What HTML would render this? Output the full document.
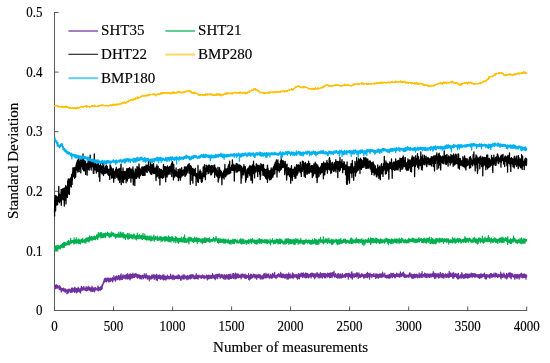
<!DOCTYPE html>
<html><head><meta charset="utf-8"><style>
html,body{margin:0;padding:0;background:#fff;}
body{width:550px;height:363px;overflow:hidden;}
svg{display:block;}
text{font-family:"Liberation Serif","Times New Roman",serif;fill:#000;stroke:#000;stroke-width:0.15px;}
</style></head><body>
<svg width="550" height="363" viewBox="0 0 550 363">
<g stroke="#595959" stroke-width="1" fill="none">
<line x1="54.5" y1="12" x2="54.5" y2="311"/>
<line x1="54" y1="310.5" x2="527.2" y2="310.5"/>
<line x1="54.5" y1="310.5" x2="58.5" y2="310.5"/><line x1="54.5" y1="250.9" x2="58.5" y2="250.9"/><line x1="54.5" y1="191.3" x2="58.5" y2="191.3"/><line x1="54.5" y1="131.7" x2="58.5" y2="131.7"/><line x1="54.5" y1="72.1" x2="58.5" y2="72.1"/><line x1="54.5" y1="12.5" x2="58.5" y2="12.5"/><line x1="54.5" y1="310.5" x2="54.5" y2="306.5"/><line x1="113.5" y1="310.5" x2="113.5" y2="306.5"/><line x1="172.6" y1="310.5" x2="172.6" y2="306.5"/><line x1="231.6" y1="310.5" x2="231.6" y2="306.5"/><line x1="290.6" y1="310.5" x2="290.6" y2="306.5"/><line x1="349.6" y1="310.5" x2="349.6" y2="306.5"/><line x1="408.7" y1="310.5" x2="408.7" y2="306.5"/><line x1="467.7" y1="310.5" x2="467.7" y2="306.5"/><line x1="526.7" y1="310.5" x2="526.7" y2="306.5"/>
</g>
<g font-size="13"><text transform="translate(42.4,315.1) scale(1,1.16)" text-anchor="end">0</text><text transform="translate(42.4,255.5) scale(1,1.16)" text-anchor="end">0.1</text><text transform="translate(42.4,195.9) scale(1,1.16)" text-anchor="end">0.2</text><text transform="translate(42.4,136.3) scale(1,1.16)" text-anchor="end">0.3</text><text transform="translate(42.4,76.7) scale(1,1.16)" text-anchor="end">0.4</text><text transform="translate(42.4,17.1) scale(1,1.16)" text-anchor="end">0.5</text><text transform="translate(54.5,331.2) scale(1,1.16)" text-anchor="middle">0</text><text transform="translate(113.5,331.2) scale(1,1.16)" text-anchor="middle">500</text><text transform="translate(172.6,331.2) scale(1,1.16)" text-anchor="middle">1000</text><text transform="translate(231.6,331.2) scale(1,1.16)" text-anchor="middle">1500</text><text transform="translate(290.6,331.2) scale(1,1.16)" text-anchor="middle">2000</text><text transform="translate(349.6,331.2) scale(1,1.16)" text-anchor="middle">2500</text><text transform="translate(408.7,331.2) scale(1,1.16)" text-anchor="middle">3000</text><text transform="translate(467.7,331.2) scale(1,1.16)" text-anchor="middle">3500</text><text transform="translate(526.7,331.2) scale(1,1.16)" text-anchor="middle">4000</text></g>
<polyline fill="none" stroke="#7030A0" stroke-width="1.2" stroke-linejoin="round" points="54.5,285.6 54.6,285.0 54.7,286.3 54.9,287.1 55.0,288.0 55.1,286.7 55.2,285.9 55.3,285.6 55.4,287.5 55.6,288.6 55.7,286.9 55.8,285.1 55.9,285.5 56.0,288.6 56.2,286.9 56.3,284.6 56.4,286.6 56.5,285.4 56.6,286.1 56.7,286.3 56.9,286.1 57.0,287.6 57.1,286.9 57.2,286.4 57.3,287.6 57.5,288.2 57.6,285.3 57.7,287.0 57.8,286.2 57.9,287.2 58.0,285.9 58.2,287.6 58.3,287.6 58.4,287.3 58.5,286.5 58.6,287.4 58.8,286.6 58.9,286.3 59.0,288.3 59.1,286.8 59.2,289.6 59.3,289.1 59.5,285.9 59.6,288.6 59.7,287.1 59.8,288.5 59.9,288.5 60.0,286.1 60.2,288.3 60.3,288.3 60.4,289.8 60.5,287.3 60.6,289.6 60.8,287.5 60.9,288.4 61.0,287.9 61.1,290.6 61.2,289.6 61.3,291.9 61.5,289.7 61.6,290.0 61.7,290.0 61.8,288.3 61.9,289.0 62.1,290.8 62.2,288.7 62.3,289.5 62.4,289.3 62.5,290.1 62.6,288.9 62.8,289.2 62.9,289.8 63.0,289.7 63.1,288.5 63.2,290.7 63.4,288.1 63.5,288.3 63.6,288.3 63.7,291.1 63.8,289.6 63.9,288.9 64.1,288.8 64.2,290.7 64.3,289.0 64.4,288.9 64.5,291.2 64.7,289.1 64.8,290.2 64.9,290.7 65.0,290.2 65.1,290.8 65.2,292.5 65.4,290.3 65.5,289.5 65.6,288.9 65.7,290.9 65.8,290.7 66.0,291.5 66.1,290.7 66.2,290.7 66.3,290.4 66.4,290.7 66.5,291.5 66.7,290.9 66.8,291.5 66.9,293.6 67.0,291.9 67.1,289.5 67.3,293.4 67.4,291.7 67.5,290.2 67.6,292.4 67.7,291.2 67.8,290.4 68.0,290.3 68.1,289.8 68.2,291.0 68.3,292.2 68.4,290.4 68.6,291.3 68.7,292.9 68.8,289.2 68.9,290.9 69.0,290.2 69.1,289.2 69.3,289.2 69.4,290.4 69.5,290.9 69.6,289.7 69.7,290.3 69.9,291.1 70.0,290.6 70.1,291.2 70.2,290.7 70.3,290.7 70.4,292.3 70.6,290.9 70.7,290.3 70.8,290.9 70.9,289.0 71.0,289.6 71.1,291.0 71.3,290.8 71.4,291.9 71.5,290.0 71.6,288.2 71.7,292.3 71.9,291.3 72.0,288.7 72.1,291.6 72.2,290.0 72.3,287.8 72.4,289.5 72.6,289.3 72.7,291.9 72.8,289.0 72.9,289.6 73.0,289.6 73.2,289.5 73.3,288.9 73.4,290.2 73.5,291.2 73.6,290.7 73.7,288.8 73.9,288.6 74.0,290.1 74.1,289.1 74.2,289.2 74.3,287.9 74.5,292.3 74.6,291.0 74.7,288.7 74.8,291.0 74.9,291.5 75.0,287.0 75.2,289.2 75.3,289.4 75.4,290.6 75.5,289.7 75.6,289.5 75.8,289.7 75.9,292.0 76.0,292.3 76.1,289.1 76.2,288.6 76.3,292.9 76.5,288.5 76.6,289.0 76.7,289.7 76.8,290.2 76.9,290.9 77.1,290.1 77.2,288.6 77.3,290.2 77.4,289.9 77.5,291.9 77.6,289.6 77.8,288.0 77.9,288.4 78.0,291.4 78.1,289.0 78.2,287.1 78.4,289.0 78.5,289.7 78.6,291.2 78.7,288.5 78.8,290.6 78.9,290.7 79.1,288.9 79.2,289.6 79.3,291.9 79.4,291.9 79.5,290.8 79.7,290.2 79.8,291.2 79.9,289.6 80.0,289.7 80.1,288.7 80.2,289.8 80.4,289.6 80.5,293.0 80.6,289.4 80.7,291.1 80.8,291.2 80.9,289.3 81.1,290.9 81.2,286.8 81.3,289.5 81.4,290.3 81.5,286.4 81.7,287.8 81.8,290.4 81.9,288.8 82.0,287.7 82.1,288.5 82.2,288.2 82.4,289.7 82.5,289.3 82.6,288.4 82.7,287.9 82.8,288.6 83.0,290.2 83.1,289.0 83.2,289.3 83.3,288.4 83.4,287.0 83.5,287.7 83.7,289.4 83.8,288.7 83.9,287.5 84.0,286.7 84.1,288.8 84.3,288.3 84.4,288.3 84.5,288.3 84.6,289.1 84.7,289.1 84.8,289.9 85.0,289.9 85.1,290.4 85.2,289.8 85.3,288.4 85.4,288.8 85.6,289.4 85.7,288.5 85.8,289.5 85.9,290.3 86.0,287.9 86.1,286.7 86.3,290.3 86.4,288.9 86.5,289.7 86.6,287.3 86.7,290.9 86.9,289.7 87.0,288.7 87.1,288.4 87.2,289.0 87.3,288.6 87.4,288.5 87.6,287.5 87.7,290.3 87.8,288.8 87.9,288.9 88.0,288.9 88.2,286.0 88.3,289.5 88.4,288.4 88.5,288.5 88.6,288.9 88.7,287.7 88.9,289.9 89.0,288.1 89.1,287.8 89.2,287.9 89.3,289.1 89.5,289.8 89.6,288.2 89.7,287.2 89.8,290.3 89.9,287.7 90.0,290.5 90.2,289.0 90.3,288.2 90.4,288.3 90.5,289.6 90.6,290.1 90.8,288.8 90.9,290.2 91.0,291.6 91.1,288.8 91.2,287.7 91.3,287.8 91.5,287.4 91.6,288.3 91.7,288.3 91.8,287.5 91.9,289.8 92.0,286.0 92.2,287.6 92.3,291.6 92.4,290.4 92.5,289.8 92.6,289.8 92.8,291.4 92.9,289.9 93.0,289.4 93.1,287.9 93.2,289.3 93.3,288.5 93.5,288.6 93.6,288.6 93.7,289.4 93.8,289.1 93.9,290.5 94.1,287.9 94.2,289.3 94.3,291.8 94.4,289.6 94.5,291.0 94.6,290.9 94.8,291.1 94.9,290.5 95.0,287.9 95.1,289.3 95.2,289.1 95.4,287.7 95.5,289.0 95.6,288.1 95.7,287.6 95.8,289.8 95.9,289.5 96.1,288.7 96.2,288.4 96.3,288.9 96.4,289.0 96.5,289.0 96.7,289.4 96.8,289.0 96.9,289.9 97.0,290.1 97.1,289.9 97.2,288.6 97.4,288.7 97.5,289.9 97.6,289.2 97.7,289.3 97.8,286.4 98.0,286.1 98.1,289.8 98.2,289.8 98.3,291.0 98.4,290.2 98.5,289.6 98.7,289.3 98.8,287.5 98.9,290.2 99.0,288.3 99.1,289.5 99.3,289.1 99.4,289.1 99.5,289.8 99.6,288.1 99.7,288.1 99.8,287.5 100.0,288.0 100.1,290.3 100.2,287.8 100.3,289.6 100.4,289.1 100.6,288.9 100.7,288.9 100.8,286.7 100.9,288.2 101.0,289.6 101.1,286.8 101.3,287.5 101.4,286.7 101.5,287.8 101.6,286.1 101.7,289.3 101.8,286.7 102.0,284.9 102.1,288.6 102.2,287.2 102.3,286.3 102.4,286.0 102.6,284.6 102.7,284.4 102.8,285.2 102.9,285.1 103.0,284.7 103.1,283.5 103.3,282.4 103.4,282.3 103.5,283.6 103.6,283.6 103.7,281.1 103.9,280.6 104.0,282.3 104.1,281.5 104.2,281.5 104.3,279.0 104.4,280.1 104.6,279.9 104.7,280.7 104.8,278.3 104.9,281.8 105.0,280.6 105.2,280.7 105.3,278.7 105.4,280.1 105.5,281.6 105.6,278.1 105.7,280.3 105.9,280.7 106.0,279.0 106.1,280.8 106.2,279.3 106.3,281.2 106.5,280.3 106.6,279.9 106.7,282.0 106.8,280.5 106.9,281.0 107.0,278.0 107.2,278.7 107.3,280.5 107.4,280.5 107.5,279.4 107.6,280.4 107.8,278.2 107.9,279.8 108.0,278.1 108.1,279.9 108.2,279.0 108.3,278.8 108.5,279.6 108.6,281.8 108.7,278.4 108.8,278.9 108.9,280.9 109.1,279.1 109.2,281.8 109.3,279.9 109.4,279.8 109.5,280.1 109.6,281.7 109.8,280.4 109.9,280.3 110.0,279.9 110.1,277.8 110.2,278.6 110.4,281.4 110.5,280.6 110.6,280.2 110.7,280.4 110.8,278.9 110.9,280.0 111.1,278.5 111.2,280.0 111.3,278.7 111.4,279.3 111.5,280.1 111.7,279.1 111.8,280.3 111.9,280.1 112.0,280.0 112.1,281.1 112.2,277.7 112.4,277.6 112.5,280.2 112.6,280.6 112.7,281.9 112.8,280.4 112.9,280.4 113.1,278.4 113.2,280.3 113.3,280.2 113.4,278.1 113.5,278.3 113.7,279.2 113.8,279.6 113.9,275.7 114.0,279.3 114.1,279.5 114.2,279.0 114.4,279.5 114.5,279.7 114.6,277.9 114.7,279.6 114.8,278.7 115.0,277.9 115.1,279.2 115.2,280.7 115.3,277.1 115.4,276.9 115.5,276.8 115.7,281.1 115.8,278.4 115.9,278.6 116.0,277.7 116.1,277.4 116.3,276.1 116.4,278.7 116.5,278.7 116.6,276.0 116.7,277.0 116.8,277.3 117.0,278.1 117.1,278.4 117.2,279.4 117.3,279.7 117.4,279.3 117.6,279.6 117.7,276.5 117.8,277.2 117.9,279.2 118.0,278.2 118.1,277.8 118.3,275.4 118.4,275.6 118.5,278.7 118.6,278.2 118.7,277.4 118.9,277.3 119.0,275.7 119.1,278.2 119.2,279.0 119.3,279.8 119.4,277.9 119.6,277.6 119.7,276.5 119.8,279.3 119.9,279.9 120.0,277.1 120.2,278.2 120.3,278.0 120.4,277.2 120.5,274.9 120.6,277.4 120.7,278.6 120.9,276.1 121.0,276.9 121.1,273.9 121.2,279.4 121.3,278.4 121.5,277.9 121.6,277.5 121.7,277.0 121.8,277.6 121.9,277.3 122.0,277.4 122.2,277.6 122.3,277.7 122.4,279.4 122.5,275.8 122.6,277.8 122.7,276.7 122.9,276.0 123.0,274.5 123.1,278.0 123.2,276.1 123.3,276.3 123.5,277.7 123.6,275.8 123.7,277.1 123.8,276.9 123.9,277.9 124.0,278.2 124.2,275.9 124.3,278.0 124.4,276.7 124.5,276.9 124.6,276.5 124.8,277.7 124.9,275.2 125.0,277.0 125.1,278.0 125.2,276.3 125.3,279.0 125.5,275.7 125.6,276.8 125.7,275.9 125.8,275.7 125.9,275.1 126.1,275.8 126.2,276.4 126.3,275.4 126.4,277.4 126.5,278.2 126.6,274.5 126.8,277.3 126.9,276.5 127.0,276.6 127.1,279.2 127.2,277.7 127.4,276.6 127.5,276.4 127.6,273.6 127.7,277.1 127.8,275.3 127.9,276.4 128.1,276.3 128.2,277.3 128.3,278.6 128.4,277.3 128.5,277.7 128.7,275.9 128.8,276.7 128.9,277.1 129.0,274.4 129.1,278.6 129.2,275.3 129.4,274.7 129.5,278.2 129.6,278.8 129.7,275.4 129.8,275.5 130.0,280.0 130.1,276.4 130.2,273.9 130.3,275.6 130.4,278.7 130.5,277.1 130.7,277.2 130.8,277.7 130.9,277.1 131.0,275.8 131.1,274.3 131.3,276.7 131.4,274.8 131.5,276.1 131.6,278.2 131.7,276.7 131.8,276.1 132.0,276.1 132.1,276.9 132.2,277.1 132.3,274.3 132.4,276.1 132.6,277.9 132.7,276.7 132.8,274.8 132.9,274.9 133.0,273.2 133.1,274.7 133.3,277.5 133.4,275.5 133.5,274.5 133.6,274.8 133.7,275.4 133.8,275.4 134.0,275.1 134.1,274.6 134.2,276.3 134.3,277.4 134.4,274.9 134.6,274.9 134.7,277.0 134.8,273.8 134.9,274.9 135.0,275.2 135.1,275.9 135.3,275.4 135.4,274.7 135.5,276.2 135.6,274.4 135.7,273.8 135.9,273.4 136.0,276.8 136.1,273.8 136.2,276.5 136.3,276.8 136.4,276.9 136.6,275.8 136.7,275.3 136.8,276.1 136.9,275.3 137.0,274.5 137.2,277.5 137.3,274.9 137.4,278.2 137.5,276.6 137.6,275.5 137.7,276.5 137.9,277.5 138.0,274.4 138.1,274.9 138.2,274.8 138.3,276.3 138.5,276.6 138.6,276.2 138.7,275.3 138.8,275.6 138.9,277.7 139.0,277.7 139.2,276.5 139.3,274.8 139.4,277.2 139.5,276.8 139.6,276.8 139.8,278.6 139.9,277.6 140.0,275.5 140.1,275.5 140.2,278.3 140.3,277.0 140.5,277.8 140.6,276.6 140.7,275.6 140.8,277.1 140.9,278.7 141.1,277.2 141.2,275.5 141.3,276.4 141.4,276.2 141.5,277.0 141.6,278.0 141.8,279.1 141.9,277.0 142.0,276.2 142.1,276.8 142.2,276.7 142.4,276.2 142.5,276.7 142.6,276.6 142.7,275.2 142.8,277.2 142.9,276.1 143.1,275.4 143.2,277.1 143.3,275.9 143.4,278.6 143.5,277.0 143.7,276.5 143.8,275.5 143.9,275.9 144.0,277.5 144.1,275.6 144.2,277.4 144.4,273.9 144.5,276.7 144.6,277.5 144.7,276.9 144.8,276.5 144.9,277.7 145.1,275.5 145.2,275.4 145.3,276.7 145.4,278.1 145.5,277.2 145.7,276.5 145.8,277.1 145.9,277.3 146.0,275.3 146.1,273.5 146.2,275.7 146.4,275.1 146.5,276.3 146.6,275.6 146.7,276.0 146.8,277.6 147.0,277.3 147.1,277.1 147.2,279.2 147.3,276.7 147.4,276.8 147.5,278.8 147.7,276.0 147.8,275.4 147.9,279.0 148.0,277.8 148.1,278.1 148.3,278.2 148.4,278.5 148.5,276.9 148.6,277.3 148.7,276.1 148.8,277.6 149.0,277.6 149.1,276.8 149.2,278.1 149.3,280.8 149.4,275.8 149.6,278.2 149.7,278.3 149.8,278.4 149.9,276.1 150.0,278.4 150.1,277.7 150.3,276.8 150.4,276.5 150.5,277.1 150.6,277.9 150.7,277.8 150.9,279.5 151.0,276.3 151.1,277.5 151.2,276.2 151.3,277.6 151.4,276.9 151.6,276.0 151.7,275.1 151.8,275.8 151.9,277.0 152.0,278.5 152.2,277.7 152.3,275.3 152.4,276.2 152.5,276.9 152.6,276.7 152.7,276.9 152.9,277.8 153.0,277.2 153.1,276.1 153.2,274.7 153.3,276.6 153.5,275.0 153.6,276.9 153.7,277.5 153.8,275.5 153.9,277.0 154.0,276.7 154.2,279.4 154.3,277.7 154.4,274.9 154.5,277.7 154.6,277.7 154.7,277.0 154.9,276.8 155.0,277.9 155.1,278.0 155.2,277.7 155.3,276.0 155.5,276.9 155.6,275.3 155.7,275.3 155.8,276.4 155.9,275.8 156.0,276.6 156.2,280.0 156.3,277.6 156.4,275.9 156.5,274.4 156.6,275.9 156.8,275.2 156.9,274.3 157.0,277.8 157.1,276.3 157.2,277.4 157.3,280.6 157.5,277.2 157.6,277.0 157.7,277.3 157.8,276.6 157.9,275.9 158.1,276.7 158.2,278.3 158.3,276.6 158.4,275.3 158.5,275.5 158.6,275.8 158.8,277.0 158.9,277.6 159.0,277.6 159.1,278.5 159.2,276.9 159.4,278.1 159.5,277.5 159.6,278.0 159.7,274.9 159.8,278.7 159.9,275.3 160.1,275.8 160.2,278.1 160.3,276.7 160.4,279.3 160.5,277.4 160.7,275.9 160.8,277.3 160.9,276.7 161.0,279.0 161.1,279.1 161.2,278.0 161.4,276.7 161.5,277.3 161.6,278.4 161.7,276.2 161.8,276.3 162.0,278.3 162.1,278.2 162.2,277.0 162.3,277.0 162.4,275.0 162.5,278.8 162.7,277.3 162.8,275.8 162.9,276.2 163.0,276.5 163.1,279.6 163.3,278.4 163.4,276.0 163.5,279.9 163.6,279.3 163.7,276.5 163.8,274.6 164.0,278.9 164.1,277.1 164.2,277.7 164.3,277.2 164.4,279.3 164.6,279.6 164.7,278.8 164.8,277.6 164.9,278.1 165.0,278.5 165.1,275.8 165.3,279.2 165.4,277.3 165.5,277.9 165.6,277.8 165.7,278.6 165.8,278.8 166.0,280.1 166.1,277.0 166.2,276.3 166.3,277.5 166.4,276.5 166.6,278.3 166.7,276.3 166.8,277.4 166.9,278.3 167.0,278.4 167.1,277.4 167.3,278.8 167.4,278.7 167.5,275.1 167.6,277.5 167.7,277.3 167.9,276.7 168.0,276.3 168.1,277.2 168.2,277.6 168.3,277.5 168.4,278.8 168.6,278.3 168.7,276.5 168.8,276.3 168.9,278.2 169.0,276.4 169.2,277.4 169.3,277.8 169.4,278.5 169.5,277.9 169.6,279.0 169.7,276.8 169.9,278.1 170.0,276.5 170.1,277.6 170.2,277.5 170.3,276.2 170.5,274.2 170.6,278.5 170.7,277.8 170.8,277.5 170.9,276.5 171.0,277.0 171.2,277.9 171.3,277.4 171.4,278.8 171.5,277.5 171.6,276.4 171.8,278.1 171.9,276.6 172.0,277.7 172.1,275.2 172.2,277.0 172.3,278.1 172.5,276.6 172.6,277.4 172.7,278.1 172.8,277.5 172.9,279.6 173.1,277.1 173.2,277.2 173.3,277.2 173.4,275.0 173.5,275.5 173.6,278.0 173.8,277.0 173.9,279.0 174.0,277.2 174.1,277.1 174.2,278.5 174.4,277.6 174.5,279.2 174.6,276.0 174.7,277.7 174.8,278.0 174.9,277.8 175.1,278.5 175.2,278.4 175.3,277.1 175.4,276.4 175.5,278.2 175.6,277.1 175.8,278.2 175.9,278.6 176.0,277.2 176.1,275.9 176.2,276.7 176.4,277.9 176.5,276.7 176.6,278.4 176.7,277.1 176.8,277.2 176.9,276.3 177.1,276.9 177.2,278.4 177.3,276.7 177.4,276.7 177.5,276.2 177.7,278.1 177.8,275.3 177.9,276.4 178.0,278.3 178.1,278.9 178.2,277.0 178.4,278.4 178.5,274.9 178.6,278.2 178.7,277.7 178.8,275.9 179.0,275.2 179.1,276.8 179.2,277.7 179.3,277.8 179.4,277.5 179.5,278.3 179.7,278.3 179.8,275.8 179.9,277.0 180.0,276.8 180.1,278.6 180.3,276.8 180.4,278.6 180.5,277.5 180.6,280.2 180.7,277.3 180.8,277.3 181.0,277.2 181.1,277.5 181.2,280.2 181.3,276.7 181.4,276.2 181.6,277.0 181.7,278.0 181.8,276.0 181.9,278.1 182.0,278.1 182.1,277.0 182.3,276.8 182.4,276.2 182.5,276.8 182.6,276.2 182.7,278.6 182.9,279.1 183.0,276.8 183.1,277.1 183.2,274.9 183.3,276.5 183.4,277.5 183.6,277.5 183.7,277.3 183.8,278.2 183.9,277.3 184.0,276.7 184.2,279.1 184.3,274.9 184.4,275.8 184.5,276.3 184.6,276.3 184.7,276.3 184.9,277.0 185.0,276.4 185.1,277.2 185.2,278.0 185.3,277.3 185.5,277.4 185.6,276.2 185.7,275.9 185.8,277.0 185.9,278.4 186.0,277.8 186.2,278.6 186.3,278.5 186.4,278.6 186.5,276.3 186.6,278.8 186.7,278.2 186.9,279.8 187.0,278.0 187.1,277.7 187.2,277.1 187.3,277.4 187.5,275.3 187.6,276.9 187.7,277.2 187.8,278.4 187.9,276.4 188.0,277.3 188.2,279.3 188.3,276.5 188.4,278.1 188.5,276.4 188.6,276.9 188.8,277.6 188.9,278.0 189.0,276.4 189.1,275.7 189.2,278.7 189.3,277.1 189.5,277.8 189.6,278.0 189.7,277.7 189.8,276.5 189.9,276.7 190.1,274.9 190.2,277.0 190.3,276.2 190.4,276.7 190.5,279.0 190.6,277.5 190.8,276.8 190.9,275.1 191.0,277.5 191.1,278.5 191.2,275.7 191.4,277.1 191.5,276.0 191.6,276.4 191.7,276.1 191.8,274.6 191.9,275.9 192.1,274.6 192.2,278.1 192.3,277.7 192.4,276.5 192.5,276.8 192.7,276.5 192.8,276.7 192.9,276.7 193.0,276.2 193.1,276.3 193.2,274.9 193.4,275.3 193.5,275.7 193.6,276.7 193.7,276.0 193.8,278.7 194.0,276.3 194.1,276.1 194.2,277.1 194.3,277.8 194.4,278.8 194.5,277.7 194.7,275.9 194.8,276.4 194.9,277.9 195.0,277.0 195.1,277.6 195.3,276.6 195.4,278.6 195.5,278.5 195.6,278.1 195.7,277.0 195.8,275.0 196.0,275.3 196.1,277.3 196.2,277.7 196.3,273.5 196.4,276.4 196.5,278.3 196.7,278.1 196.8,276.4 196.9,277.7 197.0,277.0 197.1,276.7 197.3,278.2 197.4,278.3 197.5,276.3 197.6,275.8 197.7,275.4 197.8,275.2 198.0,278.5 198.1,279.1 198.2,277.1 198.3,278.1 198.4,276.1 198.6,276.8 198.7,278.0 198.8,277.3 198.9,276.9 199.0,275.0 199.1,275.2 199.3,276.4 199.4,276.3 199.5,276.8 199.6,276.1 199.7,276.6 199.9,277.0 200.0,277.5 200.1,276.9 200.2,276.2 200.3,276.5 200.4,277.9 200.6,276.6 200.7,275.7 200.8,275.6 200.9,277.1 201.0,277.4 201.2,278.2 201.3,276.3 201.4,278.3 201.5,276.3 201.6,276.4 201.7,276.0 201.9,277.3 202.0,277.9 202.1,276.6 202.2,276.1 202.3,274.9 202.5,276.8 202.6,276.3 202.7,276.4 202.8,275.9 202.9,275.7 203.0,276.2 203.2,277.2 203.3,277.9 203.4,276.7 203.5,277.2 203.6,276.6 203.8,276.7 203.9,275.3 204.0,278.0 204.1,277.7 204.2,278.7 204.3,276.3 204.5,277.2 204.6,276.0 204.7,277.4 204.8,277.0 204.9,278.0 205.1,277.1 205.2,278.0 205.3,276.7 205.4,278.0 205.5,277.0 205.6,276.9 205.8,277.5 205.9,277.8 206.0,275.8 206.1,275.6 206.2,277.6 206.4,277.3 206.5,275.0 206.6,275.4 206.7,276.5 206.8,277.7 206.9,277.6 207.1,278.5 207.2,278.7 207.3,280.0 207.4,275.6 207.5,277.2 207.6,278.5 207.8,275.7 207.9,275.5 208.0,277.4 208.1,278.4 208.2,278.5 208.4,275.0 208.5,275.6 208.6,276.9 208.7,276.3 208.8,277.3 208.9,277.0 209.1,278.9 209.2,276.7 209.3,277.0 209.4,276.9 209.5,278.0 209.7,275.4 209.8,277.1 209.9,275.8 210.0,275.0 210.1,278.0 210.2,277.2 210.4,278.2 210.5,276.9 210.6,277.3 210.7,276.7 210.8,277.2 211.0,276.0 211.1,278.5 211.2,275.5 211.3,278.5 211.4,276.3 211.5,277.5 211.7,276.6 211.8,277.0 211.9,278.2 212.0,276.6 212.1,275.4 212.3,276.7 212.4,277.2 212.5,273.6 212.6,277.6 212.7,277.8 212.8,274.4 213.0,276.3 213.1,277.5 213.2,275.2 213.3,276.0 213.4,276.2 213.6,277.2 213.7,277.9 213.8,276.6 213.9,276.7 214.0,277.7 214.1,277.3 214.3,276.6 214.4,278.3 214.5,275.1 214.6,276.9 214.7,276.3 214.9,276.2 215.0,277.0 215.1,276.9 215.2,279.7 215.3,277.6 215.4,277.2 215.6,278.8 215.7,278.0 215.8,274.6 215.9,276.9 216.0,277.7 216.2,276.1 216.3,277.1 216.4,276.2 216.5,277.2 216.6,274.8 216.7,274.4 216.9,276.0 217.0,276.9 217.1,278.2 217.2,276.2 217.3,275.6 217.4,277.6 217.6,276.5 217.7,278.6 217.8,276.3 217.9,274.0 218.0,275.4 218.2,275.2 218.3,274.6 218.4,275.3 218.5,275.4 218.6,275.8 218.7,275.5 218.9,276.6 219.0,276.6 219.1,276.3 219.2,276.3 219.3,273.8 219.5,274.1 219.6,275.0 219.7,276.3 219.8,274.3 219.9,275.5 220.0,276.3 220.2,278.4 220.3,276.4 220.4,275.4 220.5,277.4 220.6,276.3 220.8,275.8 220.9,277.4 221.0,275.0 221.1,276.4 221.2,276.2 221.3,277.2 221.5,274.8 221.6,274.6 221.7,275.7 221.8,275.9 221.9,276.3 222.1,275.8 222.2,276.8 222.3,277.1 222.4,276.6 222.5,275.1 222.6,277.7 222.8,274.6 222.9,276.2 223.0,277.5 223.1,275.8 223.2,278.1 223.4,278.9 223.5,278.5 223.6,277.2 223.7,277.9 223.8,276.1 223.9,277.2 224.1,277.3 224.2,276.9 224.3,277.0 224.4,276.6 224.5,274.5 224.7,277.4 224.8,277.3 224.9,279.4 225.0,277.8 225.1,277.1 225.2,278.0 225.4,277.8 225.5,277.0 225.6,276.6 225.7,275.3 225.8,277.2 226.0,279.0 226.1,274.9 226.2,276.0 226.3,278.0 226.4,277.3 226.5,277.6 226.7,274.9 226.8,276.4 226.9,277.7 227.0,277.8 227.1,277.5 227.3,276.1 227.4,277.8 227.5,275.7 227.6,276.0 227.7,275.8 227.8,278.9 228.0,276.7 228.1,277.3 228.2,274.6 228.3,278.5 228.4,277.8 228.5,275.3 228.7,275.3 228.8,279.3 228.9,276.1 229.0,279.5 229.1,276.7 229.3,274.3 229.4,278.6 229.5,277.8 229.6,278.0 229.7,276.6 229.8,276.9 230.0,278.3 230.1,276.2 230.2,274.8 230.3,278.2 230.4,276.3 230.6,278.5 230.7,276.4 230.8,276.4 230.9,276.6 231.0,274.0 231.1,278.2 231.3,276.0 231.4,276.5 231.5,278.5 231.6,276.8 231.7,277.7 231.9,277.0 232.0,277.5 232.1,276.8 232.2,277.8 232.3,276.1 232.4,276.9 232.6,275.5 232.7,277.7 232.8,273.6 232.9,276.4 233.0,276.6 233.2,276.5 233.3,276.1 233.4,277.6 233.5,278.5 233.6,275.3 233.7,273.6 233.9,274.6 234.0,274.9 234.1,275.7 234.2,275.8 234.3,277.1 234.5,275.3 234.6,275.7 234.7,275.9 234.8,274.7 234.9,275.3 235.0,279.0 235.2,275.6 235.3,274.6 235.4,273.1 235.5,277.0 235.6,275.4 235.8,275.0 235.9,278.7 236.0,277.5 236.1,273.8 236.2,275.4 236.3,277.1 236.5,276.9 236.6,274.6 236.7,278.1 236.8,278.2 236.9,274.7 237.1,273.9 237.2,274.4 237.3,276.9 237.4,277.4 237.5,276.4 237.6,275.5 237.8,276.1 237.9,276.9 238.0,274.8 238.1,274.2 238.2,276.2 238.3,277.8 238.5,276.6 238.6,276.6 238.7,275.5 238.8,277.5 238.9,274.3 239.1,276.3 239.2,275.7 239.3,276.2 239.4,275.3 239.5,277.3 239.6,276.3 239.8,275.7 239.9,277.0 240.0,276.3 240.1,275.8 240.2,275.7 240.4,277.3 240.5,275.2 240.6,276.1 240.7,276.0 240.8,276.7 240.9,276.1 241.1,278.9 241.2,274.2 241.3,277.0 241.4,276.2 241.5,277.5 241.7,274.3 241.8,277.6 241.9,274.5 242.0,277.0 242.1,276.8 242.2,276.2 242.4,275.3 242.5,275.2 242.6,276.2 242.7,275.2 242.8,273.8 243.0,274.0 243.1,277.1 243.2,277.1 243.3,276.8 243.4,276.2 243.5,276.6 243.7,276.8 243.8,276.5 243.9,275.2 244.0,275.3 244.1,274.8 244.3,276.4 244.4,275.1 244.5,276.1 244.6,277.9 244.7,275.8 244.8,277.5 245.0,278.2 245.1,274.1 245.2,274.6 245.3,276.9 245.4,275.5 245.6,277.0 245.7,277.2 245.8,275.7 245.9,277.3 246.0,278.4 246.1,277.4 246.3,275.2 246.4,276.1 246.5,275.6 246.6,278.2 246.7,276.0 246.9,275.4 247.0,276.3 247.1,276.9 247.2,275.8 247.3,276.4 247.4,276.3 247.6,277.2 247.7,277.5 247.8,276.7 247.9,275.8 248.0,276.9 248.2,275.4 248.3,277.7 248.4,276.9 248.5,276.8 248.6,273.6 248.7,279.4 248.9,278.3 249.0,278.1 249.1,276.8 249.2,277.5 249.3,280.1 249.4,275.9 249.6,277.6 249.7,277.5 249.8,276.9 249.9,277.2 250.0,275.6 250.2,277.5 250.3,275.2 250.4,278.9 250.5,277.7 250.6,275.7 250.7,274.1 250.9,276.7 251.0,277.2 251.1,275.4 251.2,278.5 251.3,276.8 251.5,275.9 251.6,274.7 251.7,276.2 251.8,276.1 251.9,277.0 252.0,277.5 252.2,276.2 252.3,276.7 252.4,277.8 252.5,276.8 252.6,275.7 252.8,276.7 252.9,275.3 253.0,276.4 253.1,275.9 253.2,274.5 253.3,276.5 253.5,275.9 253.6,276.7 253.7,274.2 253.8,277.1 253.9,277.2 254.1,275.4 254.2,275.7 254.3,275.9 254.4,275.8 254.5,276.8 254.6,275.0 254.8,274.5 254.9,275.6 255.0,278.2 255.1,275.5 255.2,274.8 255.4,274.9 255.5,276.3 255.6,277.5 255.7,275.2 255.8,276.4 255.9,276.4 256.1,276.8 256.2,276.4 256.3,277.5 256.4,277.1 256.5,275.6 256.7,279.3 256.8,274.7 256.9,274.8 257.0,277.6 257.1,276.6 257.2,276.1 257.4,276.7 257.5,277.2 257.6,275.9 257.7,275.6 257.8,275.1 258.0,275.3 258.1,275.4 258.2,277.7 258.3,276.7 258.4,277.0 258.5,275.6 258.7,277.5 258.8,274.4 258.9,276.8 259.0,277.1 259.1,275.5 259.2,275.0 259.4,276.9 259.5,275.4 259.6,275.2 259.7,276.2 259.8,274.9 260.0,276.1 260.1,278.7 260.2,275.8 260.3,277.5 260.4,275.1 260.5,276.5 260.7,276.1 260.8,276.3 260.9,277.4 261.0,279.2 261.1,276.5 261.3,278.2 261.4,277.1 261.5,277.6 261.6,276.1 261.7,275.9 261.8,276.5 262.0,275.8 262.1,276.7 262.2,275.5 262.3,276.7 262.4,276.9 262.6,278.9 262.7,278.7 262.8,277.2 262.9,276.0 263.0,277.3 263.1,277.5 263.3,276.2 263.4,275.4 263.5,274.2 263.6,276.3 263.7,278.6 263.9,276.0 264.0,276.6 264.1,276.5 264.2,276.6 264.3,276.9 264.4,273.6 264.6,275.7 264.7,276.3 264.8,275.8 264.9,277.3 265.0,275.4 265.2,276.9 265.3,277.9 265.4,275.5 265.5,275.8 265.6,275.4 265.7,276.7 265.9,273.2 266.0,274.0 266.1,275.5 266.2,276.9 266.3,276.6 266.5,274.9 266.6,277.8 266.7,276.0 266.8,275.2 266.9,276.6 267.0,277.5 267.2,275.9 267.3,274.2 267.4,275.4 267.5,276.2 267.6,277.2 267.8,274.9 267.9,276.4 268.0,274.7 268.1,276.3 268.2,274.6 268.3,275.6 268.5,274.4 268.6,275.0 268.7,274.3 268.8,273.9 268.9,277.7 269.1,277.7 269.2,276.8 269.3,275.9 269.4,278.1 269.5,276.0 269.6,276.8 269.8,277.7 269.9,276.6 270.0,278.1 270.1,276.1 270.2,276.1 270.3,276.4 270.5,274.9 270.6,274.9 270.7,277.1 270.8,274.1 270.9,277.5 271.1,276.5 271.2,277.5 271.3,277.0 271.4,276.8 271.5,278.1 271.6,275.9 271.8,275.8 271.9,277.3 272.0,275.1 272.1,277.2 272.2,276.7 272.4,275.2 272.5,274.3 272.6,273.3 272.7,278.0 272.8,273.9 272.9,274.3 273.1,276.7 273.2,276.2 273.3,275.9 273.4,275.7 273.5,275.1 273.7,274.5 273.8,274.7 273.9,276.3 274.0,276.9 274.1,277.0 274.2,275.5 274.4,272.9 274.5,276.2 274.6,275.4 274.7,272.4 274.8,277.3 275.0,275.9 275.1,275.6 275.2,275.9 275.3,275.8 275.4,276.0 275.5,275.9 275.7,275.8 275.8,276.5 275.9,276.2 276.0,278.7 276.1,276.0 276.3,275.2 276.4,275.2 276.5,276.4 276.6,276.1 276.7,276.2 276.8,275.7 277.0,275.7 277.1,276.9 277.2,277.6 277.3,276.4 277.4,275.8 277.6,274.6 277.7,274.6 277.8,276.0 277.9,275.6 278.0,275.8 278.1,274.6 278.3,275.7 278.4,273.5 278.5,274.4 278.6,274.9 278.7,276.5 278.9,275.1 279.0,274.6 279.1,276.1 279.2,275.6 279.3,276.9 279.4,276.1 279.6,276.0 279.7,275.5 279.8,276.5 279.9,274.9 280.0,273.9 280.1,276.8 280.3,275.2 280.4,275.8 280.5,276.5 280.6,277.0 280.7,272.3 280.9,274.6 281.0,277.3 281.1,273.8 281.2,276.5 281.3,275.5 281.4,274.9 281.6,275.8 281.7,273.9 281.8,276.5 281.9,277.4 282.0,274.3 282.2,275.2 282.3,277.5 282.4,276.5 282.5,275.6 282.6,277.7 282.7,274.0 282.9,275.7 283.0,276.1 283.1,275.6 283.2,277.0 283.3,274.0 283.5,276.1 283.6,275.1 283.7,277.4 283.8,277.2 283.9,275.1 284.0,274.6 284.2,275.9 284.3,274.9 284.4,275.3 284.5,276.5 284.6,275.4 284.8,278.2 284.9,276.1 285.0,275.3 285.1,274.6 285.2,275.4 285.3,277.3 285.5,276.7 285.6,277.8 285.7,277.6 285.8,276.7 285.9,275.2 286.1,275.9 286.2,276.2 286.3,274.1 286.4,276.5 286.5,274.9 286.6,276.0 286.8,275.5 286.9,276.8 287.0,279.3 287.1,274.7 287.2,276.1 287.4,278.5 287.5,275.0 287.6,275.8 287.7,275.9 287.8,276.4 287.9,274.1 288.1,276.4 288.2,276.7 288.3,279.1 288.4,275.9 288.5,275.3 288.7,276.2 288.8,272.8 288.9,276.4 289.0,277.9 289.1,275.9 289.2,275.9 289.4,275.7 289.5,276.1 289.6,274.5 289.7,277.8 289.8,275.4 290.0,275.4 290.1,278.0 290.2,276.0 290.3,275.5 290.4,278.0 290.5,276.3 290.7,277.2 290.8,275.4 290.9,273.9 291.0,276.3 291.1,277.8 291.2,275.5 291.4,276.5 291.5,277.0 291.6,276.4 291.7,276.2 291.8,277.0 292.0,276.4 292.1,275.5 292.2,277.4 292.3,277.1 292.4,276.6 292.5,277.0 292.7,272.9 292.8,276.4 292.9,276.2 293.0,273.7 293.1,278.6 293.3,276.5 293.4,275.6 293.5,275.6 293.6,276.4 293.7,276.1 293.8,274.2 294.0,275.6 294.1,276.7 294.2,276.9 294.3,277.2 294.4,274.8 294.6,275.4 294.7,276.6 294.8,275.4 294.9,276.4 295.0,275.2 295.1,276.9 295.3,276.3 295.4,276.9 295.5,276.2 295.6,275.3 295.7,274.7 295.9,276.3 296.0,275.5 296.1,274.4 296.2,275.5 296.3,277.1 296.4,277.7 296.6,277.1 296.7,277.8 296.8,275.7 296.9,275.9 297.0,274.9 297.2,275.1 297.3,278.0 297.4,276.5 297.5,276.8 297.6,279.1 297.7,278.2 297.9,274.8 298.0,277.0 298.1,274.9 298.2,277.0 298.3,273.5 298.5,274.6 298.6,274.6 298.7,278.1 298.8,273.6 298.9,277.0 299.0,277.0 299.2,275.8 299.3,276.7 299.4,278.8 299.5,276.0 299.6,275.3 299.8,277.3 299.9,276.6 300.0,274.3 300.1,275.9 300.2,276.0 300.3,274.3 300.5,274.5 300.6,274.9 300.7,274.3 300.8,276.4 300.9,276.1 301.1,273.1 301.2,275.3 301.3,276.0 301.4,274.2 301.5,275.5 301.6,276.3 301.8,273.9 301.9,275.6 302.0,273.1 302.1,276.9 302.2,275.1 302.3,274.2 302.5,273.8 302.6,274.0 302.7,277.6 302.8,275.0 302.9,275.3 303.1,275.5 303.2,274.2 303.3,276.9 303.4,272.9 303.5,277.0 303.6,275.0 303.8,276.0 303.9,276.3 304.0,276.9 304.1,274.4 304.2,276.6 304.4,275.8 304.5,275.6 304.6,275.5 304.7,277.2 304.8,276.3 304.9,277.3 305.1,276.9 305.2,273.3 305.3,275.6 305.4,276.9 305.5,274.6 305.7,273.6 305.8,272.8 305.9,278.1 306.0,274.5 306.1,275.8 306.2,274.3 306.4,276.1 306.5,277.6 306.6,273.9 306.7,275.6 306.8,274.7 307.0,273.3 307.1,274.6 307.2,275.7 307.3,277.2 307.4,277.2 307.5,275.6 307.7,273.6 307.8,276.5 307.9,275.6 308.0,275.6 308.1,274.2 308.3,275.4 308.4,278.0 308.5,277.4 308.6,277.2 308.7,276.4 308.8,275.1 309.0,275.6 309.1,275.7 309.2,276.0 309.3,275.1 309.4,274.4 309.6,276.8 309.7,274.9 309.8,276.4 309.9,275.1 310.0,276.2 310.1,275.9 310.3,276.2 310.4,276.1 310.5,274.1 310.6,273.5 310.7,275.1 310.9,277.2 311.0,274.1 311.1,274.0 311.2,277.9 311.3,273.2 311.4,274.4 311.6,274.6 311.7,274.2 311.8,274.3 311.9,276.4 312.0,275.3 312.1,275.3 312.3,273.0 312.4,276.1 312.5,275.3 312.6,275.3 312.7,276.1 312.9,275.5 313.0,275.1 313.1,275.7 313.2,274.3 313.3,274.1 313.4,273.6 313.6,276.4 313.7,274.5 313.8,275.5 313.9,276.7 314.0,277.5 314.2,274.9 314.3,275.6 314.4,275.5 314.5,273.8 314.6,274.8 314.7,278.8 314.9,275.3 315.0,277.6 315.1,276.3 315.2,277.6 315.3,277.0 315.5,275.7 315.6,273.9 315.7,277.2 315.8,276.3 315.9,276.0 316.0,276.5 316.2,274.5 316.3,275.6 316.4,275.4 316.5,273.6 316.6,274.0 316.8,275.3 316.9,272.7 317.0,276.3 317.1,276.4 317.2,275.3 317.3,275.8 317.5,273.2 317.6,275.7 317.7,276.4 317.8,276.1 317.9,276.6 318.1,275.4 318.2,277.9 318.3,276.0 318.4,276.5 318.5,276.9 318.6,274.6 318.8,274.2 318.9,276.5 319.0,274.0 319.1,274.9 319.2,276.8 319.4,274.3 319.5,274.4 319.6,274.1 319.7,274.4 319.8,277.9 319.9,276.3 320.1,276.8 320.2,273.3 320.3,272.7 320.4,274.3 320.5,277.0 320.7,277.2 320.8,273.3 320.9,273.6 321.0,276.6 321.1,276.1 321.2,276.3 321.4,276.6 321.5,274.6 321.6,276.0 321.7,275.5 321.8,277.3 322.0,275.5 322.1,273.5 322.2,277.4 322.3,278.1 322.4,277.0 322.5,275.5 322.7,274.7 322.8,277.1 322.9,275.2 323.0,276.5 323.1,276.8 323.2,275.7 323.4,273.4 323.5,276.4 323.6,274.6 323.7,273.9 323.8,275.7 324.0,275.9 324.1,275.6 324.2,276.5 324.3,273.4 324.4,276.4 324.5,277.6 324.7,275.5 324.8,275.0 324.9,275.4 325.0,277.1 325.1,275.3 325.3,274.6 325.4,273.5 325.5,277.3 325.6,277.3 325.7,275.5 325.8,278.0 326.0,275.0 326.1,276.4 326.2,273.9 326.3,274.3 326.4,275.5 326.6,276.1 326.7,276.3 326.8,274.4 326.9,274.9 327.0,275.4 327.1,275.1 327.3,275.2 327.4,276.5 327.5,276.9 327.6,273.2 327.7,277.1 327.9,275.7 328.0,275.8 328.1,275.8 328.2,276.5 328.3,276.2 328.4,273.5 328.6,276.4 328.7,274.0 328.8,275.8 328.9,275.6 329.0,273.4 329.2,275.3 329.3,275.0 329.4,274.4 329.5,277.7 329.6,275.4 329.7,274.8 329.9,277.4 330.0,275.2 330.1,275.1 330.2,272.8 330.3,275.9 330.5,276.4 330.6,277.5 330.7,274.0 330.8,276.5 330.9,276.9 331.0,276.1 331.2,275.2 331.3,273.2 331.4,275.5 331.5,274.6 331.6,273.1 331.8,276.0 331.9,275.1 332.0,275.0 332.1,277.7 332.2,274.6 332.3,272.8 332.5,272.6 332.6,275.9 332.7,275.0 332.8,274.4 332.9,272.7 333.0,274.3 333.2,273.9 333.3,275.1 333.4,274.2 333.5,274.2 333.6,275.2 333.8,274.3 333.9,275.7 334.0,271.2 334.1,273.8 334.2,276.8 334.3,275.6 334.5,274.0 334.6,275.2 334.7,274.7 334.8,275.0 334.9,277.2 335.1,275.0 335.2,275.8 335.3,274.5 335.4,274.6 335.5,273.7 335.6,274.8 335.8,275.1 335.9,275.3 336.0,275.7 336.1,275.8 336.2,276.5 336.4,275.5 336.5,277.3 336.6,276.5 336.7,277.5 336.8,275.7 336.9,277.3 337.1,275.9 337.2,273.8 337.3,275.7 337.4,275.5 337.5,274.0 337.7,274.5 337.8,274.9 337.9,278.4 338.0,276.0 338.1,277.8 338.2,276.7 338.4,276.8 338.5,276.5 338.6,273.6 338.7,276.9 338.8,274.2 339.0,275.9 339.1,275.2 339.2,277.3 339.3,276.8 339.4,277.5 339.5,275.9 339.7,275.3 339.8,276.2 339.9,278.2 340.0,276.0 340.1,275.4 340.3,273.9 340.4,274.5 340.5,275.3 340.6,276.2 340.7,276.2 340.8,275.3 341.0,275.7 341.1,277.4 341.2,277.8 341.3,277.0 341.4,277.5 341.6,277.2 341.7,277.9 341.8,274.2 341.9,275.2 342.0,276.1 342.1,276.3 342.3,277.5 342.4,273.7 342.5,276.1 342.6,276.3 342.7,275.1 342.9,275.8 343.0,277.2 343.1,276.5 343.2,275.8 343.3,276.2 343.4,275.8 343.6,277.1 343.7,275.8 343.8,277.1 343.9,275.2 344.0,275.8 344.1,274.5 344.3,275.6 344.4,276.8 344.5,274.5 344.6,275.3 344.7,275.8 344.9,275.2 345.0,276.6 345.1,274.1 345.2,276.6 345.3,277.1 345.4,277.5 345.6,275.4 345.7,274.5 345.8,273.5 345.9,276.3 346.0,276.4 346.2,275.7 346.3,275.8 346.4,276.2 346.5,274.9 346.6,273.6 346.7,273.6 346.9,274.4 347.0,274.3 347.1,273.5 347.2,274.9 347.3,274.1 347.5,276.2 347.6,275.3 347.7,276.4 347.8,273.8 347.9,274.1 348.0,273.5 348.2,275.8 348.3,279.2 348.4,275.7 348.5,274.9 348.6,275.7 348.8,275.4 348.9,276.6 349.0,275.4 349.1,274.3 349.2,273.1 349.3,275.8 349.5,276.6 349.6,275.5 349.7,274.3 349.8,274.8 349.9,274.9 350.1,276.0 350.2,275.2 350.3,276.7 350.4,275.0 350.5,274.5 350.6,277.5 350.8,274.0 350.9,274.3 351.0,277.8 351.1,275.6 351.2,277.4 351.4,272.2 351.5,276.8 351.6,275.2 351.7,275.4 351.8,275.9 351.9,271.9 352.1,274.2 352.2,275.8 352.3,279.2 352.4,274.4 352.5,278.2 352.7,276.1 352.8,276.6 352.9,274.2 353.0,276.1 353.1,274.4 353.2,273.9 353.4,277.0 353.5,274.6 353.6,274.8 353.7,276.3 353.8,274.5 353.9,273.9 354.1,275.7 354.2,275.8 354.3,277.3 354.4,274.1 354.5,276.3 354.7,276.3 354.8,274.9 354.9,275.3 355.0,275.5 355.1,274.2 355.2,273.9 355.4,276.3 355.5,274.2 355.6,274.3 355.7,276.4 355.8,274.8 356.0,274.9 356.1,273.7 356.2,273.9 356.3,273.7 356.4,273.7 356.5,276.9 356.7,274.2 356.8,272.6 356.9,274.0 357.0,276.2 357.1,274.0 357.3,275.3 357.4,274.2 357.5,273.2 357.6,274.7 357.7,274.1 357.8,275.6 358.0,276.3 358.1,275.3 358.2,278.6 358.3,274.2 358.4,277.1 358.6,276.0 358.7,277.2 358.8,276.2 358.9,272.9 359.0,275.2 359.1,276.9 359.3,275.7 359.4,274.1 359.5,275.1 359.6,276.2 359.7,277.3 359.9,275.1 360.0,276.0 360.1,274.7 360.2,274.4 360.3,275.3 360.4,277.5 360.6,276.8 360.7,275.6 360.8,275.9 360.9,276.6 361.0,275.7 361.2,275.3 361.3,275.5 361.4,276.6 361.5,275.3 361.6,276.7 361.7,273.5 361.9,274.8 362.0,275.1 362.1,276.3 362.2,274.5 362.3,274.9 362.5,275.9 362.6,275.3 362.7,274.6 362.8,275.0 362.9,274.2 363.0,276.3 363.2,275.8 363.3,276.3 363.4,278.0 363.5,276.7 363.6,275.8 363.8,275.1 363.9,277.9 364.0,275.5 364.1,274.9 364.2,276.8 364.3,275.7 364.5,274.9 364.6,275.8 364.7,277.6 364.8,275.5 364.9,275.8 365.0,274.3 365.2,274.8 365.3,276.4 365.4,275.3 365.5,275.5 365.6,276.7 365.8,275.0 365.9,277.3 366.0,274.6 366.1,274.5 366.2,274.5 366.3,273.6 366.5,276.1 366.6,275.5 366.7,277.1 366.8,274.6 366.9,276.3 367.1,277.0 367.2,275.1 367.3,275.2 367.4,272.4 367.5,277.7 367.6,275.2 367.8,276.2 367.9,274.8 368.0,275.8 368.1,274.0 368.2,276.3 368.4,275.5 368.5,275.0 368.6,276.0 368.7,273.3 368.8,275.7 368.9,274.9 369.1,277.2 369.2,276.4 369.3,275.3 369.4,275.1 369.5,279.1 369.7,274.3 369.8,277.8 369.9,276.6 370.0,276.4 370.1,273.2 370.2,276.5 370.4,274.9 370.5,274.4 370.6,276.2 370.7,274.6 370.8,276.2 371.0,274.3 371.1,276.2 371.2,276.0 371.3,274.5 371.4,274.3 371.5,274.7 371.7,274.8 371.8,274.7 371.9,277.7 372.0,276.0 372.1,275.1 372.3,275.1 372.4,274.5 372.5,275.9 372.6,275.5 372.7,274.7 372.8,274.7 373.0,275.1 373.1,274.3 373.2,275.7 373.3,274.5 373.4,276.3 373.6,275.2 373.7,276.3 373.8,275.0 373.9,273.4 374.0,274.1 374.1,275.3 374.3,276.1 374.4,276.2 374.5,276.3 374.6,276.5 374.7,276.1 374.8,276.2 375.0,275.4 375.1,276.4 375.2,275.6 375.3,275.6 375.4,275.9 375.6,278.4 375.7,273.9 375.8,275.1 375.9,275.3 376.0,276.2 376.1,275.7 376.3,277.6 376.4,273.8 376.5,277.8 376.6,274.2 376.7,274.8 376.9,276.3 377.0,275.8 377.1,275.6 377.2,275.8 377.3,276.2 377.4,276.8 377.6,276.2 377.7,274.2 377.8,274.8 377.9,277.3 378.0,278.0 378.2,276.8 378.3,277.0 378.4,276.0 378.5,278.2 378.6,275.0 378.7,275.3 378.9,274.7 379.0,277.5 379.1,275.0 379.2,276.3 379.3,274.0 379.5,273.9 379.6,276.8 379.7,276.5 379.8,276.6 379.9,275.8 380.0,275.2 380.2,275.1 380.3,274.2 380.4,275.1 380.5,277.2 380.6,275.3 380.8,274.0 380.9,275.2 381.0,274.3 381.1,274.1 381.2,275.3 381.3,274.5 381.5,273.9 381.6,277.3 381.7,277.5 381.8,275.6 381.9,277.2 382.1,274.9 382.2,275.4 382.3,277.0 382.4,275.7 382.5,276.4 382.6,272.1 382.8,275.7 382.9,274.9 383.0,275.3 383.1,273.6 383.2,274.5 383.4,276.2 383.5,276.2 383.6,276.4 383.7,276.5 383.8,276.9 383.9,276.0 384.1,275.3 384.2,275.0 384.3,275.2 384.4,274.6 384.5,274.6 384.7,275.7 384.8,273.1 384.9,274.4 385.0,274.9 385.1,276.6 385.2,277.3 385.4,276.4 385.5,276.0 385.6,275.5 385.7,277.4 385.8,277.0 385.9,275.3 386.1,276.1 386.2,276.6 386.3,277.2 386.4,275.8 386.5,277.9 386.7,277.5 386.8,275.6 386.9,275.9 387.0,275.0 387.1,275.0 387.2,276.4 387.4,277.8 387.5,277.7 387.6,276.2 387.7,275.5 387.8,275.2 388.0,276.4 388.1,275.3 388.2,276.7 388.3,275.7 388.4,276.2 388.5,275.2 388.7,278.2 388.8,277.1 388.9,275.8 389.0,274.6 389.1,276.4 389.3,276.6 389.4,274.3 389.5,275.7 389.6,278.1 389.7,275.9 389.8,275.2 390.0,276.3 390.1,277.8 390.2,275.1 390.3,275.1 390.4,275.4 390.6,275.7 390.7,277.1 390.8,276.1 390.9,273.0 391.0,276.2 391.1,276.2 391.3,276.5 391.4,276.0 391.5,275.6 391.6,276.3 391.7,274.9 391.9,273.7 392.0,275.3 392.1,274.4 392.2,277.7 392.3,275.6 392.4,277.6 392.6,274.1 392.7,274.2 392.8,276.2 392.9,273.6 393.0,274.9 393.2,273.3 393.3,276.1 393.4,273.5 393.5,275.4 393.6,273.4 393.7,276.1 393.9,276.7 394.0,275.6 394.1,274.2 394.2,275.9 394.3,276.6 394.5,276.3 394.6,276.9 394.7,277.6 394.8,275.6 394.9,275.0 395.0,274.5 395.2,275.3 395.3,275.0 395.4,274.6 395.5,275.7 395.6,277.6 395.7,274.3 395.9,274.6 396.0,274.8 396.1,274.0 396.2,276.5 396.3,275.0 396.5,275.9 396.6,273.2 396.7,275.8 396.8,275.0 396.9,273.4 397.0,276.2 397.2,276.3 397.3,275.4 397.4,275.7 397.5,274.0 397.6,276.3 397.8,274.8 397.9,275.7 398.0,275.8 398.1,275.7 398.2,274.2 398.3,275.4 398.5,275.3 398.6,276.5 398.7,274.2 398.8,276.2 398.9,275.6 399.1,275.1 399.2,277.3 399.3,276.0 399.4,274.4 399.5,275.4 399.6,274.1 399.8,273.6 399.9,274.3 400.0,274.3 400.1,276.9 400.2,275.8 400.4,271.9 400.5,274.6 400.6,274.0 400.7,274.6 400.8,275.0 400.9,274.8 401.1,275.2 401.2,273.8 401.3,276.4 401.4,274.5 401.5,276.2 401.7,274.6 401.8,275.3 401.9,273.5 402.0,276.0 402.1,275.0 402.2,274.2 402.4,275.1 402.5,275.3 402.6,272.9 402.7,273.8 402.8,273.6 403.0,275.8 403.1,275.0 403.2,274.0 403.3,274.0 403.4,274.9 403.5,272.2 403.7,274.8 403.8,276.9 403.9,273.4 404.0,273.7 404.1,273.8 404.3,275.7 404.4,274.3 404.5,277.5 404.6,275.1 404.7,274.7 404.8,274.0 405.0,276.2 405.1,276.7 405.2,275.7 405.3,277.1 405.4,277.0 405.6,276.0 405.7,275.6 405.8,274.9 405.9,275.8 406.0,275.2 406.1,277.4 406.3,276.5 406.4,275.4 406.5,275.2 406.6,276.1 406.7,276.9 406.8,276.0 407.0,276.9 407.1,275.1 407.2,275.9 407.3,276.4 407.4,275.9 407.6,276.1 407.7,276.9 407.8,275.7 407.9,276.9 408.0,275.0 408.1,276.2 408.3,275.1 408.4,275.2 408.5,276.4 408.6,277.2 408.7,275.5 408.9,275.8 409.0,277.2 409.1,274.7 409.2,276.7 409.3,274.2 409.4,273.4 409.6,276.0 409.7,275.3 409.8,275.0 409.9,272.7 410.0,276.0 410.2,275.0 410.3,274.2 410.4,275.4 410.5,274.1 410.6,274.7 410.7,274.6 410.9,276.8 411.0,275.5 411.1,277.2 411.2,274.7 411.3,274.2 411.5,277.8 411.6,274.0 411.7,277.2 411.8,274.4 411.9,276.6 412.0,274.9 412.2,277.6 412.3,278.2 412.4,277.1 412.5,276.3 412.6,275.5 412.8,276.9 412.9,278.5 413.0,275.4 413.1,274.6 413.2,278.2 413.3,275.8 413.5,276.9 413.6,276.3 413.7,276.4 413.8,275.8 413.9,275.9 414.1,274.1 414.2,275.4 414.3,275.1 414.4,277.5 414.5,275.7 414.6,276.2 414.8,274.1 414.9,276.2 415.0,277.9 415.1,276.2 415.2,277.1 415.4,275.6 415.5,275.3 415.6,277.1 415.7,275.4 415.8,274.7 415.9,275.8 416.1,275.5 416.2,277.2 416.3,276.8 416.4,274.2 416.5,276.5 416.6,274.3 416.8,276.1 416.9,276.6 417.0,275.3 417.1,275.2 417.2,276.8 417.4,275.5 417.5,274.5 417.6,277.8 417.7,276.9 417.8,276.5 417.9,276.3 418.1,277.1 418.2,276.0 418.3,276.8 418.4,276.2 418.5,275.0 418.7,277.1 418.8,276.0 418.9,274.8 419.0,275.3 419.1,272.9 419.2,273.8 419.4,274.0 419.5,276.6 419.6,276.5 419.7,277.1 419.8,276.2 420.0,277.7 420.1,275.1 420.2,274.7 420.3,274.5 420.4,275.8 420.5,274.8 420.7,274.4 420.8,274.9 420.9,275.7 421.0,273.9 421.1,275.4 421.3,275.4 421.4,277.4 421.5,275.5 421.6,273.8 421.7,275.6 421.8,275.5 422.0,273.8 422.1,271.6 422.2,276.1 422.3,275.0 422.4,274.4 422.6,275.0 422.7,276.7 422.8,277.3 422.9,274.6 423.0,277.0 423.1,275.1 423.3,275.2 423.4,275.1 423.5,275.1 423.6,275.0 423.7,274.4 423.9,275.2 424.0,274.0 424.1,275.9 424.2,274.4 424.3,275.8 424.4,275.1 424.6,273.1 424.7,276.7 424.8,275.6 424.9,275.2 425.0,274.9 425.2,277.5 425.3,275.0 425.4,276.5 425.5,275.6 425.6,273.8 425.7,276.2 425.9,273.6 426.0,275.9 426.1,275.9 426.2,275.7 426.3,274.5 426.5,277.1 426.6,277.6 426.7,274.4 426.8,275.0 426.9,277.4 427.0,275.0 427.2,276.7 427.3,274.4 427.4,274.8 427.5,275.9 427.6,276.1 427.7,273.8 427.9,274.3 428.0,276.2 428.1,277.1 428.2,276.2 428.3,276.1 428.5,276.2 428.6,274.2 428.7,276.1 428.8,276.7 428.9,276.4 429.0,274.3 429.2,274.5 429.3,277.0 429.4,274.0 429.5,274.4 429.6,277.5 429.8,274.6 429.9,274.8 430.0,276.4 430.1,276.6 430.2,275.4 430.3,273.9 430.5,275.0 430.6,275.8 430.7,274.4 430.8,274.4 430.9,277.0 431.1,276.2 431.2,276.4 431.3,276.5 431.4,274.3 431.5,276.0 431.6,276.9 431.8,276.2 431.9,274.0 432.0,273.5 432.1,274.4 432.2,276.0 432.4,275.1 432.5,275.7 432.6,273.8 432.7,276.3 432.8,274.4 432.9,276.6 433.1,275.2 433.2,271.7 433.3,275.0 433.4,274.2 433.5,274.2 433.7,275.0 433.8,276.5 433.9,276.2 434.0,276.9 434.1,275.2 434.2,273.0 434.4,274.5 434.5,274.1 434.6,274.4 434.7,278.4 434.8,276.2 435.0,274.1 435.1,276.7 435.2,274.9 435.3,273.7 435.4,276.7 435.5,274.8 435.7,275.5 435.8,278.1 435.9,274.2 436.0,276.7 436.1,275.1 436.3,274.2 436.4,275.3 436.5,275.8 436.6,275.9 436.7,273.8 436.8,276.7 437.0,274.7 437.1,276.1 437.2,276.0 437.3,275.2 437.4,276.6 437.5,275.0 437.7,274.8 437.8,274.2 437.9,273.7 438.0,275.1 438.1,273.3 438.3,275.5 438.4,275.3 438.5,277.9 438.6,274.5 438.7,277.3 438.8,276.3 439.0,276.2 439.1,275.1 439.2,274.8 439.3,275.4 439.4,275.7 439.6,276.5 439.7,275.1 439.8,277.6 439.9,277.8 440.0,272.8 440.1,275.9 440.3,275.6 440.4,274.5 440.5,272.5 440.6,273.6 440.7,275.5 440.9,276.5 441.0,276.2 441.1,276.3 441.2,275.5 441.3,277.0 441.4,276.3 441.6,277.1 441.7,275.6 441.8,275.0 441.9,274.0 442.0,277.7 442.2,275.1 442.3,274.6 442.4,273.3 442.5,276.6 442.6,274.2 442.7,276.0 442.9,276.3 443.0,277.6 443.1,275.1 443.2,273.6 443.3,276.9 443.5,276.2 443.6,275.1 443.7,275.8 443.8,278.1 443.9,275.9 444.0,275.1 444.2,275.7 444.3,276.5 444.4,276.3 444.5,276.2 444.6,276.2 444.8,274.4 444.9,276.5 445.0,277.0 445.1,276.5 445.2,275.7 445.3,275.6 445.5,275.9 445.6,275.8 445.7,273.7 445.8,275.5 445.9,277.1 446.1,275.2 446.2,275.0 446.3,276.3 446.4,275.7 446.5,274.7 446.6,275.8 446.8,277.6 446.9,277.7 447.0,275.7 447.1,275.3 447.2,276.9 447.4,276.0 447.5,276.1 447.6,275.4 447.7,273.9 447.8,273.7 447.9,275.3 448.1,274.1 448.2,276.3 448.3,276.4 448.4,277.1 448.5,275.4 448.6,277.6 448.8,276.8 448.9,275.7 449.0,276.1 449.1,274.5 449.2,271.4 449.4,276.4 449.5,275.7 449.6,277.2 449.7,275.7 449.8,275.0 449.9,274.6 450.1,274.5 450.2,275.4 450.3,273.1 450.4,273.9 450.5,276.3 450.7,272.9 450.8,273.5 450.9,274.7 451.0,274.9 451.1,275.5 451.2,276.5 451.4,275.8 451.5,276.2 451.6,274.8 451.7,275.6 451.8,274.7 452.0,275.5 452.1,276.3 452.2,276.2 452.3,273.4 452.4,274.3 452.5,278.1 452.7,273.2 452.8,275.7 452.9,274.2 453.0,275.4 453.1,274.9 453.3,275.7 453.4,274.3 453.5,276.8 453.6,278.2 453.7,272.6 453.8,274.5 454.0,273.6 454.1,275.6 454.2,277.1 454.3,277.0 454.4,276.9 454.6,275.6 454.7,274.6 454.8,276.6 454.9,274.5 455.0,274.3 455.1,275.3 455.3,273.7 455.4,275.0 455.5,274.1 455.6,275.4 455.7,276.4 455.9,274.6 456.0,275.8 456.1,276.5 456.2,274.4 456.3,275.2 456.4,274.9 456.6,277.6 456.7,274.8 456.8,275.6 456.9,273.8 457.0,274.4 457.2,276.2 457.3,275.2 457.4,276.5 457.5,275.7 457.6,278.8 457.7,275.4 457.9,276.8 458.0,274.9 458.1,275.2 458.2,273.9 458.3,279.0 458.5,273.3 458.6,276.0 458.7,275.3 458.8,276.8 458.9,275.2 459.0,278.2 459.2,277.3 459.3,276.6 459.4,276.5 459.5,277.2 459.6,276.5 459.7,277.9 459.9,277.1 460.0,276.0 460.1,276.6 460.2,276.4 460.3,277.6 460.5,275.8 460.6,276.3 460.7,274.7 460.8,277.0 460.9,276.5 461.0,275.4 461.2,278.3 461.3,276.3 461.4,274.9 461.5,277.6 461.6,276.0 461.8,272.5 461.9,276.7 462.0,276.2 462.1,276.3 462.2,276.0 462.3,275.2 462.5,276.4 462.6,274.2 462.7,276.0 462.8,277.2 462.9,277.4 463.1,275.5 463.2,278.4 463.3,276.5 463.4,275.5 463.5,276.2 463.6,275.2 463.8,277.0 463.9,274.8 464.0,275.1 464.1,274.5 464.2,274.9 464.4,275.5 464.5,278.1 464.6,276.1 464.7,277.2 464.8,275.8 464.9,276.9 465.1,274.5 465.2,274.4 465.3,277.9 465.4,276.1 465.5,273.8 465.7,276.4 465.8,275.4 465.9,275.3 466.0,276.6 466.1,274.1 466.2,277.1 466.4,275.9 466.5,275.0 466.6,274.0 466.7,277.7 466.8,275.2 467.0,273.9 467.1,275.4 467.2,276.2 467.3,276.3 467.4,277.4 467.5,276.3 467.7,275.5 467.8,278.3 467.9,278.0 468.0,274.2 468.1,276.8 468.3,274.9 468.4,277.4 468.5,274.4 468.6,275.9 468.7,277.5 468.8,276.0 469.0,276.9 469.1,274.7 469.2,274.1 469.3,274.1 469.4,276.3 469.5,274.8 469.7,277.3 469.8,275.1 469.9,277.2 470.0,275.9 470.1,274.2 470.3,275.6 470.4,276.1 470.5,276.1 470.6,275.4 470.7,276.9 470.8,276.7 471.0,276.7 471.1,274.6 471.2,273.0 471.3,276.2 471.4,274.5 471.6,274.9 471.7,275.2 471.8,275.9 471.9,273.4 472.0,275.3 472.1,277.1 472.3,273.7 472.4,275.1 472.5,277.2 472.6,276.4 472.7,276.1 472.9,275.6 473.0,273.6 473.1,275.5 473.2,274.2 473.3,275.5 473.4,274.4 473.6,273.9 473.7,275.3 473.8,276.6 473.9,274.7 474.0,275.5 474.2,276.1 474.3,275.9 474.4,273.7 474.5,274.6 474.6,275.7 474.7,275.3 474.9,277.4 475.0,276.0 475.1,274.3 475.2,276.2 475.3,276.8 475.5,276.2 475.6,276.1 475.7,273.8 475.8,275.5 475.9,276.3 476.0,275.2 476.2,275.3 476.3,276.3 476.4,275.0 476.5,274.8 476.6,275.7 476.8,275.8 476.9,277.0 477.0,275.8 477.1,274.7 477.2,276.7 477.3,275.2 477.5,277.0 477.6,275.5 477.7,276.9 477.8,276.5 477.9,275.9 478.1,274.6 478.2,275.7 478.3,277.8 478.4,276.3 478.5,277.5 478.6,276.1 478.8,276.0 478.9,274.8 479.0,276.4 479.1,274.9 479.2,274.9 479.4,277.1 479.5,274.6 479.6,278.5 479.7,275.7 479.8,275.0 479.9,277.2 480.1,274.4 480.2,275.7 480.3,275.6 480.4,276.7 480.5,277.6 480.6,275.9 480.8,273.9 480.9,273.9 481.0,274.9 481.1,276.4 481.2,275.6 481.4,275.8 481.5,275.1 481.6,277.1 481.7,274.1 481.8,277.8 481.9,277.0 482.1,276.4 482.2,275.5 482.3,275.2 482.4,275.6 482.5,275.0 482.7,275.1 482.8,274.7 482.9,276.6 483.0,275.8 483.1,276.2 483.2,274.8 483.4,274.2 483.5,274.6 483.6,276.0 483.7,274.3 483.8,276.4 484.0,274.5 484.1,275.1 484.2,276.0 484.3,274.2 484.4,273.2 484.5,277.1 484.7,275.5 484.8,274.9 484.9,277.6 485.0,278.3 485.1,275.7 485.3,276.0 485.4,278.8 485.5,274.9 485.6,277.1 485.7,276.8 485.8,275.0 486.0,274.5 486.1,274.8 486.2,275.9 486.3,276.2 486.4,278.9 486.6,274.6 486.7,276.0 486.8,274.9 486.9,276.9 487.0,276.4 487.1,274.3 487.3,275.4 487.4,276.0 487.5,276.9 487.6,276.6 487.7,276.8 487.9,276.1 488.0,276.8 488.1,276.1 488.2,277.2 488.3,276.7 488.4,275.0 488.6,276.0 488.7,275.1 488.8,275.8 488.9,276.6 489.0,276.1 489.2,275.8 489.3,275.2 489.4,277.6 489.5,275.8 489.6,274.6 489.7,275.2 489.9,276.9 490.0,278.1 490.1,277.2 490.2,275.2 490.3,276.6 490.4,273.6 490.6,276.6 490.7,275.3 490.8,275.8 490.9,274.0 491.0,275.9 491.2,273.9 491.3,273.5 491.4,277.2 491.5,273.9 491.6,276.5 491.7,274.7 491.9,275.3 492.0,275.4 492.1,276.7 492.2,275.9 492.3,274.4 492.5,274.8 492.6,277.0 492.7,277.1 492.8,274.9 492.9,276.6 493.0,275.5 493.2,276.8 493.3,274.4 493.4,276.6 493.5,275.0 493.6,274.1 493.8,276.4 493.9,276.4 494.0,273.9 494.1,273.0 494.2,275.6 494.3,276.3 494.5,275.1 494.6,275.9 494.7,275.3 494.8,275.1 494.9,276.3 495.1,277.3 495.2,276.4 495.3,275.4 495.4,275.0 495.5,276.0 495.6,273.1 495.8,275.9 495.9,275.6 496.0,275.7 496.1,275.3 496.2,275.4 496.4,273.9 496.5,276.4 496.6,275.2 496.7,275.5 496.8,274.9 496.9,273.7 497.1,276.2 497.2,275.2 497.3,275.1 497.4,275.9 497.5,277.4 497.7,275.3 497.8,276.0 497.9,277.5 498.0,275.0 498.1,276.8 498.2,275.4 498.4,276.5 498.5,275.4 498.6,276.4 498.7,274.4 498.8,274.7 499.0,274.6 499.1,275.0 499.2,276.7 499.3,275.9 499.4,276.2 499.5,275.1 499.7,275.5 499.8,276.0 499.9,275.9 500.0,274.8 500.1,275.1 500.3,274.3 500.4,276.5 500.5,276.9 500.6,277.9 500.7,272.0 500.8,276.7 501.0,276.4 501.1,278.9 501.2,275.2 501.3,274.8 501.4,276.0 501.5,274.0 501.7,274.1 501.8,276.5 501.9,273.8 502.0,274.4 502.1,277.2 502.3,276.5 502.4,274.2 502.5,277.4 502.6,275.8 502.7,275.3 502.8,275.9 503.0,275.6 503.1,277.1 503.2,276.4 503.3,274.7 503.4,275.1 503.6,276.7 503.7,275.0 503.8,274.6 503.9,272.9 504.0,276.8 504.1,275.8 504.3,275.5 504.4,274.7 504.5,275.1 504.6,275.8 504.7,274.5 504.9,276.0 505.0,277.9 505.1,275.2 505.2,275.9 505.3,277.8 505.4,276.0 505.6,277.8 505.7,277.2 505.8,277.1 505.9,275.8 506.0,275.4 506.2,277.5 506.3,276.1 506.4,275.8 506.5,273.3 506.6,275.7 506.7,278.9 506.9,276.7 507.0,278.0 507.1,276.1 507.2,274.2 507.3,276.0 507.5,277.9 507.6,276.0 507.7,275.4 507.8,275.5 507.9,274.3 508.0,275.2 508.2,275.8 508.3,276.7 508.4,276.5 508.5,274.2 508.6,273.2 508.8,275.0 508.9,274.5 509.0,276.4 509.1,274.2 509.2,276.1 509.3,274.9 509.5,276.8 509.6,275.5 509.7,273.0 509.8,272.6 509.9,275.8 510.1,274.2 510.2,276.6 510.3,275.4 510.4,277.6 510.5,275.4 510.6,274.5 510.8,273.0 510.9,276.1 511.0,275.2 511.1,275.1 511.2,278.8 511.3,276.5 511.5,274.4 511.6,276.4 511.7,273.7 511.8,274.8 511.9,276.6 512.1,274.0 512.2,275.6 512.3,275.7 512.4,275.8 512.5,274.5 512.6,273.9 512.8,275.6 512.9,276.4 513.0,274.5 513.1,276.7 513.2,277.0 513.4,276.1 513.5,277.0 513.6,276.9 513.7,277.2 513.8,276.1 513.9,276.2 514.1,276.3 514.2,277.3 514.3,275.3 514.4,277.7 514.5,274.8 514.7,278.4 514.8,276.8 514.9,279.3 515.0,276.4 515.1,276.9 515.2,274.3 515.4,275.9 515.5,276.5 515.6,276.7 515.7,277.1 515.8,276.5 516.0,276.3 516.1,277.5 516.2,274.5 516.3,275.8 516.4,277.2 516.5,276.3 516.7,277.9 516.8,275.6 516.9,276.0 517.0,277.2 517.1,278.6 517.3,274.9 517.4,274.3 517.5,274.9 517.6,274.9 517.7,276.7 517.8,277.4 518.0,276.2 518.1,276.5 518.2,277.0 518.3,276.6 518.4,276.5 518.6,276.4 518.7,277.4 518.8,274.6 518.9,275.4 519.0,276.2 519.1,279.1 519.3,274.8 519.4,276.8 519.5,274.9 519.6,275.6 519.7,274.8 519.9,278.0 520.0,276.2 520.1,275.1 520.2,276.9 520.3,274.9 520.4,276.1 520.6,274.1 520.7,275.4 520.8,276.2 520.9,276.2 521.0,274.7 521.2,274.8 521.3,273.7 521.4,273.2 521.5,275.5 521.6,277.2 521.7,276.4 521.9,276.5 522.0,275.9 522.1,275.8 522.2,275.8 522.3,277.9 522.4,275.5 522.6,277.3 522.7,274.2 522.8,274.6 522.9,275.8 523.0,274.1 523.2,277.7 523.3,276.1 523.4,276.3 523.5,275.2 523.6,276.3 523.7,275.0 523.9,277.3 524.0,277.3 524.1,274.9 524.2,274.6 524.3,273.9 524.5,273.9 524.6,277.1 524.7,276.6 524.8,277.5 524.9,276.3 525.0,276.7 525.2,276.4 525.3,275.1 525.4,275.9 525.5,276.8 525.6,275.8 525.8,274.5 525.9,274.5 526.0,279.3 526.1,274.7 526.2,275.0 526.3,275.9 526.5,275.7 526.6,277.0 526.7,275.3"/>
<polyline fill="none" stroke="#00B050" stroke-width="1.2" stroke-linejoin="round" points="54.5,247.5 54.6,248.1 54.7,250.4 54.9,249.1 55.0,246.2 55.1,248.3 55.2,247.5 55.3,248.4 55.4,246.2 55.6,248.5 55.7,248.5 55.8,250.2 55.9,248.6 56.0,248.8 56.2,246.3 56.3,251.0 56.4,245.8 56.5,249.5 56.6,247.7 56.7,247.0 56.9,247.2 57.0,247.2 57.1,248.5 57.2,247.8 57.3,249.8 57.5,245.6 57.6,247.9 57.7,246.7 57.8,248.8 57.9,245.1 58.0,247.3 58.2,247.9 58.3,245.7 58.4,248.8 58.5,247.7 58.6,248.7 58.8,248.6 58.9,246.1 59.0,246.2 59.1,246.9 59.2,248.1 59.3,248.1 59.5,246.1 59.6,246.2 59.7,245.9 59.8,246.1 59.9,246.5 60.0,246.5 60.2,249.2 60.3,245.9 60.4,246.1 60.5,247.0 60.6,245.2 60.8,245.8 60.9,246.3 61.0,247.1 61.1,244.5 61.2,247.7 61.3,245.5 61.5,246.1 61.6,246.9 61.7,246.6 61.8,247.0 61.9,245.8 62.1,245.5 62.2,245.9 62.3,244.2 62.4,246.9 62.5,244.4 62.6,243.7 62.8,247.8 62.9,245.0 63.0,243.6 63.1,247.4 63.2,244.6 63.4,246.3 63.5,243.9 63.6,244.5 63.7,242.7 63.8,242.3 63.9,243.4 64.1,244.5 64.2,245.6 64.3,247.5 64.4,243.2 64.5,245.6 64.7,243.6 64.8,244.1 64.9,242.4 65.0,242.3 65.1,243.1 65.2,242.6 65.4,244.0 65.5,243.1 65.6,245.5 65.7,244.0 65.8,244.0 66.0,245.1 66.1,244.3 66.2,243.6 66.3,243.4 66.4,243.3 66.5,244.8 66.7,244.3 66.8,243.8 66.9,244.2 67.0,242.5 67.1,243.8 67.3,241.3 67.4,244.7 67.5,243.1 67.6,243.1 67.7,243.6 67.8,242.8 68.0,242.4 68.1,244.1 68.2,242.7 68.3,241.4 68.4,243.0 68.6,240.3 68.7,244.5 68.8,242.1 68.9,242.3 69.0,245.1 69.1,244.9 69.3,242.3 69.4,242.9 69.5,243.4 69.6,244.1 69.7,241.8 69.9,242.0 70.0,243.4 70.1,242.2 70.2,242.8 70.3,242.6 70.4,240.4 70.6,240.7 70.7,238.4 70.8,241.4 70.9,243.4 71.0,240.3 71.1,243.2 71.3,242.9 71.4,241.6 71.5,241.6 71.6,241.7 71.7,240.5 71.9,241.2 72.0,241.5 72.1,242.3 72.2,242.5 72.3,240.6 72.4,242.5 72.6,240.5 72.7,241.3 72.8,242.0 72.9,241.5 73.0,241.3 73.2,241.8 73.3,240.8 73.4,240.7 73.5,241.2 73.6,242.7 73.7,241.4 73.9,243.9 74.0,241.8 74.1,237.8 74.2,241.0 74.3,243.6 74.5,241.5 74.6,241.0 74.7,240.4 74.8,243.2 74.9,242.7 75.0,242.3 75.2,242.0 75.3,243.2 75.4,242.5 75.5,239.9 75.6,242.4 75.8,241.6 75.9,241.2 76.0,242.3 76.1,241.4 76.2,237.7 76.3,243.3 76.5,242.6 76.6,241.2 76.7,240.8 76.8,241.6 76.9,239.7 77.1,241.7 77.2,241.0 77.3,240.9 77.4,240.2 77.5,240.5 77.6,242.7 77.8,243.0 77.9,242.0 78.0,241.3 78.1,240.3 78.2,242.3 78.4,243.4 78.5,239.4 78.6,242.9 78.7,238.8 78.8,241.1 78.9,242.0 79.1,239.8 79.2,239.6 79.3,241.7 79.4,242.6 79.5,240.9 79.7,243.1 79.8,240.5 79.9,243.6 80.0,241.6 80.1,241.7 80.2,242.1 80.4,241.7 80.5,243.6 80.6,244.0 80.7,241.9 80.8,241.0 80.9,239.7 81.1,240.2 81.2,241.1 81.3,241.0 81.4,241.0 81.5,241.0 81.7,241.6 81.8,239.2 81.9,239.6 82.0,242.3 82.1,241.9 82.2,240.1 82.4,242.4 82.5,239.9 82.6,240.4 82.7,238.4 82.8,241.7 83.0,240.6 83.1,241.9 83.2,241.5 83.3,240.7 83.4,240.7 83.5,242.0 83.7,240.2 83.8,240.2 83.9,240.4 84.0,241.3 84.1,241.4 84.3,242.7 84.4,240.1 84.5,241.8 84.6,239.4 84.7,240.9 84.8,240.3 85.0,242.2 85.1,240.8 85.2,239.4 85.3,240.7 85.4,240.4 85.6,239.5 85.7,239.5 85.8,238.6 85.9,243.2 86.0,239.9 86.1,240.9 86.3,238.2 86.4,238.2 86.5,239.3 86.6,239.3 86.7,240.4 86.9,238.1 87.0,240.0 87.1,241.2 87.2,238.1 87.3,240.3 87.4,237.9 87.6,239.5 87.7,239.5 87.8,241.2 87.9,238.1 88.0,239.1 88.2,240.2 88.3,237.4 88.4,238.8 88.5,237.7 88.6,237.9 88.7,239.6 88.9,239.6 89.0,241.9 89.1,240.4 89.2,240.3 89.3,238.5 89.5,238.3 89.6,238.8 89.7,235.8 89.8,240.7 89.9,237.8 90.0,237.3 90.2,238.1 90.3,239.7 90.4,240.2 90.5,238.2 90.6,239.2 90.8,238.5 90.9,237.3 91.0,238.8 91.1,238.6 91.2,236.6 91.3,239.9 91.5,236.5 91.6,238.8 91.7,237.2 91.8,237.4 91.9,237.5 92.0,239.3 92.2,236.8 92.3,238.1 92.4,240.2 92.5,237.4 92.6,238.2 92.8,239.0 92.9,237.4 93.0,238.7 93.1,237.3 93.2,238.9 93.3,238.1 93.5,236.8 93.6,239.7 93.7,237.8 93.8,237.5 93.9,236.7 94.1,237.3 94.2,237.7 94.3,238.0 94.4,239.1 94.5,236.1 94.6,237.2 94.8,239.1 94.9,237.8 95.0,238.1 95.1,239.5 95.2,237.9 95.4,238.1 95.5,237.4 95.6,239.6 95.7,238.7 95.8,236.4 95.9,238.0 96.1,235.8 96.2,238.6 96.3,238.0 96.4,236.9 96.5,236.6 96.7,234.8 96.8,238.0 96.9,236.8 97.0,236.5 97.1,237.8 97.2,236.0 97.4,236.1 97.5,235.9 97.6,235.0 97.7,239.7 97.8,236.4 98.0,236.1 98.1,237.6 98.2,232.5 98.3,236.4 98.4,236.4 98.5,235.1 98.7,236.8 98.8,233.7 98.9,236.2 99.0,237.2 99.1,233.3 99.3,234.2 99.4,235.7 99.5,235.8 99.6,235.0 99.7,236.2 99.8,236.0 100.0,234.0 100.1,235.5 100.2,234.0 100.3,232.9 100.4,232.5 100.6,236.8 100.7,235.3 100.8,237.9 100.9,233.6 101.0,235.0 101.1,235.8 101.3,235.2 101.4,236.0 101.5,235.6 101.6,234.7 101.7,232.5 101.8,234.3 102.0,237.6 102.1,236.4 102.2,237.2 102.3,234.7 102.4,235.2 102.6,234.4 102.7,235.9 102.8,235.5 102.9,236.0 103.0,237.6 103.1,234.4 103.3,236.3 103.4,233.6 103.5,236.7 103.6,234.8 103.7,235.2 103.9,235.5 104.0,237.3 104.1,235.2 104.2,234.6 104.3,233.7 104.4,235.5 104.6,234.1 104.7,234.5 104.8,235.1 104.9,236.0 105.0,234.2 105.2,235.9 105.3,237.3 105.4,233.2 105.5,236.7 105.6,237.7 105.7,234.3 105.9,235.8 106.0,233.3 106.1,235.4 106.2,234.6 106.3,235.3 106.5,233.8 106.6,233.9 106.7,234.4 106.8,234.0 106.9,234.1 107.0,234.6 107.2,233.5 107.3,234.7 107.4,235.5 107.5,232.0 107.6,235.1 107.8,233.9 107.9,233.5 108.0,233.2 108.1,233.8 108.2,233.9 108.3,235.3 108.5,233.3 108.6,236.2 108.7,233.8 108.8,235.7 108.9,236.2 109.1,233.3 109.2,236.2 109.3,237.6 109.4,234.3 109.5,235.6 109.6,234.7 109.8,235.0 109.9,234.6 110.0,234.2 110.1,235.7 110.2,235.9 110.4,234.8 110.5,236.7 110.6,236.1 110.7,235.6 110.8,233.8 110.9,237.0 111.1,236.3 111.2,231.9 111.3,233.2 111.4,233.9 111.5,235.7 111.7,236.0 111.8,234.1 111.9,234.7 112.0,235.2 112.1,232.8 112.2,235.1 112.4,234.0 112.5,234.6 112.6,234.3 112.7,232.9 112.8,233.2 112.9,234.5 113.1,234.7 113.2,234.2 113.3,235.9 113.4,234.1 113.5,233.1 113.7,234.2 113.8,234.5 113.9,234.6 114.0,236.2 114.1,235.5 114.2,236.2 114.4,235.7 114.5,234.8 114.6,236.3 114.7,234.7 114.8,235.4 115.0,233.9 115.1,235.3 115.2,234.8 115.3,235.7 115.4,237.6 115.5,238.3 115.7,236.6 115.8,235.3 115.9,236.4 116.0,235.7 116.1,234.7 116.3,235.4 116.4,235.2 116.5,234.7 116.6,237.2 116.7,234.9 116.8,234.9 117.0,236.5 117.1,234.7 117.2,234.2 117.3,234.6 117.4,236.3 117.6,236.1 117.7,236.1 117.8,235.1 117.9,234.6 118.0,236.9 118.1,233.9 118.3,235.5 118.4,234.1 118.5,235.2 118.6,235.5 118.7,237.2 118.9,232.1 119.0,237.4 119.1,234.5 119.2,236.0 119.3,236.6 119.4,234.6 119.6,235.4 119.7,236.1 119.8,235.3 119.9,234.5 120.0,235.6 120.2,235.5 120.3,233.5 120.4,237.0 120.5,235.6 120.6,232.2 120.7,234.2 120.9,237.3 121.0,237.1 121.1,235.5 121.2,233.0 121.3,234.8 121.5,236.4 121.6,235.5 121.7,234.6 121.8,234.1 121.9,236.1 122.0,234.8 122.2,235.4 122.3,235.7 122.4,237.1 122.5,235.3 122.6,235.4 122.7,232.9 122.9,236.6 123.0,236.3 123.1,235.2 123.2,232.5 123.3,234.6 123.5,235.5 123.6,238.1 123.7,236.3 123.8,236.6 123.9,236.7 124.0,237.4 124.2,234.3 124.3,234.7 124.4,234.4 124.5,235.6 124.6,235.5 124.8,236.2 124.9,234.8 125.0,236.2 125.1,235.1 125.2,238.9 125.3,235.6 125.5,239.5 125.6,238.4 125.7,234.9 125.8,237.6 125.9,237.2 126.1,234.5 126.2,237.2 126.3,236.4 126.4,236.9 126.5,235.4 126.6,236.4 126.8,237.0 126.9,236.3 127.0,235.8 127.1,236.3 127.2,235.3 127.4,236.9 127.5,233.3 127.6,238.4 127.7,236.6 127.8,237.1 127.9,237.5 128.1,234.9 128.2,239.3 128.3,235.0 128.4,237.0 128.5,236.9 128.7,238.1 128.8,236.4 128.9,234.7 129.0,236.9 129.1,233.4 129.2,236.2 129.4,235.9 129.5,238.5 129.6,236.2 129.7,236.0 129.8,235.6 130.0,235.5 130.1,235.9 130.2,237.4 130.3,235.0 130.4,236.4 130.5,234.8 130.7,236.5 130.8,236.9 130.9,235.2 131.0,236.0 131.1,236.8 131.3,237.7 131.4,237.9 131.5,236.5 131.6,235.4 131.7,234.6 131.8,237.6 132.0,238.4 132.1,237.1 132.2,238.6 132.3,236.1 132.4,236.1 132.6,238.6 132.7,235.3 132.8,237.4 132.9,237.1 133.0,236.8 133.1,238.8 133.3,235.5 133.4,236.1 133.5,234.0 133.6,235.3 133.7,236.0 133.8,236.2 134.0,236.4 134.1,237.1 134.2,235.9 134.3,234.3 134.4,237.0 134.6,237.3 134.7,235.4 134.8,235.8 134.9,239.1 135.0,238.2 135.1,238.3 135.3,237.7 135.4,237.1 135.5,236.3 135.6,237.7 135.7,236.7 135.9,236.4 136.0,236.9 136.1,236.8 136.2,238.1 136.3,235.7 136.4,240.0 136.6,235.6 136.7,236.3 136.8,238.1 136.9,235.8 137.0,236.2 137.2,236.8 137.3,233.1 137.4,236.1 137.5,235.5 137.6,236.4 137.7,237.4 137.9,237.5 138.0,238.6 138.1,238.5 138.2,238.0 138.3,236.7 138.5,238.0 138.6,235.5 138.7,236.6 138.8,238.6 138.9,237.8 139.0,235.1 139.2,236.1 139.3,238.0 139.4,237.7 139.5,238.3 139.6,234.7 139.8,235.4 139.9,236.7 140.0,235.8 140.1,237.1 140.2,237.2 140.3,237.6 140.5,237.1 140.6,238.0 140.7,238.3 140.8,237.5 140.9,235.8 141.1,239.0 141.2,237.6 141.3,237.9 141.4,237.6 141.5,235.4 141.6,238.1 141.8,236.6 141.9,235.9 142.0,239.0 142.1,237.0 142.2,237.8 142.4,238.5 142.5,239.5 142.6,235.1 142.7,236.5 142.8,238.3 142.9,236.6 143.1,233.3 143.2,237.6 143.3,237.7 143.4,238.5 143.5,237.8 143.7,236.9 143.8,237.8 143.9,237.5 144.0,236.9 144.1,237.9 144.2,238.0 144.4,236.3 144.5,238.9 144.6,238.7 144.7,238.6 144.8,234.2 144.9,237.8 145.1,237.5 145.2,236.5 145.3,238.5 145.4,235.9 145.5,239.4 145.7,238.3 145.8,237.2 145.9,239.7 146.0,238.5 146.1,238.3 146.2,236.3 146.4,238.6 146.5,239.7 146.6,239.4 146.7,236.4 146.8,239.8 147.0,240.1 147.1,239.1 147.2,237.6 147.3,236.2 147.4,237.0 147.5,237.4 147.7,238.5 147.8,238.9 147.9,237.3 148.0,236.2 148.1,237.7 148.3,236.6 148.4,240.0 148.5,236.8 148.6,238.9 148.7,239.4 148.8,237.1 149.0,239.6 149.1,238.2 149.2,237.4 149.3,237.2 149.4,238.6 149.6,239.8 149.7,236.0 149.8,239.2 149.9,238.2 150.0,237.5 150.1,238.3 150.3,238.4 150.4,238.4 150.5,239.4 150.6,237.3 150.7,240.9 150.9,239.5 151.0,237.6 151.1,235.9 151.2,238.3 151.3,237.8 151.4,239.2 151.6,239.2 151.7,240.7 151.8,238.1 151.9,239.2 152.0,237.7 152.2,237.7 152.3,240.1 152.4,238.0 152.5,238.0 152.6,237.7 152.7,238.5 152.9,238.8 153.0,237.9 153.1,236.6 153.2,238.5 153.3,237.0 153.5,237.6 153.6,238.3 153.7,238.3 153.8,235.1 153.9,240.2 154.0,239.0 154.2,240.5 154.3,241.2 154.4,236.9 154.5,237.3 154.6,238.4 154.7,239.2 154.9,237.4 155.0,237.7 155.1,239.5 155.2,237.0 155.3,238.4 155.5,239.5 155.6,237.9 155.7,239.2 155.8,238.1 155.9,236.3 156.0,237.6 156.2,238.1 156.3,238.0 156.4,238.4 156.5,238.9 156.6,238.8 156.8,238.7 156.9,238.0 157.0,238.3 157.1,238.1 157.2,237.8 157.3,240.3 157.5,236.2 157.6,238.9 157.7,236.6 157.8,237.9 157.9,239.7 158.1,238.3 158.2,240.5 158.3,237.5 158.4,238.4 158.5,238.0 158.6,238.8 158.8,238.4 158.9,238.3 159.0,238.9 159.1,240.2 159.2,239.0 159.4,238.9 159.5,238.4 159.6,237.9 159.7,236.9 159.8,237.4 159.9,238.8 160.1,236.3 160.2,239.5 160.3,238.2 160.4,237.5 160.5,238.0 160.7,239.5 160.8,239.1 160.9,239.0 161.0,240.9 161.1,241.6 161.2,237.0 161.4,239.8 161.5,237.7 161.6,236.9 161.7,238.0 161.8,240.0 162.0,238.3 162.1,238.1 162.2,240.5 162.3,239.4 162.4,238.6 162.5,241.0 162.7,239.3 162.8,237.8 162.9,237.4 163.0,238.2 163.1,239.0 163.3,239.9 163.4,239.8 163.5,238.9 163.6,237.3 163.7,239.9 163.8,238.9 164.0,237.4 164.1,237.2 164.2,239.1 164.3,239.2 164.4,239.8 164.6,237.3 164.7,241.2 164.8,236.5 164.9,238.7 165.0,240.5 165.1,240.1 165.3,237.6 165.4,239.6 165.5,240.3 165.6,239.7 165.7,237.5 165.8,240.9 166.0,236.7 166.1,238.8 166.2,237.4 166.3,238.2 166.4,238.4 166.6,239.4 166.7,237.2 166.8,239.0 166.9,240.4 167.0,238.9 167.1,239.5 167.3,239.3 167.4,237.8 167.5,238.3 167.6,238.8 167.7,239.4 167.9,241.3 168.0,240.8 168.1,238.2 168.2,238.2 168.3,237.5 168.4,235.9 168.6,240.4 168.7,239.5 168.8,236.3 168.9,238.8 169.0,241.8 169.2,239.4 169.3,239.5 169.4,239.1 169.5,237.9 169.6,237.4 169.7,237.9 169.9,239.1 170.0,238.7 170.1,239.9 170.2,241.2 170.3,239.8 170.5,240.1 170.6,238.6 170.7,237.5 170.8,241.9 170.9,240.1 171.0,240.7 171.2,238.7 171.3,237.1 171.4,240.9 171.5,236.6 171.6,239.1 171.8,238.7 171.9,239.6 172.0,240.4 172.1,240.4 172.2,236.7 172.3,240.7 172.5,237.0 172.6,240.3 172.7,238.9 172.8,238.0 172.9,238.8 173.1,237.8 173.2,239.4 173.3,240.7 173.4,240.5 173.5,239.5 173.6,240.9 173.8,240.1 173.9,242.2 174.0,240.1 174.1,238.7 174.2,239.1 174.4,238.5 174.5,239.1 174.6,239.3 174.7,240.4 174.8,240.5 174.9,239.6 175.1,240.1 175.2,238.6 175.3,238.9 175.4,236.5 175.5,238.6 175.6,239.0 175.8,243.0 175.9,238.0 176.0,239.8 176.1,239.4 176.2,237.8 176.4,240.2 176.5,239.9 176.6,238.0 176.7,237.0 176.8,239.9 176.9,238.2 177.1,240.9 177.2,239.7 177.3,240.7 177.4,239.7 177.5,242.1 177.7,241.0 177.8,242.1 177.9,240.3 178.0,238.9 178.1,238.4 178.2,239.5 178.4,240.6 178.5,239.4 178.6,243.3 178.7,240.1 178.8,240.8 179.0,240.3 179.1,238.6 179.2,241.5 179.3,241.0 179.4,241.3 179.5,238.9 179.7,240.1 179.8,240.1 179.9,241.6 180.0,238.3 180.1,240.9 180.3,241.6 180.4,239.5 180.5,239.0 180.6,241.7 180.7,240.3 180.8,241.4 181.0,240.9 181.1,241.3 181.2,239.7 181.3,237.2 181.4,240.6 181.6,239.0 181.7,240.7 181.8,239.2 181.9,242.0 182.0,239.6 182.1,240.9 182.3,241.3 182.4,239.8 182.5,240.3 182.6,239.9 182.7,238.7 182.9,241.8 183.0,238.7 183.1,237.9 183.2,239.3 183.3,240.1 183.4,240.0 183.6,239.5 183.7,239.4 183.8,237.2 183.9,240.7 184.0,242.2 184.2,239.0 184.3,237.6 184.4,240.9 184.5,239.7 184.6,234.9 184.7,239.0 184.9,238.1 185.0,238.5 185.1,242.5 185.2,241.3 185.3,239.8 185.5,240.0 185.6,242.0 185.7,238.6 185.8,241.0 185.9,239.2 186.0,241.1 186.2,240.3 186.3,239.1 186.4,241.4 186.5,240.7 186.6,242.4 186.7,239.5 186.9,240.2 187.0,239.1 187.1,241.6 187.2,239.0 187.3,240.0 187.5,241.7 187.6,240.7 187.7,240.4 187.8,240.3 187.9,240.4 188.0,240.8 188.2,239.6 188.3,237.4 188.4,241.7 188.5,238.6 188.6,242.3 188.8,240.3 188.9,244.0 189.0,241.4 189.1,240.5 189.2,241.1 189.3,238.1 189.5,240.1 189.6,239.4 189.7,239.9 189.8,237.3 189.9,237.1 190.1,240.9 190.2,240.0 190.3,239.4 190.4,239.8 190.5,239.1 190.6,239.3 190.8,240.8 190.9,239.7 191.0,240.9 191.1,239.1 191.2,237.6 191.4,239.1 191.5,239.8 191.6,238.5 191.7,239.5 191.8,239.3 191.9,241.1 192.1,241.0 192.2,241.3 192.3,238.9 192.4,240.3 192.5,241.6 192.7,240.1 192.8,239.8 192.9,238.9 193.0,241.0 193.1,240.1 193.2,241.2 193.4,239.7 193.5,242.5 193.6,239.8 193.7,238.3 193.8,240.1 194.0,240.5 194.1,241.5 194.2,239.3 194.3,239.2 194.4,239.6 194.5,239.4 194.7,237.2 194.8,240.9 194.9,241.6 195.0,239.0 195.1,238.7 195.3,239.8 195.4,239.0 195.5,241.1 195.6,239.3 195.7,240.9 195.8,238.5 196.0,238.3 196.1,238.1 196.2,238.3 196.3,240.7 196.4,241.3 196.5,240.4 196.7,240.5 196.8,237.4 196.9,241.7 197.0,238.7 197.1,241.9 197.3,243.4 197.4,240.3 197.5,241.0 197.6,241.0 197.7,238.5 197.8,238.8 198.0,239.3 198.1,240.4 198.2,241.3 198.3,240.3 198.4,241.6 198.6,239.5 198.7,238.4 198.8,240.2 198.9,240.1 199.0,238.4 199.1,241.5 199.3,239.0 199.4,239.3 199.5,240.5 199.6,238.8 199.7,241.0 199.9,240.7 200.0,240.8 200.1,240.2 200.2,239.6 200.3,239.3 200.4,240.7 200.6,242.1 200.7,241.3 200.8,240.8 200.9,241.7 201.0,242.1 201.2,238.8 201.3,240.4 201.4,242.0 201.5,239.6 201.6,239.9 201.7,241.3 201.9,240.2 202.0,242.1 202.1,240.1 202.2,241.3 202.3,243.7 202.5,242.0 202.6,238.8 202.7,239.1 202.8,239.2 202.9,240.4 203.0,238.6 203.2,241.1 203.3,242.6 203.4,242.4 203.5,239.4 203.6,240.0 203.8,239.9 203.9,239.2 204.0,242.4 204.1,239.3 204.2,238.8 204.3,240.7 204.5,240.6 204.6,242.1 204.7,242.1 204.8,239.9 204.9,237.5 205.1,241.0 205.2,241.2 205.3,242.5 205.4,238.1 205.5,238.7 205.6,242.2 205.8,242.3 205.9,241.9 206.0,240.2 206.1,241.9 206.2,239.5 206.4,238.7 206.5,240.2 206.6,240.4 206.7,241.3 206.8,241.7 206.9,238.1 207.1,240.7 207.2,241.0 207.3,238.7 207.4,240.0 207.5,240.4 207.6,240.9 207.8,239.2 207.9,239.6 208.0,238.9 208.1,240.7 208.2,239.9 208.4,239.5 208.5,241.1 208.6,240.0 208.7,238.7 208.8,241.7 208.9,241.5 209.1,240.8 209.2,238.9 209.3,241.6 209.4,239.4 209.5,237.8 209.7,240.0 209.8,242.5 209.9,239.6 210.0,240.9 210.1,241.9 210.2,240.4 210.4,239.8 210.5,240.2 210.6,241.0 210.7,239.6 210.8,240.7 211.0,241.0 211.1,239.8 211.2,241.2 211.3,241.0 211.4,239.9 211.5,240.1 211.7,240.5 211.8,240.2 211.9,240.1 212.0,239.1 212.1,240.5 212.3,241.3 212.4,241.2 212.5,239.4 212.6,241.1 212.7,241.1 212.8,239.2 213.0,241.0 213.1,240.1 213.2,239.8 213.3,240.5 213.4,239.9 213.6,237.3 213.7,240.3 213.8,238.6 213.9,239.8 214.0,240.8 214.1,239.6 214.3,239.2 214.4,239.9 214.5,240.3 214.6,238.6 214.7,238.9 214.9,240.2 215.0,241.6 215.1,239.6 215.2,240.7 215.3,238.6 215.4,239.6 215.6,239.7 215.7,238.0 215.8,239.6 215.9,239.4 216.0,236.4 216.2,239.6 216.3,240.1 216.4,240.0 216.5,240.2 216.6,238.4 216.7,239.0 216.9,239.7 217.0,238.9 217.1,239.4 217.2,241.6 217.3,239.0 217.4,239.8 217.6,242.5 217.7,240.1 217.8,239.1 217.9,240.7 218.0,240.7 218.2,240.7 218.3,238.5 218.4,240.9 218.5,241.1 218.6,243.2 218.7,241.5 218.9,240.1 219.0,241.1 219.1,241.5 219.2,240.5 219.3,240.7 219.5,242.4 219.6,241.3 219.7,241.4 219.8,239.5 219.9,241.2 220.0,238.3 220.2,242.2 220.3,240.1 220.4,241.4 220.5,242.4 220.6,239.3 220.8,242.0 220.9,240.9 221.0,242.0 221.1,240.1 221.2,239.7 221.3,242.2 221.5,241.1 221.6,240.6 221.7,239.2 221.8,242.2 221.9,240.2 222.1,240.3 222.2,239.7 222.3,240.6 222.4,241.4 222.5,240.6 222.6,240.5 222.8,240.0 222.9,242.5 223.0,242.7 223.1,240.3 223.2,239.6 223.4,241.1 223.5,238.8 223.6,241.1 223.7,241.1 223.8,241.0 223.9,242.8 224.1,243.1 224.2,241.4 224.3,240.5 224.4,242.2 224.5,242.4 224.7,239.5 224.8,240.1 224.9,240.7 225.0,239.0 225.1,239.7 225.2,243.1 225.4,239.6 225.5,242.2 225.6,240.2 225.7,242.4 225.8,241.6 226.0,242.4 226.1,239.6 226.2,241.7 226.3,240.6 226.4,242.3 226.5,242.2 226.7,241.6 226.8,241.2 226.9,241.4 227.0,241.7 227.1,240.8 227.3,240.9 227.4,240.7 227.5,240.2 227.6,242.7 227.7,239.8 227.8,243.0 228.0,242.3 228.1,239.3 228.2,239.2 228.3,241.5 228.4,240.1 228.5,241.6 228.7,242.6 228.8,241.8 228.9,241.1 229.0,241.2 229.1,243.2 229.3,240.9 229.4,243.5 229.5,243.9 229.6,240.9 229.7,241.7 229.8,243.5 230.0,240.5 230.1,241.9 230.2,242.7 230.3,240.1 230.4,241.8 230.6,241.6 230.7,240.8 230.8,243.3 230.9,241.3 231.0,244.2 231.1,242.3 231.3,240.6 231.4,241.8 231.5,240.6 231.6,242.5 231.7,242.3 231.9,240.1 232.0,241.1 232.1,242.2 232.2,241.7 232.3,240.4 232.4,242.9 232.6,243.3 232.7,239.8 232.8,243.4 232.9,239.1 233.0,241.4 233.2,240.8 233.3,240.9 233.4,241.8 233.5,240.1 233.6,241.4 233.7,243.6 233.9,242.1 234.0,243.3 234.1,242.5 234.2,239.5 234.3,243.6 234.5,242.5 234.6,242.3 234.7,241.0 234.8,240.8 234.9,240.2 235.0,241.3 235.2,241.6 235.3,241.2 235.4,241.3 235.5,239.1 235.6,240.5 235.8,240.5 235.9,241.8 236.0,240.9 236.1,240.9 236.2,241.6 236.3,240.9 236.5,241.1 236.6,242.8 236.7,241.3 236.8,240.4 236.9,242.2 237.1,242.5 237.2,242.3 237.3,239.9 237.4,242.6 237.5,241.5 237.6,241.6 237.8,241.6 237.9,242.0 238.0,242.0 238.1,243.2 238.2,241.7 238.3,241.3 238.5,242.2 238.6,241.3 238.7,242.7 238.8,241.6 238.9,242.3 239.1,240.7 239.2,242.5 239.3,242.1 239.4,240.3 239.5,240.8 239.6,241.4 239.8,239.7 239.9,239.9 240.0,241.8 240.1,241.9 240.2,242.9 240.4,239.7 240.5,240.8 240.6,238.8 240.7,243.3 240.8,239.6 240.9,240.9 241.1,243.6 241.2,243.0 241.3,240.2 241.4,244.0 241.5,241.9 241.7,240.1 241.8,241.7 241.9,242.1 242.0,242.2 242.1,238.8 242.2,243.7 242.4,239.5 242.5,241.2 242.6,243.2 242.7,242.0 242.8,241.5 243.0,240.9 243.1,242.3 243.2,243.3 243.3,241.0 243.4,242.2 243.5,241.3 243.7,241.2 243.8,239.2 243.9,242.1 244.0,242.9 244.1,241.6 244.3,243.1 244.4,242.0 244.5,243.3 244.6,242.0 244.7,241.4 244.8,241.3 245.0,242.0 245.1,242.2 245.2,241.0 245.3,241.7 245.4,240.3 245.6,240.3 245.7,242.7 245.8,242.3 245.9,242.9 246.0,242.0 246.1,242.2 246.3,244.1 246.4,240.8 246.5,242.2 246.6,243.7 246.7,244.2 246.9,242.5 247.0,241.6 247.1,240.5 247.2,241.5 247.3,241.9 247.4,241.7 247.6,242.3 247.7,242.3 247.8,241.1 247.9,240.5 248.0,241.2 248.2,242.1 248.3,243.5 248.4,239.5 248.5,242.8 248.6,241.1 248.7,242.7 248.9,243.6 249.0,242.0 249.1,240.0 249.2,240.8 249.3,241.7 249.4,240.9 249.6,241.1 249.7,240.3 249.8,240.9 249.9,240.4 250.0,242.2 250.2,241.5 250.3,242.0 250.4,239.1 250.5,240.5 250.6,240.2 250.7,240.5 250.9,240.0 251.0,240.1 251.1,242.9 251.2,240.7 251.3,239.5 251.5,240.6 251.6,243.6 251.7,241.8 251.8,239.8 251.9,240.6 252.0,240.8 252.2,241.0 252.3,238.7 252.4,239.8 252.5,240.7 252.6,238.8 252.8,240.7 252.9,241.0 253.0,241.8 253.1,242.2 253.2,240.7 253.3,241.2 253.5,241.8 253.6,242.2 253.7,241.1 253.8,240.1 253.9,241.7 254.1,242.1 254.2,241.3 254.3,241.8 254.4,243.1 254.5,240.6 254.6,240.4 254.8,240.0 254.9,241.7 255.0,242.5 255.1,240.8 255.2,243.6 255.4,240.8 255.5,241.8 255.6,241.4 255.7,243.2 255.8,240.8 255.9,243.6 256.1,241.4 256.2,240.0 256.3,241.0 256.4,241.5 256.5,243.7 256.7,241.1 256.8,241.7 256.9,244.1 257.0,241.9 257.1,240.9 257.2,240.8 257.4,239.8 257.5,242.0 257.6,243.1 257.7,241.2 257.8,240.3 258.0,241.9 258.1,241.5 258.2,241.4 258.3,242.0 258.4,241.5 258.5,241.0 258.7,242.6 258.8,239.2 258.9,240.1 259.0,241.1 259.1,239.8 259.2,243.2 259.4,238.7 259.5,242.2 259.6,242.0 259.7,241.7 259.8,241.8 260.0,240.6 260.1,240.5 260.2,243.0 260.3,241.1 260.4,239.6 260.5,239.8 260.7,239.4 260.8,241.6 260.9,242.6 261.0,240.9 261.1,241.4 261.3,240.6 261.4,242.3 261.5,242.3 261.6,242.3 261.7,243.4 261.8,239.7 262.0,242.2 262.1,239.4 262.2,242.1 262.3,242.2 262.4,242.1 262.6,242.2 262.7,241.1 262.8,240.5 262.9,242.2 263.0,240.5 263.1,242.1 263.3,240.2 263.4,241.7 263.5,241.6 263.6,240.3 263.7,240.9 263.9,242.4 264.0,241.3 264.1,241.9 264.2,240.7 264.3,241.5 264.4,239.6 264.6,240.4 264.7,242.9 264.8,242.0 264.9,241.4 265.0,241.6 265.2,239.8 265.3,241.9 265.4,240.0 265.5,240.6 265.6,242.3 265.7,240.6 265.9,240.9 266.0,241.4 266.1,241.7 266.2,243.2 266.3,239.6 266.5,241.1 266.6,242.3 266.7,241.1 266.8,241.2 266.9,240.7 267.0,241.3 267.2,242.5 267.3,243.2 267.4,242.2 267.5,243.4 267.6,242.0 267.8,239.9 267.9,242.8 268.0,239.5 268.1,241.8 268.2,241.9 268.3,240.6 268.5,241.7 268.6,241.3 268.7,242.1 268.8,241.6 268.9,242.6 269.1,241.5 269.2,242.6 269.3,241.9 269.4,242.2 269.5,242.0 269.6,241.3 269.8,243.1 269.9,242.5 270.0,239.1 270.1,240.3 270.2,243.7 270.3,241.4 270.5,245.0 270.6,242.2 270.7,242.2 270.8,241.1 270.9,241.4 271.1,241.8 271.2,242.7 271.3,241.7 271.4,241.5 271.5,240.4 271.6,241.0 271.8,241.1 271.9,241.4 272.0,240.7 272.1,240.3 272.2,241.2 272.4,238.7 272.5,239.8 272.6,240.7 272.7,242.1 272.8,240.8 272.9,240.4 273.1,242.5 273.2,241.5 273.3,243.3 273.4,241.4 273.5,240.8 273.7,241.2 273.8,243.8 273.9,243.5 274.0,241.9 274.1,242.9 274.2,240.0 274.4,243.1 274.5,242.0 274.6,241.5 274.7,241.7 274.8,241.9 275.0,241.1 275.1,241.1 275.2,240.1 275.3,243.4 275.4,240.5 275.5,241.3 275.7,242.7 275.8,242.9 275.9,243.1 276.0,240.7 276.1,240.9 276.3,241.3 276.4,239.2 276.5,242.4 276.6,239.4 276.7,241.2 276.8,242.4 277.0,242.3 277.1,240.7 277.2,242.3 277.3,242.5 277.4,239.3 277.6,240.9 277.7,242.0 277.8,241.8 277.9,241.0 278.0,241.1 278.1,244.0 278.3,240.8 278.4,242.5 278.5,239.8 278.6,241.9 278.7,242.5 278.9,240.7 279.0,240.5 279.1,243.4 279.2,241.0 279.3,242.4 279.4,239.5 279.6,243.2 279.7,238.9 279.8,240.2 279.9,240.6 280.0,241.2 280.1,241.5 280.3,243.2 280.4,243.8 280.5,243.6 280.6,242.3 280.7,241.6 280.9,239.0 281.0,241.4 281.1,240.8 281.2,242.3 281.3,240.4 281.4,240.6 281.6,240.8 281.7,242.4 281.8,241.9 281.9,240.6 282.0,239.8 282.2,241.2 282.3,241.1 282.4,241.3 282.5,242.0 282.6,242.8 282.7,242.9 282.9,241.3 283.0,241.2 283.1,243.9 283.2,241.8 283.3,243.0 283.5,242.4 283.6,242.6 283.7,244.0 283.8,241.8 283.9,243.4 284.0,242.7 284.2,241.9 284.3,241.5 284.4,241.4 284.5,243.3 284.6,243.1 284.8,240.9 284.9,242.3 285.0,239.6 285.1,241.8 285.2,244.1 285.3,240.2 285.5,241.9 285.6,240.8 285.7,241.6 285.8,240.2 285.9,241.6 286.1,238.6 286.2,241.0 286.3,240.9 286.4,241.1 286.5,243.6 286.6,239.8 286.8,240.3 286.9,239.5 287.0,241.6 287.1,241.1 287.2,239.6 287.4,242.1 287.5,241.3 287.6,242.7 287.7,241.9 287.8,241.1 287.9,240.1 288.1,238.4 288.2,240.3 288.3,242.3 288.4,240.7 288.5,240.0 288.7,241.3 288.8,241.9 288.9,244.4 289.0,239.9 289.1,240.7 289.2,239.7 289.4,240.2 289.5,242.2 289.6,241.0 289.7,239.4 289.8,242.8 290.0,243.3 290.1,242.2 290.2,240.1 290.3,240.0 290.4,242.9 290.5,240.2 290.7,240.7 290.8,239.7 290.9,243.8 291.0,240.7 291.1,241.3 291.2,240.7 291.4,240.8 291.5,240.2 291.6,242.9 291.7,240.8 291.8,243.4 292.0,240.1 292.1,242.3 292.2,242.9 292.3,240.3 292.4,242.0 292.5,241.0 292.7,240.4 292.8,241.2 292.9,239.5 293.0,241.4 293.1,239.9 293.3,242.5 293.4,243.6 293.5,243.4 293.6,240.9 293.7,241.6 293.8,244.1 294.0,243.3 294.1,242.5 294.2,239.2 294.3,241.3 294.4,244.4 294.6,242.3 294.7,241.2 294.8,241.8 294.9,244.6 295.0,243.3 295.1,240.2 295.3,240.3 295.4,241.8 295.5,243.3 295.6,240.8 295.7,241.0 295.9,238.6 296.0,240.9 296.1,242.4 296.2,242.4 296.3,239.9 296.4,242.6 296.6,240.7 296.7,239.9 296.8,242.3 296.9,239.7 297.0,241.1 297.2,240.6 297.3,241.5 297.4,241.9 297.5,241.1 297.6,240.7 297.7,241.1 297.9,238.8 298.0,241.6 298.1,244.3 298.2,242.2 298.3,243.2 298.5,241.8 298.6,241.9 298.7,242.4 298.8,242.7 298.9,242.7 299.0,240.9 299.2,241.9 299.3,240.1 299.4,243.2 299.5,241.8 299.6,241.5 299.8,240.3 299.9,242.4 300.0,243.1 300.1,242.4 300.2,243.2 300.3,240.8 300.5,242.9 300.6,241.7 300.7,238.4 300.8,242.1 300.9,240.5 301.1,241.5 301.2,240.8 301.3,240.6 301.4,242.9 301.5,241.0 301.6,241.9 301.8,242.5 301.9,241.2 302.0,240.2 302.1,241.8 302.2,241.6 302.3,240.6 302.5,241.9 302.6,243.4 302.7,243.1 302.8,243.8 302.9,243.7 303.1,242.2 303.2,242.0 303.3,240.7 303.4,243.6 303.5,241.4 303.6,242.9 303.8,244.2 303.9,242.3 304.0,240.4 304.1,240.9 304.2,241.8 304.4,243.9 304.5,241.8 304.6,242.0 304.7,240.9 304.8,242.6 304.9,242.3 305.1,243.1 305.2,240.9 305.3,242.8 305.4,240.3 305.5,241.2 305.7,241.3 305.8,241.7 305.9,242.4 306.0,239.0 306.1,241.7 306.2,241.3 306.4,240.1 306.5,241.3 306.6,242.2 306.7,241.1 306.8,241.0 307.0,242.4 307.1,240.6 307.2,242.8 307.3,242.0 307.4,242.0 307.5,242.3 307.7,243.1 307.8,240.6 307.9,243.0 308.0,240.5 308.1,242.0 308.3,242.4 308.4,241.8 308.5,240.3 308.6,240.2 308.7,240.4 308.8,241.7 309.0,242.0 309.1,242.5 309.2,239.9 309.3,242.3 309.4,243.2 309.6,242.1 309.7,241.9 309.8,243.0 309.9,243.9 310.0,243.8 310.1,243.9 310.3,240.4 310.4,243.8 310.5,241.6 310.6,243.0 310.7,241.2 310.9,242.4 311.0,241.2 311.1,241.6 311.2,244.3 311.3,240.4 311.4,243.1 311.6,242.0 311.7,240.5 311.8,243.5 311.9,241.9 312.0,241.1 312.1,242.2 312.3,240.8 312.4,243.8 312.5,239.9 312.6,241.1 312.7,239.2 312.9,242.0 313.0,242.7 313.1,242.8 313.2,243.6 313.3,241.7 313.4,241.1 313.6,242.8 313.7,240.9 313.8,242.1 313.9,241.1 314.0,240.8 314.2,241.7 314.3,243.1 314.4,242.9 314.5,242.0 314.6,238.6 314.7,241.8 314.9,242.3 315.0,242.6 315.1,241.0 315.2,243.2 315.3,242.4 315.5,239.6 315.6,242.9 315.7,244.0 315.8,242.3 315.9,241.1 316.0,244.3 316.2,243.3 316.3,239.8 316.4,243.4 316.5,242.6 316.6,242.4 316.8,239.9 316.9,239.9 317.0,242.2 317.1,244.4 317.2,242.2 317.3,242.1 317.5,241.2 317.6,241.4 317.7,243.2 317.8,240.9 317.9,244.1 318.1,242.4 318.2,242.1 318.3,241.5 318.4,240.7 318.5,241.3 318.6,239.7 318.8,241.6 318.9,239.1 319.0,244.1 319.1,241.3 319.2,239.4 319.4,241.6 319.5,241.3 319.6,240.5 319.7,241.4 319.8,240.1 319.9,240.9 320.1,240.8 320.2,241.6 320.3,240.3 320.4,241.3 320.5,237.4 320.7,242.3 320.8,241.1 320.9,241.6 321.0,240.6 321.1,242.0 321.2,240.9 321.4,241.2 321.5,241.0 321.6,240.3 321.7,239.8 321.8,241.6 322.0,241.8 322.1,240.9 322.2,242.6 322.3,241.2 322.4,241.7 322.5,242.5 322.7,242.0 322.8,240.9 322.9,239.8 323.0,240.2 323.1,239.9 323.2,242.2 323.4,236.8 323.5,243.8 323.6,240.2 323.7,242.6 323.8,241.7 324.0,242.0 324.1,239.7 324.2,242.6 324.3,241.2 324.4,242.1 324.5,240.2 324.7,241.3 324.8,240.5 324.9,241.7 325.0,242.2 325.1,241.0 325.3,241.9 325.4,241.9 325.5,241.2 325.6,240.9 325.7,238.8 325.8,242.5 326.0,241.3 326.1,240.8 326.2,241.3 326.3,240.4 326.4,240.6 326.6,241.6 326.7,239.0 326.8,240.5 326.9,241.2 327.0,238.9 327.1,239.5 327.3,242.4 327.4,243.5 327.5,241.2 327.6,241.6 327.7,239.7 327.9,242.5 328.0,240.8 328.1,241.0 328.2,241.4 328.3,240.3 328.4,240.1 328.6,241.0 328.7,239.8 328.8,240.4 328.9,238.0 329.0,240.0 329.2,241.9 329.3,242.8 329.4,242.2 329.5,240.5 329.6,241.7 329.7,240.4 329.9,240.3 330.0,242.9 330.1,241.3 330.2,241.4 330.3,242.0 330.5,243.0 330.6,242.0 330.7,241.6 330.8,242.3 330.9,241.8 331.0,241.5 331.2,239.1 331.3,240.8 331.4,241.7 331.5,240.5 331.6,244.1 331.8,244.6 331.9,243.8 332.0,240.6 332.1,242.3 332.2,242.2 332.3,242.0 332.5,239.6 332.6,242.7 332.7,243.6 332.8,242.5 332.9,244.1 333.0,241.1 333.2,242.2 333.3,243.0 333.4,240.2 333.5,241.2 333.6,240.4 333.8,242.4 333.9,239.9 334.0,241.7 334.1,240.6 334.2,242.4 334.3,240.7 334.5,241.1 334.6,241.6 334.7,240.4 334.8,240.8 334.9,241.0 335.1,240.7 335.2,241.7 335.3,240.4 335.4,241.4 335.5,241.0 335.6,240.6 335.8,240.0 335.9,239.0 336.0,240.5 336.1,242.0 336.2,240.9 336.4,243.2 336.5,240.2 336.6,240.9 336.7,239.5 336.8,242.8 336.9,239.8 337.1,242.0 337.2,241.8 337.3,244.7 337.4,243.2 337.5,242.5 337.7,241.7 337.8,243.9 337.9,241.2 338.0,240.1 338.1,242.8 338.2,241.6 338.4,240.8 338.5,242.1 338.6,242.4 338.7,239.8 338.8,242.9 339.0,244.2 339.1,241.3 339.2,239.9 339.3,242.1 339.4,241.6 339.5,242.7 339.7,242.9 339.8,241.6 339.9,243.6 340.0,239.3 340.1,240.8 340.3,241.9 340.4,242.1 340.5,241.5 340.6,242.2 340.7,240.0 340.8,238.7 341.0,242.6 341.1,243.2 341.2,241.5 341.3,240.1 341.4,240.6 341.6,242.2 341.7,241.8 341.8,243.1 341.9,243.5 342.0,243.0 342.1,241.2 342.3,242.8 342.4,242.1 342.5,241.7 342.6,241.7 342.7,241.3 342.9,240.2 343.0,241.9 343.1,240.4 343.2,241.3 343.3,242.4 343.4,242.3 343.6,239.1 343.7,240.5 343.8,240.0 343.9,241.7 344.0,240.4 344.1,242.5 344.3,240.8 344.4,241.9 344.5,240.2 344.6,240.4 344.7,241.0 344.9,241.9 345.0,238.8 345.1,241.4 345.2,239.5 345.3,241.5 345.4,239.1 345.6,240.8 345.7,242.8 345.8,243.1 345.9,240.1 346.0,243.4 346.2,240.8 346.3,241.3 346.4,241.9 346.5,241.4 346.6,241.7 346.7,241.5 346.9,242.4 347.0,241.6 347.1,240.7 347.2,240.0 347.3,240.0 347.5,241.1 347.6,242.1 347.7,241.6 347.8,240.8 347.9,241.7 348.0,240.5 348.2,241.3 348.3,241.8 348.4,240.7 348.5,242.8 348.6,242.6 348.8,240.8 348.9,241.9 349.0,241.4 349.1,241.6 349.2,241.6 349.3,242.8 349.5,241.6 349.6,241.6 349.7,242.4 349.8,242.3 349.9,243.4 350.1,240.3 350.2,242.1 350.3,239.1 350.4,241.4 350.5,239.8 350.6,239.7 350.8,241.2 350.9,240.1 351.0,241.0 351.1,238.1 351.2,243.1 351.4,238.1 351.5,240.6 351.6,243.5 351.7,239.8 351.8,243.5 351.9,242.8 352.1,241.3 352.2,241.0 352.3,241.1 352.4,241.8 352.5,242.6 352.7,243.1 352.8,238.9 352.9,242.5 353.0,242.2 353.1,239.9 353.2,242.5 353.4,242.5 353.5,242.5 353.6,241.3 353.7,242.3 353.8,242.8 353.9,240.5 354.1,240.7 354.2,240.6 354.3,242.7 354.4,241.3 354.5,240.4 354.7,240.0 354.8,239.7 354.9,241.5 355.0,242.2 355.1,242.7 355.2,239.9 355.4,240.0 355.5,240.0 355.6,240.1 355.7,239.3 355.8,243.0 356.0,241.6 356.1,240.4 356.2,237.9 356.3,242.7 356.4,242.0 356.5,241.2 356.7,241.9 356.8,240.2 356.9,241.8 357.0,240.3 357.1,241.6 357.3,240.8 357.4,239.4 357.5,239.7 357.6,242.4 357.7,242.3 357.8,240.8 358.0,240.2 358.1,240.5 358.2,241.5 358.3,239.4 358.4,242.3 358.6,240.1 358.7,239.7 358.8,241.0 358.9,243.4 359.0,240.2 359.1,240.6 359.3,239.6 359.4,241.4 359.5,241.4 359.6,241.0 359.7,240.6 359.9,241.5 360.0,242.0 360.1,240.5 360.2,240.7 360.3,240.2 360.4,240.3 360.6,242.4 360.7,239.7 360.8,241.2 360.9,242.2 361.0,240.3 361.2,241.6 361.3,241.8 361.4,239.1 361.5,242.1 361.6,239.6 361.7,241.0 361.9,239.0 362.0,238.9 362.1,240.6 362.2,242.9 362.3,244.1 362.5,244.4 362.6,242.7 362.7,242.5 362.8,242.0 362.9,241.9 363.0,240.7 363.2,240.6 363.3,241.7 363.4,241.8 363.5,240.4 363.6,239.8 363.8,240.3 363.9,245.4 364.0,240.4 364.1,243.1 364.2,242.8 364.3,242.6 364.5,240.5 364.6,243.8 364.7,241.7 364.8,240.6 364.9,240.4 365.0,241.1 365.2,243.9 365.3,239.7 365.4,240.4 365.5,241.2 365.6,241.8 365.8,239.9 365.9,239.9 366.0,240.5 366.1,241.9 366.2,240.9 366.3,240.8 366.5,241.3 366.6,241.1 366.7,242.1 366.8,240.0 366.9,240.9 367.1,240.1 367.2,241.8 367.3,241.9 367.4,240.5 367.5,242.3 367.6,240.6 367.8,242.5 367.9,240.3 368.0,240.2 368.1,238.9 368.2,239.5 368.4,240.3 368.5,238.2 368.6,240.8 368.7,241.9 368.8,241.5 368.9,241.1 369.1,241.6 369.2,240.1 369.3,240.2 369.4,241.9 369.5,240.7 369.7,242.1 369.8,240.3 369.9,241.7 370.0,242.4 370.1,240.8 370.2,243.0 370.4,242.9 370.5,237.9 370.6,244.3 370.7,239.0 370.8,244.0 371.0,239.9 371.1,238.4 371.2,239.3 371.3,241.6 371.4,239.7 371.5,240.3 371.7,242.5 371.8,239.7 371.9,241.6 372.0,242.6 372.1,238.6 372.3,239.5 372.4,241.2 372.5,240.9 372.6,241.3 372.7,238.4 372.8,239.8 373.0,241.4 373.1,241.6 373.2,242.5 373.3,240.4 373.4,240.0 373.6,239.6 373.7,239.7 373.8,238.3 373.9,243.0 374.0,240.3 374.1,240.0 374.3,240.0 374.4,241.5 374.5,241.0 374.6,239.8 374.7,242.1 374.8,241.2 375.0,240.6 375.1,240.8 375.2,242.3 375.3,241.7 375.4,240.7 375.6,242.2 375.7,238.2 375.8,241.8 375.9,239.8 376.0,240.1 376.1,240.6 376.3,243.3 376.4,240.7 376.5,240.8 376.6,241.7 376.7,238.4 376.9,240.7 377.0,241.8 377.1,239.7 377.2,241.7 377.3,240.0 377.4,239.1 377.6,242.1 377.7,241.1 377.8,241.9 377.9,241.2 378.0,239.6 378.2,242.2 378.3,241.5 378.4,241.5 378.5,240.5 378.6,239.6 378.7,242.8 378.9,242.0 379.0,241.2 379.1,240.2 379.2,242.6 379.3,239.9 379.5,240.0 379.6,243.6 379.7,241.6 379.8,242.0 379.9,241.7 380.0,243.5 380.2,241.3 380.3,241.4 380.4,239.7 380.5,240.8 380.6,238.9 380.8,240.3 380.9,240.7 381.0,241.6 381.1,242.4 381.2,239.9 381.3,239.4 381.5,241.1 381.6,239.7 381.7,242.9 381.8,242.4 381.9,239.6 382.1,241.1 382.2,242.4 382.3,239.7 382.4,240.2 382.5,240.8 382.6,242.6 382.8,241.5 382.9,240.6 383.0,241.3 383.1,241.0 383.2,241.2 383.4,241.5 383.5,241.3 383.6,241.8 383.7,241.0 383.8,240.7 383.9,240.6 384.1,239.0 384.2,240.4 384.3,243.3 384.4,241.0 384.5,241.7 384.7,242.1 384.8,240.5 384.9,240.7 385.0,241.7 385.1,239.9 385.2,242.2 385.4,241.9 385.5,241.4 385.6,241.4 385.7,242.0 385.8,241.2 385.9,238.0 386.1,241.7 386.2,239.9 386.3,240.4 386.4,240.5 386.5,240.5 386.7,238.9 386.8,238.6 386.9,240.9 387.0,241.0 387.1,241.5 387.2,239.4 387.4,240.5 387.5,241.9 387.6,240.4 387.7,240.2 387.8,243.4 388.0,238.8 388.1,239.8 388.2,239.5 388.3,240.2 388.4,244.7 388.5,239.5 388.7,240.5 388.8,240.1 388.9,239.8 389.0,241.8 389.1,240.2 389.3,242.1 389.4,242.6 389.5,240.2 389.6,242.6 389.7,239.4 389.8,241.3 390.0,242.2 390.1,239.6 390.2,240.8 390.3,241.5 390.4,241.7 390.6,241.4 390.7,243.4 390.8,240.8 390.9,242.5 391.0,243.6 391.1,240.2 391.3,240.4 391.4,239.7 391.5,241.8 391.6,242.7 391.7,238.8 391.9,239.8 392.0,240.1 392.1,243.7 392.2,240.4 392.3,241.3 392.4,239.3 392.6,241.9 392.7,239.5 392.8,240.7 392.9,239.5 393.0,240.6 393.2,240.6 393.3,241.0 393.4,241.0 393.5,243.0 393.6,239.8 393.7,242.4 393.9,241.1 394.0,240.5 394.1,241.1 394.2,241.1 394.3,241.8 394.5,241.8 394.6,241.6 394.7,241.1 394.8,238.9 394.9,241.9 395.0,242.3 395.2,241.4 395.3,241.3 395.4,239.9 395.5,241.3 395.6,242.0 395.7,239.3 395.9,240.4 396.0,240.4 396.1,242.6 396.2,240.5 396.3,238.8 396.5,241.3 396.6,242.7 396.7,240.9 396.8,240.6 396.9,241.4 397.0,243.2 397.2,240.8 397.3,240.8 397.4,241.7 397.5,240.2 397.6,239.1 397.8,241.4 397.9,240.7 398.0,241.6 398.1,241.3 398.2,241.8 398.3,239.8 398.5,241.5 398.6,240.0 398.7,241.5 398.8,240.5 398.9,243.1 399.1,239.9 399.2,238.2 399.3,241.1 399.4,240.4 399.5,239.8 399.6,241.1 399.8,242.9 399.9,240.6 400.0,239.9 400.1,242.5 400.2,242.1 400.4,240.7 400.5,240.0 400.6,241.5 400.7,239.7 400.8,239.8 400.9,239.6 401.1,241.2 401.2,242.4 401.3,240.6 401.4,242.7 401.5,238.1 401.7,240.5 401.8,238.4 401.9,241.6 402.0,242.1 402.1,238.4 402.2,239.6 402.4,240.7 402.5,238.8 402.6,239.6 402.7,239.4 402.8,240.8 403.0,239.8 403.1,239.4 403.2,239.8 403.3,240.7 403.4,241.0 403.5,240.7 403.7,242.5 403.8,240.6 403.9,241.2 404.0,241.9 404.1,240.7 404.3,242.8 404.4,242.2 404.5,242.2 404.6,240.2 404.7,241.1 404.8,242.0 405.0,242.6 405.1,240.6 405.2,240.7 405.3,239.7 405.4,239.5 405.6,242.7 405.7,241.3 405.8,242.0 405.9,242.7 406.0,241.3 406.1,241.4 406.3,240.0 406.4,240.5 406.5,241.8 406.6,242.9 406.7,242.4 406.8,240.3 407.0,240.2 407.1,241.9 407.2,241.6 407.3,241.7 407.4,241.3 407.6,242.5 407.7,241.3 407.8,242.7 407.9,241.5 408.0,240.9 408.1,239.4 408.3,241.2 408.4,241.8 408.5,240.9 408.6,239.5 408.7,238.4 408.9,240.3 409.0,242.8 409.1,239.3 409.2,240.1 409.3,240.8 409.4,241.8 409.6,239.4 409.7,240.6 409.8,240.9 409.9,239.1 410.0,241.0 410.2,239.3 410.3,240.7 410.4,241.2 410.5,240.6 410.6,239.0 410.7,241.3 410.9,241.3 411.0,240.6 411.1,241.4 411.2,239.9 411.3,239.4 411.5,240.2 411.6,241.0 411.7,241.5 411.8,239.6 411.9,240.7 412.0,240.6 412.2,239.8 412.3,238.0 412.4,238.4 412.5,241.6 412.6,238.6 412.8,238.3 412.9,238.7 413.0,240.0 413.1,242.0 413.2,240.9 413.3,239.9 413.5,240.1 413.6,241.0 413.7,240.6 413.8,238.4 413.9,242.0 414.1,241.6 414.2,239.2 414.3,240.2 414.4,241.1 414.5,240.9 414.6,240.1 414.8,240.6 414.9,242.7 415.0,240.1 415.1,241.7 415.2,240.8 415.4,239.1 415.5,241.2 415.6,240.9 415.7,241.9 415.8,242.4 415.9,241.7 416.1,240.8 416.2,241.1 416.3,241.4 416.4,239.4 416.5,239.2 416.6,241.3 416.8,239.0 416.9,240.1 417.0,242.6 417.1,241.5 417.2,241.9 417.4,240.3 417.5,241.8 417.6,239.3 417.7,239.4 417.8,240.1 417.9,239.5 418.1,241.9 418.2,240.1 418.3,238.9 418.4,241.4 418.5,241.2 418.7,241.7 418.8,238.9 418.9,239.3 419.0,237.6 419.1,240.8 419.2,240.2 419.4,239.6 419.5,242.0 419.6,239.4 419.7,239.7 419.8,239.3 420.0,239.1 420.1,240.3 420.2,240.2 420.3,240.0 420.4,239.0 420.5,238.8 420.7,239.7 420.8,240.3 420.9,239.3 421.0,239.9 421.1,240.0 421.3,239.3 421.4,238.6 421.5,240.2 421.6,242.3 421.7,241.0 421.8,240.3 422.0,239.6 422.1,239.6 422.2,241.7 422.3,239.0 422.4,242.6 422.6,240.5 422.7,240.8 422.8,240.0 422.9,241.6 423.0,241.5 423.1,239.5 423.3,242.6 423.4,240.6 423.5,238.5 423.6,240.9 423.7,240.7 423.9,240.5 424.0,241.4 424.1,241.6 424.2,238.9 424.3,240.1 424.4,240.1 424.6,240.4 424.7,238.1 424.8,240.6 424.9,240.4 425.0,242.7 425.2,239.3 425.3,239.8 425.4,241.0 425.5,240.4 425.6,241.5 425.7,242.0 425.9,239.4 426.0,240.7 426.1,241.3 426.2,239.7 426.3,243.3 426.5,241.0 426.6,240.8 426.7,238.8 426.8,239.8 426.9,238.2 427.0,241.5 427.2,239.7 427.3,240.7 427.4,241.1 427.5,240.9 427.6,240.2 427.7,241.6 427.9,239.3 428.0,238.4 428.1,238.9 428.2,241.6 428.3,242.4 428.5,239.9 428.6,240.0 428.7,241.2 428.8,239.1 428.9,240.1 429.0,239.0 429.2,240.8 429.3,237.2 429.4,238.9 429.5,238.6 429.6,240.7 429.8,241.4 429.9,240.8 430.0,243.4 430.1,240.9 430.2,239.8 430.3,240.4 430.5,241.8 430.6,241.6 430.7,243.7 430.8,241.3 430.9,240.0 431.1,239.8 431.2,242.1 431.3,237.7 431.4,241.7 431.5,242.2 431.6,240.7 431.8,241.5 431.9,242.8 432.0,243.1 432.1,242.9 432.2,242.4 432.4,241.0 432.5,239.8 432.6,238.6 432.7,243.4 432.8,242.5 432.9,239.6 433.1,242.5 433.2,240.7 433.3,240.5 433.4,239.7 433.5,243.7 433.7,239.4 433.8,239.7 433.9,242.0 434.0,242.1 434.1,241.7 434.2,239.8 434.4,240.8 434.5,240.0 434.6,240.4 434.7,243.3 434.8,241.3 435.0,242.0 435.1,239.8 435.2,240.3 435.3,241.5 435.4,242.4 435.5,240.7 435.7,242.8 435.8,243.9 435.9,238.6 436.0,240.8 436.1,241.6 436.3,240.5 436.4,242.8 436.5,240.9 436.6,241.1 436.7,238.7 436.8,241.9 437.0,240.2 437.1,241.1 437.2,240.2 437.3,239.6 437.4,240.3 437.5,238.8 437.7,240.1 437.8,241.7 437.9,241.5 438.0,239.1 438.1,241.3 438.3,239.8 438.4,239.4 438.5,240.9 438.6,241.1 438.7,239.4 438.8,241.3 439.0,240.1 439.1,242.8 439.2,238.3 439.3,239.8 439.4,239.7 439.6,239.0 439.7,238.4 439.8,241.6 439.9,240.4 440.0,238.3 440.1,239.3 440.3,239.5 440.4,240.4 440.5,238.8 440.6,241.8 440.7,240.0 440.9,241.8 441.0,240.7 441.1,239.7 441.2,239.8 441.3,240.5 441.4,240.3 441.6,240.4 441.7,241.0 441.8,241.6 441.9,238.9 442.0,238.1 442.2,239.0 442.3,241.7 442.4,240.0 442.5,239.5 442.6,240.7 442.7,241.2 442.9,238.9 443.0,239.1 443.1,240.3 443.2,240.2 443.3,239.5 443.5,243.2 443.6,242.0 443.7,240.2 443.8,241.3 443.9,238.9 444.0,241.6 444.2,240.2 444.3,239.6 444.4,238.8 444.5,241.5 444.6,240.5 444.8,239.7 444.9,241.7 445.0,240.1 445.1,240.8 445.2,239.8 445.3,241.0 445.5,239.0 445.6,239.9 445.7,240.5 445.8,239.4 445.9,239.8 446.1,241.4 446.2,239.9 446.3,241.8 446.4,241.0 446.5,240.5 446.6,238.7 446.8,242.4 446.9,242.4 447.0,241.0 447.1,240.8 447.2,240.7 447.4,240.2 447.5,240.4 447.6,241.2 447.7,238.9 447.8,240.7 447.9,241.3 448.1,238.6 448.2,240.0 448.3,238.9 448.4,239.0 448.5,241.5 448.6,239.4 448.8,244.1 448.9,240.6 449.0,239.8 449.1,240.5 449.2,240.8 449.4,241.2 449.5,241.2 449.6,241.2 449.7,242.2 449.8,242.3 449.9,240.9 450.1,241.3 450.2,239.9 450.3,240.1 450.4,240.3 450.5,242.5 450.7,239.9 450.8,241.0 450.9,240.9 451.0,241.8 451.1,240.0 451.2,240.3 451.4,242.1 451.5,241.0 451.6,240.0 451.7,242.1 451.8,240.8 452.0,240.0 452.1,241.8 452.2,242.8 452.3,240.1 452.4,239.3 452.5,237.6 452.7,242.8 452.8,239.8 452.9,240.1 453.0,239.2 453.1,240.2 453.3,239.1 453.4,242.2 453.5,241.2 453.6,239.7 453.7,238.8 453.8,241.0 454.0,239.3 454.1,241.9 454.2,240.6 454.3,240.2 454.4,238.8 454.6,240.6 454.7,238.7 454.8,241.8 454.9,237.9 455.0,239.9 455.1,243.3 455.3,239.7 455.4,241.3 455.5,241.7 455.6,240.8 455.7,240.3 455.9,241.7 456.0,241.8 456.1,239.8 456.2,242.5 456.3,242.1 456.4,239.3 456.6,241.2 456.7,241.3 456.8,240.8 456.9,239.8 457.0,239.1 457.2,241.3 457.3,238.7 457.4,240.0 457.5,238.3 457.6,239.8 457.7,240.9 457.9,239.0 458.0,241.7 458.1,241.9 458.2,241.3 458.3,241.7 458.5,242.7 458.6,241.8 458.7,238.8 458.8,240.8 458.9,239.9 459.0,241.0 459.2,238.9 459.3,241.1 459.4,240.7 459.5,241.7 459.6,239.9 459.7,240.8 459.9,238.5 460.0,240.9 460.1,241.0 460.2,239.4 460.3,241.1 460.5,239.4 460.6,241.6 460.7,240.0 460.8,240.5 460.9,243.0 461.0,241.7 461.2,242.8 461.3,242.2 461.4,240.8 461.5,242.8 461.6,241.2 461.8,240.8 461.9,240.2 462.0,239.3 462.1,241.4 462.2,240.4 462.3,241.2 462.5,240.5 462.6,241.3 462.7,239.8 462.8,240.9 462.9,241.8 463.1,242.1 463.2,240.5 463.3,239.3 463.4,242.3 463.5,242.0 463.6,239.6 463.8,242.0 463.9,241.1 464.0,239.3 464.1,240.6 464.2,238.9 464.4,240.0 464.5,239.9 464.6,240.3 464.7,241.7 464.8,238.6 464.9,236.6 465.1,241.2 465.2,240.0 465.3,241.5 465.4,241.4 465.5,242.4 465.7,237.9 465.8,242.2 465.9,240.3 466.0,239.7 466.1,242.3 466.2,241.9 466.4,238.7 466.5,239.6 466.6,242.1 466.7,238.6 466.8,240.8 467.0,241.0 467.1,240.2 467.2,239.7 467.3,241.4 467.4,240.1 467.5,239.2 467.7,241.2 467.8,238.6 467.9,239.8 468.0,241.0 468.1,238.7 468.3,242.3 468.4,240.9 468.5,240.4 468.6,239.2 468.7,240.7 468.8,240.1 469.0,241.0 469.1,239.8 469.2,240.9 469.3,238.7 469.4,238.6 469.5,239.5 469.7,238.0 469.8,240.1 469.9,240.5 470.0,238.3 470.1,240.2 470.3,239.6 470.4,239.5 470.5,242.0 470.6,239.9 470.7,240.4 470.8,239.7 471.0,239.8 471.1,240.3 471.2,240.5 471.3,240.1 471.4,241.7 471.6,240.1 471.7,240.3 471.8,242.6 471.9,240.7 472.0,241.5 472.1,241.3 472.3,240.0 472.4,242.1 472.5,240.8 472.6,240.7 472.7,240.6 472.9,241.0 473.0,241.5 473.1,237.9 473.2,242.2 473.3,238.0 473.4,239.0 473.6,241.2 473.7,240.3 473.8,241.3 473.9,239.0 474.0,240.5 474.2,241.2 474.3,239.5 474.4,239.6 474.5,240.7 474.6,241.1 474.7,237.4 474.9,240.1 475.0,240.9 475.1,242.3 475.2,239.1 475.3,240.7 475.5,239.2 475.6,239.4 475.7,239.8 475.8,242.6 475.9,241.3 476.0,241.8 476.2,240.5 476.3,242.0 476.4,240.7 476.5,241.6 476.6,238.8 476.8,239.6 476.9,241.5 477.0,243.4 477.1,243.1 477.2,239.5 477.3,240.5 477.5,240.4 477.6,243.9 477.7,239.8 477.8,241.0 477.9,242.2 478.1,241.6 478.2,239.1 478.3,243.2 478.4,238.0 478.5,241.0 478.6,240.1 478.8,238.9 478.9,240.2 479.0,240.1 479.1,239.2 479.2,239.9 479.4,240.3 479.5,240.8 479.6,237.9 479.7,239.9 479.8,240.7 479.9,241.9 480.1,242.0 480.2,238.4 480.3,239.8 480.4,240.9 480.5,241.5 480.6,242.8 480.8,240.2 480.9,239.0 481.0,240.7 481.1,240.9 481.2,239.8 481.4,239.5 481.5,241.4 481.6,239.0 481.7,239.9 481.8,241.0 481.9,240.8 482.1,240.7 482.2,239.4 482.3,236.2 482.4,239.5 482.5,241.4 482.7,241.7 482.8,242.5 482.9,241.2 483.0,242.3 483.1,240.5 483.2,241.1 483.4,243.2 483.5,239.6 483.6,239.8 483.7,242.0 483.8,241.6 484.0,238.4 484.1,242.1 484.2,239.5 484.3,239.5 484.4,241.7 484.5,241.0 484.7,241.0 484.8,242.1 484.9,241.5 485.0,237.1 485.1,240.6 485.3,241.1 485.4,240.2 485.5,239.9 485.6,240.5 485.7,240.5 485.8,240.1 486.0,240.0 486.1,238.8 486.2,240.3 486.3,239.3 486.4,241.2 486.6,239.5 486.7,239.7 486.8,238.5 486.9,239.9 487.0,240.9 487.1,238.7 487.3,241.7 487.4,240.3 487.5,240.0 487.6,241.2 487.7,240.7 487.9,237.9 488.0,241.6 488.1,241.1 488.2,240.3 488.3,236.4 488.4,235.5 488.6,238.1 488.7,241.4 488.8,241.6 488.9,240.5 489.0,240.3 489.2,237.6 489.3,240.4 489.4,239.2 489.5,240.2 489.6,239.2 489.7,241.5 489.9,240.1 490.0,241.0 490.1,240.5 490.2,239.6 490.3,238.7 490.4,239.0 490.6,239.5 490.7,240.7 490.8,243.2 490.9,241.2 491.0,240.6 491.2,241.8 491.3,239.3 491.4,241.1 491.5,241.2 491.6,238.0 491.7,241.2 491.9,240.1 492.0,240.7 492.1,240.5 492.2,241.0 492.3,239.8 492.5,241.9 492.6,242.0 492.7,239.5 492.8,241.1 492.9,240.5 493.0,242.4 493.2,239.7 493.3,240.9 493.4,240.4 493.5,238.8 493.6,241.9 493.8,240.9 493.9,239.0 494.0,241.5 494.1,241.7 494.2,238.4 494.3,240.1 494.5,240.0 494.6,240.0 494.7,240.1 494.8,239.7 494.9,237.9 495.1,240.2 495.2,238.4 495.3,239.3 495.4,240.7 495.5,242.4 495.6,241.8 495.8,239.2 495.9,239.8 496.0,241.8 496.1,240.8 496.2,241.2 496.4,239.1 496.5,240.9 496.6,241.0 496.7,241.9 496.8,242.5 496.9,239.4 497.1,242.1 497.2,240.0 497.3,240.4 497.4,242.2 497.5,240.7 497.7,241.1 497.8,242.6 497.9,243.3 498.0,241.4 498.1,239.3 498.2,240.8 498.4,239.8 498.5,240.0 498.6,241.0 498.7,240.2 498.8,240.5 499.0,240.3 499.1,240.3 499.2,238.1 499.3,240.1 499.4,240.2 499.5,242.4 499.7,241.4 499.8,240.8 499.9,239.7 500.0,241.0 500.1,238.6 500.3,241.2 500.4,239.5 500.5,239.6 500.6,241.9 500.7,240.5 500.8,240.3 501.0,239.0 501.1,242.1 501.2,237.2 501.3,241.1 501.4,240.8 501.5,241.1 501.7,239.7 501.8,239.2 501.9,242.7 502.0,241.1 502.1,241.7 502.3,238.4 502.4,241.7 502.5,242.4 502.6,241.5 502.7,238.3 502.8,239.0 503.0,237.1 503.1,240.7 503.2,241.6 503.3,240.7 503.4,239.7 503.6,239.0 503.7,241.2 503.8,238.9 503.9,242.5 504.0,240.8 504.1,241.9 504.3,240.3 504.4,239.8 504.5,240.7 504.6,239.0 504.7,239.7 504.9,239.8 505.0,238.8 505.1,240.6 505.2,238.5 505.3,237.5 505.4,239.5 505.6,239.7 505.7,239.5 505.8,239.8 505.9,240.1 506.0,240.3 506.2,240.0 506.3,239.9 506.4,238.0 506.5,240.6 506.6,241.4 506.7,239.6 506.9,239.1 507.0,241.4 507.1,239.5 507.2,240.6 507.3,241.1 507.5,241.9 507.6,244.5 507.7,240.4 507.8,236.6 507.9,240.9 508.0,239.9 508.2,241.7 508.3,241.4 508.4,242.2 508.5,241.0 508.6,242.3 508.8,240.5 508.9,242.1 509.0,239.8 509.1,240.1 509.2,241.1 509.3,242.1 509.5,240.1 509.6,241.3 509.7,242.1 509.8,242.2 509.9,239.8 510.1,243.6 510.2,240.8 510.3,241.8 510.4,243.2 510.5,240.2 510.6,238.7 510.8,242.7 510.9,239.3 511.0,241.2 511.1,239.9 511.2,243.4 511.3,241.4 511.5,243.1 511.6,241.5 511.7,240.1 511.8,241.9 511.9,239.4 512.1,239.9 512.2,241.8 512.3,241.5 512.4,239.3 512.5,240.3 512.6,240.2 512.8,238.8 512.9,241.8 513.0,238.7 513.1,240.1 513.2,240.2 513.4,240.4 513.5,236.2 513.6,240.4 513.7,239.4 513.8,241.9 513.9,238.3 514.1,241.5 514.2,241.0 514.3,239.2 514.4,240.6 514.5,241.2 514.7,238.7 514.8,238.1 514.9,239.9 515.0,241.2 515.1,240.9 515.2,240.5 515.4,239.7 515.5,239.9 515.6,241.6 515.7,241.2 515.8,242.7 516.0,241.4 516.1,240.8 516.2,240.2 516.3,240.7 516.4,242.7 516.5,240.2 516.7,240.4 516.8,241.1 516.9,241.5 517.0,242.6 517.1,240.7 517.3,243.7 517.4,241.0 517.5,241.2 517.6,241.3 517.7,242.7 517.8,242.1 518.0,241.3 518.1,239.7 518.2,239.3 518.3,241.4 518.4,241.3 518.6,240.8 518.7,241.3 518.8,240.1 518.9,241.3 519.0,242.6 519.1,241.5 519.3,241.0 519.4,241.1 519.5,242.1 519.6,240.1 519.7,240.3 519.9,239.9 520.0,238.6 520.1,242.5 520.2,241.7 520.3,239.8 520.4,243.1 520.6,239.8 520.7,241.3 520.8,239.8 520.9,242.5 521.0,241.4 521.2,241.6 521.3,241.5 521.4,243.6 521.5,237.8 521.6,240.2 521.7,240.9 521.9,241.5 522.0,240.7 522.1,240.8 522.2,241.9 522.3,242.0 522.4,240.2 522.6,242.4 522.7,241.0 522.8,241.2 522.9,243.6 523.0,242.9 523.2,238.5 523.3,241.9 523.4,242.2 523.5,241.4 523.6,240.1 523.7,242.8 523.9,240.3 524.0,240.9 524.1,239.9 524.2,240.6 524.3,238.9 524.5,242.3 524.6,239.9 524.7,240.8 524.8,240.2 524.9,242.6 525.0,243.3 525.2,241.2 525.3,240.8 525.4,240.9 525.5,239.3 525.6,239.2 525.8,239.7 525.9,240.5 526.0,239.5 526.1,240.0 526.2,240.4 526.3,241.1 526.5,240.4 526.6,239.5 526.7,240.2"/>
<polyline fill="none" stroke="#000000" stroke-width="1.3" stroke-linejoin="round" points="54.5,209.2 54.6,216.0 54.7,200.3 54.9,210.0 55.0,197.6 55.1,198.4 55.2,195.4 55.3,198.3 55.4,196.4 55.6,210.8 55.7,199.7 55.8,197.9 55.9,198.2 56.0,205.5 56.2,195.8 56.3,197.8 56.4,205.0 56.5,198.3 56.6,198.6 56.7,198.4 56.9,199.1 57.0,203.6 57.1,200.6 57.2,197.5 57.3,198.5 57.5,203.8 57.6,204.8 57.7,198.2 57.8,198.3 57.9,202.0 58.0,196.3 58.2,198.0 58.3,201.6 58.4,200.5 58.5,198.9 58.6,200.6 58.8,186.3 58.9,201.5 59.0,195.5 59.1,193.3 59.2,198.7 59.3,200.2 59.5,202.7 59.6,194.7 59.7,197.9 59.8,197.6 59.9,201.3 60.0,199.9 60.2,198.1 60.3,200.8 60.4,196.8 60.5,194.5 60.6,200.1 60.8,198.9 60.9,196.4 61.0,192.2 61.1,197.6 61.2,189.3 61.3,205.3 61.5,198.0 61.6,191.5 61.7,196.5 61.8,193.3 61.9,198.3 62.1,189.8 62.2,193.1 62.3,197.8 62.4,199.1 62.5,189.0 62.6,193.9 62.8,196.2 62.9,193.3 63.0,199.8 63.1,191.2 63.2,195.7 63.4,191.3 63.5,198.5 63.6,194.0 63.7,196.8 63.8,188.5 63.9,198.6 64.1,195.6 64.2,201.9 64.3,206.1 64.4,193.8 64.5,190.7 64.7,190.0 64.8,189.8 64.9,199.2 65.0,187.4 65.1,200.1 65.2,190.5 65.4,191.9 65.5,192.8 65.6,187.1 65.7,185.5 65.8,190.5 66.0,203.9 66.1,192.4 66.2,190.6 66.3,188.8 66.4,190.5 66.5,188.7 66.7,191.7 66.8,186.6 66.9,189.2 67.0,188.2 67.1,189.9 67.3,188.7 67.4,197.4 67.5,192.0 67.6,191.7 67.7,180.9 67.8,185.7 68.0,184.6 68.1,187.8 68.2,179.1 68.3,189.2 68.4,193.3 68.6,181.3 68.7,179.0 68.8,182.2 68.9,184.5 69.0,186.1 69.1,194.6 69.3,183.0 69.4,194.5 69.5,183.6 69.6,188.1 69.7,184.8 69.9,186.4 70.0,178.8 70.1,181.3 70.2,179.1 70.3,185.9 70.4,183.1 70.6,180.0 70.7,179.3 70.8,181.9 70.9,178.1 71.0,177.1 71.1,181.1 71.3,186.9 71.4,178.5 71.5,177.3 71.6,175.2 71.7,174.5 71.9,179.9 72.0,180.6 72.1,184.4 72.2,178.6 72.3,180.8 72.4,177.5 72.6,172.2 72.7,175.0 72.8,176.3 72.9,168.0 73.0,173.7 73.2,172.2 73.3,173.3 73.4,176.4 73.5,172.2 73.6,172.6 73.7,175.1 73.9,174.2 74.0,176.9 74.1,167.5 74.2,173.6 74.3,169.1 74.5,170.6 74.6,178.3 74.7,172.8 74.8,172.4 74.9,169.4 75.0,173.5 75.2,169.2 75.3,167.7 75.4,170.2 75.5,176.3 75.6,177.2 75.8,170.0 75.9,173.2 76.0,166.3 76.1,165.0 76.2,170.4 76.3,167.8 76.5,163.5 76.6,166.1 76.7,168.1 76.8,169.3 76.9,162.2 77.1,169.8 77.2,162.0 77.3,161.1 77.4,161.8 77.5,160.4 77.6,165.1 77.8,172.1 77.9,159.8 78.0,165.7 78.1,168.7 78.2,164.6 78.4,164.4 78.5,163.0 78.6,166.1 78.7,166.0 78.8,158.5 78.9,165.7 79.1,163.7 79.2,171.7 79.3,163.5 79.4,161.2 79.5,163.5 79.7,162.0 79.8,168.3 79.9,163.7 80.0,163.2 80.1,163.0 80.2,161.1 80.4,168.8 80.5,159.6 80.6,163.0 80.7,159.9 80.8,172.9 80.9,167.3 81.1,157.7 81.2,164.0 81.3,163.2 81.4,166.8 81.5,161.9 81.7,162.2 81.8,158.3 81.9,162.9 82.0,163.2 82.1,164.0 82.2,160.0 82.4,163.3 82.5,166.0 82.6,163.4 82.7,169.2 82.8,163.6 83.0,154.0 83.1,169.1 83.2,164.5 83.3,166.4 83.4,159.7 83.5,163.7 83.7,170.8 83.8,163.4 83.9,164.3 84.0,165.5 84.1,163.9 84.3,170.8 84.4,162.4 84.5,166.3 84.6,164.5 84.7,165.9 84.8,160.5 85.0,169.4 85.1,163.7 85.2,164.2 85.3,161.3 85.4,162.0 85.6,174.4 85.7,167.1 85.8,167.1 85.9,166.8 86.0,166.4 86.1,164.3 86.3,166.8 86.4,166.1 86.5,168.3 86.6,166.5 86.7,168.2 86.9,165.0 87.0,163.3 87.1,175.2 87.2,170.1 87.3,164.6 87.4,164.1 87.6,164.0 87.7,168.7 87.8,159.0 87.9,165.6 88.0,168.1 88.2,162.1 88.3,169.0 88.4,166.1 88.5,160.8 88.6,165.1 88.7,159.9 88.9,160.0 89.0,170.0 89.1,161.8 89.2,170.0 89.3,164.3 89.5,167.5 89.6,164.6 89.7,157.8 89.8,162.8 89.9,165.1 90.0,161.0 90.2,155.2 90.3,165.6 90.4,162.6 90.5,163.1 90.6,162.5 90.8,167.1 90.9,163.1 91.0,167.3 91.1,169.1 91.2,170.0 91.3,161.1 91.5,160.6 91.6,164.4 91.7,167.2 91.8,165.3 91.9,166.2 92.0,163.2 92.2,165.4 92.3,163.1 92.4,163.6 92.5,160.7 92.6,159.8 92.8,163.1 92.9,161.2 93.0,165.3 93.1,166.6 93.2,164.3 93.3,173.3 93.5,167.4 93.6,162.7 93.7,166.9 93.8,173.6 93.9,162.6 94.1,164.9 94.2,162.4 94.3,153.8 94.4,167.2 94.5,162.8 94.6,169.8 94.8,163.1 94.9,161.6 95.0,169.9 95.1,164.7 95.2,166.0 95.4,169.8 95.5,165.9 95.6,165.4 95.7,166.0 95.8,168.3 95.9,163.4 96.1,167.7 96.2,169.7 96.3,173.0 96.4,165.1 96.5,163.4 96.7,168.5 96.8,165.1 96.9,167.5 97.0,166.9 97.1,170.0 97.2,164.6 97.4,166.4 97.5,166.9 97.6,164.1 97.7,171.5 97.8,164.9 98.0,164.9 98.1,163.4 98.2,168.9 98.3,167.8 98.4,163.7 98.5,169.4 98.7,168.2 98.8,169.8 98.9,165.7 99.0,176.9 99.1,174.0 99.3,167.4 99.4,165.9 99.5,167.2 99.6,170.6 99.7,165.9 99.8,181.3 100.0,169.8 100.1,172.3 100.2,170.7 100.3,170.2 100.4,162.7 100.6,169.3 100.7,170.8 100.8,169.0 100.9,170.2 101.0,167.2 101.1,167.5 101.3,165.8 101.4,172.8 101.5,169.2 101.6,167.3 101.7,168.6 101.8,168.4 102.0,173.2 102.1,174.0 102.2,166.8 102.3,173.3 102.4,173.4 102.6,172.1 102.7,171.5 102.8,172.7 102.9,161.6 103.0,171.6 103.1,167.0 103.3,173.8 103.4,170.3 103.5,175.5 103.6,162.4 103.7,171.6 103.9,173.5 104.0,168.5 104.1,171.0 104.2,171.9 104.3,171.4 104.4,168.1 104.6,169.3 104.7,172.9 104.8,173.7 104.9,170.2 105.0,170.2 105.2,170.6 105.3,173.1 105.4,166.9 105.5,166.1 105.6,170.5 105.7,166.9 105.9,168.5 106.0,170.5 106.1,173.1 106.2,167.1 106.3,172.8 106.5,165.1 106.6,172.1 106.7,169.5 106.8,166.7 106.9,172.5 107.0,169.4 107.2,166.3 107.3,169.4 107.4,172.2 107.5,170.7 107.6,170.8 107.8,174.1 107.9,168.8 108.0,169.6 108.1,169.5 108.2,174.6 108.3,174.1 108.5,175.1 108.6,171.1 108.7,170.8 108.8,172.1 108.9,170.2 109.1,173.9 109.2,175.5 109.3,169.4 109.4,171.3 109.5,171.2 109.6,176.8 109.8,179.4 109.9,171.4 110.0,171.8 110.1,164.9 110.2,172.4 110.4,171.8 110.5,168.5 110.6,174.3 110.7,165.8 110.8,172.9 110.9,173.3 111.1,168.3 111.2,174.6 111.3,175.3 111.4,168.0 111.5,168.0 111.7,178.2 111.8,172.2 111.9,168.6 112.0,171.4 112.1,172.0 112.2,171.9 112.4,174.8 112.5,173.5 112.6,177.7 112.7,176.5 112.8,174.4 112.9,175.6 113.1,176.4 113.2,174.5 113.3,168.7 113.4,175.0 113.5,172.6 113.7,182.2 113.8,172.7 113.9,174.0 114.0,173.5 114.1,177.5 114.2,173.0 114.4,171.7 114.5,173.5 114.6,171.2 114.7,177.2 114.8,172.6 115.0,173.4 115.1,178.4 115.2,171.4 115.3,172.8 115.4,172.1 115.5,174.7 115.7,169.2 115.8,170.7 115.9,172.6 116.0,174.4 116.1,172.7 116.3,167.3 116.4,170.2 116.5,174.4 116.6,177.2 116.7,173.9 116.8,173.5 117.0,174.3 117.1,170.1 117.2,172.0 117.3,172.2 117.4,173.9 117.6,172.9 117.7,169.4 117.8,176.5 117.9,178.2 118.0,172.3 118.1,174.4 118.3,180.0 118.4,175.6 118.5,168.8 118.6,178.1 118.7,171.9 118.9,177.2 119.0,169.9 119.1,172.3 119.2,173.1 119.3,176.2 119.4,173.2 119.6,172.5 119.7,182.5 119.8,168.5 119.9,177.6 120.0,175.5 120.2,173.8 120.3,177.3 120.4,171.0 120.5,173.7 120.6,179.2 120.7,176.8 120.9,167.4 121.0,164.1 121.1,171.0 121.2,184.5 121.3,178.4 121.5,173.6 121.6,176.1 121.7,171.7 121.8,175.0 121.9,176.7 122.0,175.8 122.2,175.6 122.3,177.5 122.4,176.0 122.5,173.2 122.6,178.4 122.7,182.2 122.9,172.3 123.0,168.0 123.1,173.3 123.2,175.7 123.3,177.8 123.5,182.7 123.6,172.3 123.7,173.9 123.8,178.4 123.9,171.4 124.0,177.9 124.2,174.0 124.3,176.9 124.4,177.4 124.5,179.3 124.6,177.0 124.8,171.6 124.9,175.4 125.0,174.5 125.1,175.3 125.2,178.1 125.3,173.5 125.5,172.2 125.6,172.1 125.7,173.3 125.8,176.4 125.9,171.7 126.1,182.8 126.2,174.9 126.3,173.3 126.4,170.0 126.5,174.7 126.6,180.5 126.8,168.6 126.9,177.4 127.0,178.7 127.1,171.2 127.2,175.2 127.4,180.9 127.5,177.3 127.6,170.9 127.7,173.5 127.8,174.1 127.9,173.1 128.1,168.5 128.2,175.7 128.3,171.5 128.4,173.9 128.5,176.2 128.7,178.5 128.8,172.4 128.9,168.6 129.0,174.9 129.1,177.5 129.2,172.3 129.4,177.4 129.5,172.8 129.6,167.7 129.7,177.8 129.8,170.7 130.0,176.2 130.1,170.5 130.2,174.5 130.3,169.5 130.4,170.6 130.5,176.3 130.7,173.7 130.8,173.2 130.9,182.1 131.0,174.5 131.1,168.9 131.3,169.8 131.4,172.6 131.5,170.6 131.6,171.0 131.7,172.9 131.8,172.7 132.0,172.5 132.1,178.1 132.2,176.2 132.3,176.8 132.4,173.1 132.6,171.6 132.7,168.8 132.8,172.1 132.9,166.9 133.0,171.4 133.1,175.5 133.3,184.9 133.4,181.2 133.5,170.6 133.6,174.7 133.7,174.8 133.8,176.7 134.0,180.0 134.1,175.8 134.2,181.0 134.3,177.6 134.4,180.3 134.6,173.8 134.7,177.2 134.8,185.5 134.9,178.5 135.0,171.6 135.1,173.5 135.3,169.0 135.4,172.7 135.5,169.7 135.6,173.0 135.7,171.5 135.9,178.2 136.0,174.3 136.1,175.6 136.2,174.9 136.3,173.9 136.4,169.3 136.6,178.4 136.7,172.9 136.8,172.6 136.9,175.2 137.0,166.5 137.2,172.7 137.3,172.5 137.4,174.0 137.5,176.8 137.6,174.2 137.7,167.3 137.9,171.6 138.0,173.3 138.1,173.1 138.2,168.9 138.3,167.5 138.5,174.1 138.6,173.5 138.7,172.4 138.8,167.4 138.9,177.5 139.0,164.0 139.2,171.3 139.3,178.3 139.4,171.8 139.5,172.9 139.6,168.8 139.8,176.0 139.9,168.4 140.0,172.8 140.1,172.4 140.2,169.0 140.3,174.5 140.5,175.1 140.6,175.6 140.7,174.9 140.8,170.6 140.9,173.1 141.1,174.3 141.2,170.9 141.3,170.2 141.4,173.8 141.5,170.6 141.6,173.8 141.8,167.1 141.9,173.0 142.0,171.2 142.1,169.2 142.2,173.8 142.4,168.6 142.5,171.4 142.6,175.4 142.7,168.4 142.8,171.2 142.9,167.0 143.1,169.9 143.2,167.3 143.3,170.3 143.4,169.8 143.5,171.6 143.7,175.4 143.8,171.9 143.9,172.9 144.0,171.0 144.1,170.5 144.2,168.9 144.4,166.4 144.5,171.3 144.6,173.1 144.7,172.3 144.8,169.7 144.9,175.3 145.1,175.2 145.2,169.3 145.3,167.7 145.4,169.2 145.5,170.0 145.7,166.3 145.8,170.0 145.9,167.7 146.0,164.9 146.1,169.7 146.2,165.7 146.4,170.4 146.5,171.8 146.6,170.8 146.7,171.4 146.8,166.4 147.0,165.3 147.1,166.1 147.2,172.4 147.3,165.4 147.4,168.7 147.5,169.4 147.7,170.6 147.8,169.7 147.9,169.4 148.0,169.9 148.1,169.3 148.3,168.7 148.4,163.9 148.5,160.9 148.6,166.5 148.7,164.3 148.8,169.1 149.0,170.2 149.1,169.0 149.2,167.4 149.3,168.6 149.4,171.4 149.6,168.5 149.7,170.8 149.8,170.3 149.9,169.1 150.0,172.2 150.1,166.6 150.3,173.3 150.4,166.1 150.5,168.7 150.6,159.5 150.7,169.7 150.9,166.1 151.0,174.3 151.1,165.6 151.2,171.4 151.3,173.4 151.4,169.2 151.6,172.9 151.7,170.1 151.8,174.3 151.9,168.9 152.0,164.6 152.2,172.9 152.3,168.4 152.4,170.6 152.5,167.0 152.6,171.8 152.7,168.3 152.9,165.9 153.0,172.6 153.1,170.4 153.2,164.4 153.3,164.8 153.5,167.2 153.6,163.7 153.7,173.6 153.8,168.6 153.9,166.7 154.0,167.3 154.2,170.2 154.3,172.8 154.4,173.2 154.5,169.6 154.6,172.0 154.7,173.5 154.9,171.2 155.0,170.5 155.1,172.4 155.2,172.8 155.3,168.4 155.5,171.1 155.6,174.0 155.7,167.8 155.8,170.3 155.9,172.3 156.0,180.5 156.2,166.9 156.3,172.8 156.4,172.0 156.5,176.5 156.6,174.5 156.8,169.9 156.9,164.8 157.0,173.9 157.1,176.8 157.2,174.1 157.3,175.9 157.5,172.4 157.6,170.1 157.7,175.5 157.8,173.8 157.9,171.5 158.1,166.5 158.2,174.0 158.3,171.9 158.4,175.6 158.5,173.3 158.6,171.9 158.8,171.9 158.9,178.2 159.0,173.5 159.1,171.4 159.2,170.7 159.4,170.7 159.5,177.2 159.6,168.7 159.7,171.2 159.8,175.0 159.9,184.9 160.1,173.0 160.2,175.4 160.3,175.3 160.4,175.9 160.5,173.5 160.7,177.7 160.8,174.0 160.9,177.4 161.0,169.4 161.1,175.9 161.2,170.2 161.4,169.6 161.5,174.8 161.6,171.4 161.7,174.4 161.8,170.8 162.0,177.8 162.1,173.6 162.2,170.6 162.3,173.9 162.4,175.6 162.5,171.2 162.7,174.4 162.8,178.3 162.9,175.2 163.0,177.6 163.1,171.2 163.3,174.1 163.4,165.1 163.5,164.5 163.6,170.6 163.7,177.4 163.8,176.7 164.0,172.4 164.1,169.4 164.2,168.8 164.3,169.2 164.4,169.5 164.6,170.1 164.7,171.3 164.8,166.6 164.9,171.6 165.0,171.5 165.1,174.5 165.3,175.4 165.4,166.6 165.5,177.5 165.6,171.0 165.7,181.8 165.8,168.6 166.0,171.2 166.1,170.8 166.2,170.4 166.3,172.2 166.4,171.6 166.6,167.2 166.7,169.4 166.8,173.8 166.9,171.2 167.0,168.5 167.1,177.1 167.3,169.0 167.4,166.5 167.5,166.0 167.6,173.5 167.7,168.3 167.9,169.6 168.0,167.4 168.1,174.7 168.2,173.9 168.3,168.8 168.4,170.7 168.6,167.4 168.7,173.9 168.8,171.7 168.9,167.1 169.0,172.5 169.2,170.2 169.3,170.3 169.4,170.1 169.5,170.0 169.6,166.6 169.7,169.3 169.9,168.9 170.0,166.6 170.1,174.3 170.2,168.4 170.3,171.6 170.5,167.1 170.6,170.7 170.7,171.4 170.8,169.4 170.9,171.0 171.0,164.8 171.2,167.7 171.3,167.4 171.4,168.6 171.5,169.8 171.6,163.2 171.8,176.6 171.9,166.2 172.0,169.3 172.1,170.7 172.2,171.0 172.3,169.6 172.5,161.6 172.6,166.6 172.7,171.6 172.8,167.4 172.9,167.3 173.1,164.1 173.2,173.6 173.3,172.0 173.4,180.1 173.5,170.7 173.6,171.0 173.8,164.5 173.9,171.0 174.0,172.6 174.1,177.4 174.2,175.7 174.4,176.0 174.5,171.6 174.6,171.7 174.7,171.6 174.8,170.2 174.9,176.7 175.1,172.8 175.2,174.1 175.3,175.5 175.4,170.9 175.5,175.4 175.6,174.9 175.8,173.5 175.9,174.7 176.0,171.7 176.1,167.9 176.2,172.9 176.4,171.3 176.5,175.9 176.6,174.4 176.7,172.3 176.8,173.8 176.9,176.5 177.1,176.6 177.2,174.7 177.3,174.8 177.4,173.0 177.5,177.0 177.7,175.3 177.8,177.0 177.9,171.4 178.0,175.2 178.1,169.5 178.2,169.4 178.4,180.7 178.5,177.4 178.6,177.0 178.7,171.4 178.8,170.0 179.0,176.2 179.1,175.3 179.2,170.5 179.3,176.9 179.4,174.9 179.5,177.7 179.7,175.1 179.8,176.6 179.9,175.2 180.0,168.6 180.1,173.7 180.3,180.2 180.4,176.3 180.5,171.4 180.6,174.0 180.7,175.7 180.8,175.9 181.0,177.5 181.1,176.5 181.2,169.6 181.3,171.7 181.4,174.3 181.6,173.2 181.7,167.6 181.8,173.1 181.9,173.8 182.0,170.5 182.1,173.2 182.3,175.9 182.4,172.8 182.5,175.4 182.6,175.1 182.7,173.5 182.9,173.3 183.0,171.3 183.1,175.4 183.2,170.8 183.3,170.1 183.4,173.7 183.6,169.8 183.7,172.7 183.8,174.2 183.9,171.6 184.0,171.5 184.2,173.5 184.3,173.0 184.4,166.9 184.5,167.4 184.6,174.1 184.7,171.6 184.9,176.2 185.0,166.8 185.1,176.4 185.2,167.7 185.3,171.5 185.5,170.4 185.6,173.2 185.7,167.2 185.8,171.8 185.9,175.3 186.0,167.7 186.2,173.5 186.3,172.6 186.4,174.2 186.5,169.9 186.6,167.0 186.7,167.7 186.9,171.9 187.0,172.5 187.1,173.1 187.2,172.4 187.3,172.2 187.5,168.7 187.6,166.6 187.7,170.3 187.8,165.2 187.9,169.9 188.0,165.7 188.2,164.5 188.3,165.7 188.4,169.9 188.5,166.8 188.6,169.0 188.8,170.3 188.9,169.8 189.0,173.0 189.1,166.5 189.2,163.7 189.3,171.8 189.5,172.9 189.6,173.0 189.7,170.0 189.8,170.6 189.9,169.5 190.1,165.9 190.2,167.8 190.3,184.3 190.4,167.7 190.5,174.5 190.6,165.6 190.8,168.6 190.9,172.7 191.0,168.3 191.1,167.0 191.2,166.5 191.4,168.2 191.5,174.2 191.6,171.4 191.7,171.8 191.8,169.2 191.9,180.5 192.1,171.0 192.2,168.4 192.3,174.5 192.4,175.6 192.5,176.6 192.7,171.5 192.8,172.6 192.9,183.2 193.0,169.4 193.1,168.4 193.2,174.3 193.4,173.0 193.5,173.5 193.6,172.8 193.7,171.3 193.8,173.6 194.0,171.5 194.1,175.7 194.2,169.6 194.3,170.6 194.4,173.2 194.5,171.8 194.7,175.0 194.8,173.2 194.9,172.0 195.0,174.1 195.1,172.3 195.3,169.7 195.4,168.5 195.5,176.4 195.6,172.9 195.7,174.5 195.8,175.7 196.0,176.0 196.1,185.4 196.2,178.0 196.3,174.2 196.4,179.0 196.5,177.8 196.7,173.6 196.8,175.6 196.9,177.7 197.0,175.5 197.1,177.5 197.3,176.0 197.4,175.5 197.5,174.2 197.6,176.0 197.7,181.9 197.8,181.2 198.0,165.4 198.1,176.0 198.2,178.5 198.3,176.8 198.4,182.4 198.6,176.7 198.7,173.1 198.8,173.2 198.9,174.4 199.0,175.0 199.1,177.9 199.3,173.1 199.4,178.1 199.5,171.4 199.6,173.4 199.7,175.4 199.9,178.5 200.0,173.9 200.1,169.9 200.2,176.6 200.3,175.4 200.4,172.7 200.6,172.8 200.7,175.5 200.8,175.8 200.9,177.2 201.0,171.6 201.2,181.4 201.3,175.3 201.4,174.4 201.5,177.1 201.6,175.7 201.7,182.4 201.9,178.2 202.0,174.3 202.1,174.1 202.2,173.7 202.3,181.4 202.5,176.4 202.6,172.9 202.7,178.6 202.8,174.0 202.9,173.7 203.0,176.4 203.2,166.8 203.3,171.1 203.4,175.0 203.5,173.3 203.6,173.0 203.8,173.9 203.9,171.2 204.0,175.4 204.1,168.9 204.2,176.8 204.3,175.4 204.5,164.7 204.6,169.9 204.7,175.2 204.8,174.2 204.9,169.9 205.1,169.7 205.2,170.7 205.3,168.3 205.4,179.7 205.5,170.8 205.6,170.6 205.8,172.1 205.9,171.9 206.0,174.7 206.1,172.1 206.2,165.1 206.4,171.8 206.5,166.4 206.6,165.5 206.7,170.9 206.8,167.1 206.9,168.0 207.1,171.4 207.2,166.8 207.3,166.1 207.4,169.1 207.5,171.4 207.6,169.4 207.8,166.6 207.9,166.2 208.0,173.8 208.1,172.8 208.2,170.1 208.4,173.4 208.5,170.9 208.6,165.1 208.7,169.1 208.8,173.4 208.9,165.3 209.1,167.8 209.2,169.4 209.3,165.1 209.4,170.1 209.5,169.9 209.7,170.7 209.8,166.0 209.9,168.3 210.0,171.9 210.1,170.2 210.2,166.1 210.4,168.7 210.5,171.9 210.6,168.0 210.7,169.2 210.8,174.9 211.0,168.7 211.1,168.0 211.2,165.7 211.3,166.6 211.4,170.7 211.5,174.7 211.7,165.3 211.8,165.9 211.9,168.4 212.0,170.4 212.1,166.5 212.3,172.9 212.4,167.1 212.5,169.3 212.6,169.8 212.7,170.0 212.8,167.9 213.0,171.5 213.1,169.9 213.2,165.3 213.3,171.4 213.4,170.3 213.6,171.8 213.7,169.1 213.8,168.9 213.9,169.9 214.0,167.8 214.1,169.3 214.3,171.0 214.4,170.8 214.5,167.5 214.6,177.5 214.7,165.0 214.9,172.7 215.0,169.4 215.1,171.5 215.2,168.2 215.3,170.9 215.4,172.4 215.6,174.0 215.7,168.0 215.8,173.9 215.9,171.4 216.0,170.0 216.2,168.6 216.3,171.5 216.4,175.8 216.5,170.7 216.6,173.3 216.7,172.9 216.9,172.5 217.0,170.7 217.1,171.8 217.2,176.0 217.3,176.5 217.4,173.1 217.6,176.9 217.7,173.2 217.8,170.4 217.9,174.9 218.0,167.1 218.2,182.1 218.3,176.2 218.4,172.6 218.5,173.2 218.6,179.9 218.7,174.1 218.9,174.2 219.0,175.6 219.1,173.4 219.2,173.4 219.3,174.7 219.5,167.6 219.6,177.5 219.7,169.6 219.8,171.1 219.9,175.4 220.0,174.1 220.2,170.8 220.3,174.7 220.4,171.2 220.5,172.4 220.6,170.4 220.8,172.2 220.9,175.5 221.0,174.8 221.1,175.3 221.2,177.0 221.3,171.4 221.5,173.0 221.6,174.0 221.7,179.1 221.8,175.0 221.9,184.8 222.1,174.7 222.2,175.7 222.3,176.2 222.4,175.1 222.5,174.8 222.6,173.2 222.8,173.1 222.9,176.4 223.0,177.3 223.1,177.7 223.2,175.4 223.4,173.0 223.5,176.7 223.6,176.6 223.7,171.0 223.8,176.9 223.9,176.3 224.1,179.0 224.2,171.7 224.3,171.2 224.4,176.4 224.5,169.1 224.7,175.0 224.8,171.3 224.9,164.3 225.0,168.9 225.1,173.1 225.2,176.2 225.4,174.7 225.5,174.6 225.6,172.4 225.7,176.9 225.8,174.4 226.0,175.7 226.1,168.8 226.2,173.6 226.3,169.6 226.4,173.3 226.5,172.8 226.7,169.2 226.8,172.5 226.9,174.9 227.0,173.0 227.1,169.4 227.3,169.2 227.4,169.6 227.5,168.3 227.6,171.4 227.7,174.0 227.8,171.9 228.0,170.6 228.1,166.4 228.2,171.6 228.3,169.7 228.4,165.3 228.5,165.6 228.7,169.1 228.8,164.5 228.9,174.0 229.0,169.7 229.1,169.2 229.3,168.2 229.4,173.4 229.5,166.8 229.6,171.1 229.7,161.2 229.8,172.7 230.0,170.2 230.1,167.6 230.2,169.9 230.3,168.6 230.4,170.9 230.6,168.1 230.7,173.0 230.8,167.8 230.9,169.1 231.0,170.5 231.1,168.1 231.3,167.7 231.4,168.0 231.5,169.8 231.6,166.0 231.7,165.1 231.9,170.1 232.0,166.4 232.1,165.3 232.2,169.9 232.3,168.9 232.4,159.9 232.6,165.7 232.7,168.7 232.8,168.7 232.9,165.1 233.0,170.5 233.2,164.4 233.3,165.9 233.4,166.8 233.5,166.5 233.6,168.6 233.7,169.2 233.9,166.4 234.0,170.2 234.1,164.8 234.2,166.0 234.3,181.0 234.5,166.9 234.6,169.4 234.7,165.6 234.8,166.0 234.9,166.4 235.0,167.2 235.2,165.9 235.3,169.2 235.4,168.5 235.5,169.9 235.6,167.1 235.8,168.5 235.9,169.2 236.0,164.0 236.1,172.3 236.2,171.0 236.3,170.3 236.5,171.2 236.6,167.8 236.7,164.5 236.8,163.3 236.9,167.7 237.1,165.2 237.2,169.3 237.3,165.2 237.4,167.7 237.5,171.9 237.6,171.8 237.8,166.2 237.9,169.7 238.0,164.2 238.1,165.4 238.2,167.8 238.3,170.5 238.5,165.4 238.6,168.3 238.7,167.1 238.8,169.9 238.9,166.5 239.1,170.7 239.2,166.5 239.3,168.0 239.4,168.9 239.5,164.8 239.6,169.9 239.8,170.5 239.9,170.7 240.0,170.0 240.1,165.7 240.2,165.7 240.4,165.5 240.5,165.5 240.6,166.1 240.7,171.0 240.8,172.5 240.9,172.4 241.1,183.3 241.2,168.8 241.3,169.1 241.4,167.7 241.5,166.4 241.7,175.5 241.8,171.4 241.9,178.0 242.0,170.4 242.1,169.2 242.2,171.4 242.4,170.1 242.5,172.3 242.6,168.5 242.7,172.1 242.8,172.8 243.0,174.7 243.1,169.9 243.2,171.9 243.3,168.9 243.4,166.6 243.5,171.3 243.7,174.9 243.8,172.9 243.9,164.6 244.0,169.2 244.1,170.3 244.3,168.4 244.4,171.6 244.5,171.2 244.6,169.7 244.7,171.7 244.8,166.9 245.0,171.3 245.1,168.7 245.2,173.3 245.3,166.7 245.4,170.4 245.6,182.2 245.7,170.8 245.8,173.0 245.9,169.2 246.0,170.4 246.1,173.2 246.3,179.8 246.4,172.8 246.5,174.6 246.6,170.9 246.7,171.1 246.9,175.0 247.0,172.4 247.1,174.6 247.2,172.7 247.3,176.4 247.4,177.1 247.6,168.8 247.7,175.8 247.8,177.3 247.9,172.2 248.0,170.7 248.2,171.8 248.3,168.2 248.4,169.2 248.5,169.1 248.6,171.9 248.7,173.5 248.9,173.1 249.0,172.2 249.1,169.7 249.2,166.7 249.3,172.3 249.4,171.7 249.6,172.3 249.7,175.1 249.8,175.6 249.9,170.9 250.0,165.5 250.2,173.0 250.3,171.4 250.4,169.7 250.5,172.7 250.6,169.0 250.7,170.3 250.9,180.3 251.0,173.8 251.1,174.1 251.2,176.1 251.3,166.3 251.5,171.7 251.6,177.0 251.7,170.7 251.8,178.8 251.9,169.9 252.0,169.4 252.2,180.8 252.3,165.0 252.4,182.9 252.5,173.6 252.6,168.4 252.8,169.3 252.9,170.8 253.0,166.4 253.1,173.4 253.2,170.2 253.3,173.5 253.5,161.1 253.6,172.1 253.7,171.5 253.8,172.0 253.9,165.0 254.1,168.5 254.2,167.8 254.3,168.2 254.4,173.1 254.5,173.6 254.6,177.9 254.8,166.7 254.9,170.1 255.0,171.3 255.1,169.3 255.2,169.4 255.4,169.2 255.5,169.2 255.6,168.6 255.7,172.1 255.8,167.2 255.9,168.2 256.1,170.2 256.2,164.5 256.3,167.7 256.4,163.7 256.5,166.5 256.7,164.5 256.8,165.8 256.9,166.9 257.0,167.5 257.1,167.6 257.2,171.4 257.4,172.3 257.5,167.5 257.6,165.3 257.7,176.6 257.8,170.4 258.0,165.6 258.1,165.9 258.2,167.0 258.3,169.6 258.4,166.2 258.5,169.3 258.7,169.1 258.8,167.8 258.9,171.4 259.0,168.2 259.1,165.1 259.2,168.9 259.4,168.8 259.5,168.0 259.6,168.7 259.7,174.2 259.8,168.6 260.0,169.2 260.1,167.4 260.2,179.6 260.3,173.8 260.4,165.9 260.5,166.4 260.7,176.0 260.8,169.8 260.9,163.7 261.0,166.0 261.1,169.5 261.3,170.5 261.4,164.4 261.5,166.7 261.6,169.9 261.7,166.4 261.8,166.6 262.0,165.5 262.1,168.6 262.2,168.2 262.3,169.1 262.4,164.9 262.6,169.1 262.7,171.9 262.8,169.8 262.9,175.2 263.0,165.4 263.1,173.5 263.3,168.2 263.4,175.3 263.5,164.3 263.6,169.0 263.7,168.8 263.9,170.3 264.0,170.3 264.1,170.1 264.2,168.4 264.3,174.1 264.4,174.9 264.6,171.9 264.7,176.3 264.8,170.7 264.9,170.9 265.0,170.8 265.2,175.3 265.3,169.7 265.4,170.1 265.5,177.0 265.6,178.2 265.7,177.2 265.9,169.8 266.0,173.7 266.1,175.9 266.2,174.0 266.3,169.5 266.5,172.8 266.6,169.3 266.7,170.5 266.8,179.3 266.9,175.4 267.0,169.9 267.2,169.8 267.3,174.8 267.4,165.2 267.5,182.3 267.6,165.5 267.8,173.1 267.9,174.2 268.0,170.9 268.1,168.6 268.2,177.1 268.3,172.0 268.5,173.0 268.6,170.4 268.7,173.4 268.8,174.9 268.9,171.2 269.1,177.1 269.2,178.7 269.3,174.4 269.4,174.0 269.5,179.2 269.6,179.8 269.8,173.9 269.9,173.0 270.0,171.5 270.1,170.3 270.2,175.1 270.3,176.4 270.5,170.5 270.6,173.1 270.7,173.8 270.8,179.7 270.9,171.2 271.1,172.1 271.2,168.0 271.3,172.9 271.4,172.3 271.5,178.5 271.6,175.4 271.8,172.1 271.9,172.9 272.0,173.6 272.1,177.1 272.2,169.3 272.4,172.5 272.5,169.0 272.6,171.9 272.7,172.3 272.8,173.0 272.9,177.2 273.1,167.6 273.2,171.6 273.3,172.6 273.4,172.2 273.5,175.0 273.7,166.5 273.8,167.8 273.9,173.7 274.0,169.2 274.1,167.4 274.2,165.9 274.4,170.3 274.5,164.3 274.6,165.1 274.7,169.9 274.8,173.9 275.0,167.5 275.1,169.5 275.2,162.9 275.3,162.7 275.4,162.2 275.5,164.0 275.7,168.4 275.8,165.6 275.9,163.1 276.0,163.0 276.1,169.7 276.3,168.2 276.4,159.8 276.5,165.8 276.6,161.6 276.7,162.3 276.8,161.2 277.0,177.0 277.1,164.9 277.2,172.2 277.3,162.4 277.4,162.3 277.6,166.7 277.7,166.6 277.8,164.4 277.9,159.9 278.0,168.9 278.1,166.7 278.3,170.3 278.4,163.7 278.5,166.9 278.6,163.8 278.7,165.3 278.9,164.7 279.0,168.5 279.1,164.0 279.2,164.3 279.3,172.1 279.4,165.8 279.6,168.4 279.7,164.6 279.8,170.0 279.9,170.5 280.0,166.5 280.1,170.5 280.3,169.2 280.4,163.2 280.5,161.0 280.6,165.6 280.7,162.0 280.9,161.0 281.0,163.2 281.1,162.3 281.2,167.4 281.3,156.0 281.4,169.2 281.6,163.2 281.7,165.4 281.8,166.8 281.9,165.7 282.0,166.9 282.2,162.5 282.3,166.8 282.4,164.5 282.5,160.7 282.6,163.5 282.7,167.5 282.9,164.5 283.0,163.5 283.1,162.0 283.2,164.2 283.3,164.5 283.5,160.9 283.6,161.2 283.7,162.2 283.8,165.5 283.9,163.8 284.0,167.5 284.2,167.2 284.3,164.9 284.4,164.6 284.5,166.1 284.6,168.5 284.8,174.7 284.9,165.3 285.0,165.8 285.1,165.0 285.2,161.4 285.3,167.4 285.5,163.4 285.6,170.2 285.7,165.7 285.8,167.1 285.9,164.9 286.1,168.1 286.2,170.5 286.3,173.2 286.4,165.9 286.5,168.4 286.6,180.1 286.8,175.4 286.9,170.6 287.0,172.4 287.1,164.1 287.2,175.3 287.4,171.5 287.5,173.8 287.6,174.2 287.7,169.5 287.8,168.5 287.9,172.6 288.1,172.3 288.2,170.1 288.3,171.1 288.4,167.9 288.5,167.6 288.7,173.8 288.8,174.9 288.9,172.6 289.0,172.5 289.1,170.5 289.2,171.2 289.4,169.2 289.5,176.2 289.6,170.2 289.7,172.8 289.8,171.7 290.0,168.1 290.1,176.8 290.2,170.9 290.3,169.9 290.4,172.2 290.5,169.6 290.7,183.2 290.8,169.5 290.9,173.5 291.0,172.2 291.1,168.5 291.2,174.8 291.4,173.0 291.5,165.7 291.6,177.7 291.7,175.1 291.8,177.1 292.0,170.0 292.1,174.5 292.2,172.1 292.3,180.5 292.4,171.7 292.5,172.3 292.7,173.7 292.8,169.4 292.9,169.2 293.0,173.7 293.1,171.0 293.3,172.1 293.4,173.3 293.5,170.8 293.6,174.2 293.7,170.7 293.8,173.3 294.0,176.4 294.1,171.5 294.2,169.5 294.3,169.7 294.4,168.2 294.6,167.2 294.7,167.1 294.8,170.4 294.9,166.9 295.0,178.4 295.1,172.9 295.3,173.4 295.4,167.9 295.5,173.5 295.6,169.5 295.7,176.8 295.9,177.9 296.0,169.3 296.1,170.1 296.2,168.5 296.3,167.3 296.4,168.7 296.6,164.7 296.7,171.2 296.8,169.0 296.9,173.0 297.0,171.8 297.2,175.2 297.3,167.4 297.4,169.5 297.5,168.1 297.6,165.4 297.7,170.6 297.9,167.9 298.0,165.4 298.1,173.0 298.2,164.7 298.3,168.0 298.5,166.2 298.6,168.3 298.7,169.5 298.8,165.9 298.9,167.7 299.0,167.6 299.2,165.3 299.3,171.0 299.4,168.4 299.5,167.2 299.6,166.2 299.8,167.0 299.9,168.2 300.0,166.6 300.1,172.6 300.2,168.2 300.3,162.2 300.5,167.1 300.6,168.3 300.7,167.5 300.8,168.9 300.9,172.6 301.1,168.7 301.2,171.1 301.3,176.4 301.4,170.9 301.5,169.0 301.6,170.3 301.8,168.8 301.9,166.0 302.0,164.2 302.1,169.1 302.2,168.7 302.3,161.2 302.5,169.9 302.6,171.2 302.7,167.3 302.8,167.2 302.9,165.3 303.1,167.3 303.2,161.3 303.3,167.9 303.4,168.4 303.5,162.4 303.6,169.4 303.8,166.8 303.9,167.6 304.0,163.3 304.1,174.8 304.2,176.2 304.4,164.9 304.5,164.5 304.6,169.0 304.7,170.2 304.8,168.0 304.9,169.6 305.1,165.5 305.2,167.4 305.3,177.4 305.4,162.3 305.5,174.3 305.7,168.1 305.8,165.5 305.9,169.2 306.0,164.2 306.1,170.6 306.2,169.1 306.4,165.8 306.5,165.1 306.6,164.7 306.7,167.5 306.8,165.4 307.0,174.3 307.1,168.9 307.2,166.7 307.3,163.6 307.4,173.8 307.5,165.6 307.7,168.7 307.8,168.0 307.9,168.0 308.0,166.4 308.1,172.5 308.3,171.0 308.4,164.0 308.5,166.0 308.6,161.1 308.7,169.6 308.8,169.9 309.0,172.5 309.1,173.4 309.2,172.1 309.3,169.2 309.4,170.9 309.6,170.2 309.7,163.4 309.8,170.3 309.9,169.6 310.0,171.9 310.1,168.3 310.3,167.8 310.4,167.1 310.5,167.5 310.6,166.5 310.7,167.6 310.9,169.9 311.0,169.8 311.1,172.0 311.2,171.5 311.3,170.3 311.4,165.7 311.6,170.2 311.7,171.7 311.8,165.3 311.9,165.8 312.0,166.2 312.1,166.0 312.3,177.6 312.4,166.3 312.5,168.6 312.6,165.5 312.7,168.3 312.9,167.3 313.0,166.1 313.1,171.3 313.2,168.7 313.3,170.0 313.4,175.8 313.6,170.4 313.7,170.1 313.8,168.1 313.9,163.8 314.0,173.4 314.2,170.3 314.3,169.0 314.4,169.2 314.5,169.0 314.6,169.2 314.7,166.1 314.9,168.7 315.0,169.7 315.1,167.3 315.2,162.2 315.3,173.8 315.5,170.6 315.6,168.2 315.7,167.8 315.8,169.3 315.9,165.4 316.0,168.5 316.2,177.3 316.3,163.9 316.4,167.4 316.5,174.3 316.6,171.1 316.8,170.4 316.9,172.5 317.0,178.4 317.1,182.5 317.2,181.7 317.3,171.7 317.5,166.7 317.6,173.5 317.7,165.0 317.8,167.8 317.9,177.6 318.1,168.3 318.2,171.3 318.3,166.9 318.4,168.7 318.5,167.6 318.6,168.4 318.8,171.1 318.9,173.9 319.0,171.5 319.1,176.2 319.2,167.9 319.4,173.0 319.5,169.1 319.6,172.7 319.7,168.0 319.8,168.4 319.9,172.6 320.1,170.6 320.2,169.3 320.3,167.2 320.4,168.7 320.5,170.2 320.7,174.1 320.8,167.5 320.9,168.0 321.0,172.4 321.1,166.0 321.2,166.3 321.4,172.6 321.5,168.5 321.6,166.6 321.7,163.5 321.8,166.1 322.0,167.3 322.1,166.0 322.2,169.8 322.3,169.2 322.4,171.3 322.5,163.6 322.7,172.6 322.8,168.2 322.9,170.5 323.0,167.3 323.1,168.9 323.2,170.7 323.4,178.8 323.5,171.2 323.6,161.9 323.7,173.8 323.8,163.6 324.0,167.0 324.1,174.8 324.2,167.7 324.3,167.1 324.4,163.6 324.5,171.3 324.7,163.2 324.8,174.8 324.9,168.5 325.0,170.2 325.1,171.6 325.3,166.0 325.4,165.6 325.5,166.8 325.6,163.1 325.7,169.7 325.8,166.5 326.0,167.8 326.1,164.4 326.2,167.3 326.3,165.6 326.4,167.0 326.6,164.3 326.7,169.7 326.8,165.3 326.9,160.3 327.0,168.5 327.1,166.0 327.3,164.4 327.4,173.2 327.5,170.4 327.6,163.0 327.7,164.8 327.9,167.4 328.0,165.7 328.1,169.5 328.2,169.1 328.3,164.3 328.4,169.1 328.6,168.0 328.7,164.0 328.8,167.2 328.9,168.7 329.0,167.6 329.2,158.7 329.3,165.0 329.4,168.9 329.5,166.1 329.6,157.7 329.7,169.9 329.9,169.0 330.0,163.6 330.1,162.0 330.2,160.5 330.3,163.7 330.5,168.0 330.6,162.9 330.7,164.1 330.8,173.6 330.9,167.5 331.0,166.4 331.2,166.9 331.3,164.4 331.4,167.0 331.5,165.6 331.6,172.6 331.8,167.2 331.9,165.2 332.0,165.9 332.1,166.2 332.2,162.4 332.3,163.9 332.5,169.9 332.6,162.3 332.7,164.4 332.8,168.6 332.9,169.8 333.0,163.2 333.2,169.6 333.3,166.8 333.4,170.1 333.5,167.1 333.6,171.3 333.8,167.6 333.9,167.2 334.0,171.1 334.1,171.3 334.2,164.8 334.3,168.6 334.5,164.3 334.6,168.3 334.7,162.6 334.8,165.3 334.9,167.3 335.1,170.1 335.2,165.7 335.3,164.7 335.4,162.2 335.5,165.3 335.6,166.2 335.8,159.6 335.9,168.7 336.0,172.1 336.1,165.4 336.2,161.9 336.4,165.4 336.5,165.3 336.6,161.8 336.7,163.0 336.8,162.6 336.9,166.5 337.1,166.3 337.2,168.6 337.3,164.1 337.4,161.5 337.5,166.2 337.7,166.0 337.8,177.5 337.9,168.3 338.0,163.5 338.1,167.1 338.2,162.4 338.4,165.4 338.5,166.8 338.6,164.7 338.7,165.5 338.8,161.3 339.0,169.4 339.1,165.3 339.2,166.0 339.3,162.7 339.4,171.2 339.5,165.6 339.7,162.7 339.8,163.5 339.9,168.4 340.0,157.5 340.1,163.8 340.3,170.0 340.4,163.2 340.5,166.0 340.6,161.9 340.7,164.6 340.8,164.0 341.0,164.6 341.1,164.9 341.2,164.7 341.3,167.5 341.4,163.9 341.6,164.2 341.7,163.8 341.8,161.1 341.9,160.6 342.0,159.6 342.1,165.0 342.3,165.5 342.4,163.1 342.5,163.9 342.6,172.6 342.7,172.8 342.9,164.8 343.0,163.8 343.1,169.1 343.2,163.6 343.3,169.0 343.4,167.4 343.6,169.6 343.7,164.2 343.8,168.6 343.9,161.6 344.0,166.0 344.1,169.4 344.3,169.2 344.4,162.1 344.5,168.7 344.6,168.3 344.7,167.0 344.9,165.4 345.0,166.7 345.1,166.0 345.2,170.1 345.3,169.0 345.4,170.7 345.6,174.8 345.7,164.8 345.8,168.6 345.9,174.0 346.0,165.6 346.2,169.3 346.3,166.7 346.4,166.5 346.5,179.9 346.6,184.2 346.7,171.2 346.9,170.5 347.0,171.9 347.1,161.9 347.2,171.8 347.3,184.3 347.5,169.4 347.6,170.8 347.7,167.9 347.8,173.3 347.9,168.4 348.0,166.6 348.2,170.4 348.3,169.0 348.4,174.1 348.5,174.4 348.6,170.1 348.8,180.2 348.9,176.4 349.0,166.9 349.1,171.5 349.2,173.6 349.3,174.5 349.5,183.2 349.6,168.8 349.7,172.1 349.8,170.3 349.9,169.3 350.1,166.8 350.2,166.7 350.3,171.4 350.4,172.5 350.5,167.7 350.6,168.1 350.8,171.1 350.9,167.8 351.0,163.6 351.1,173.3 351.2,172.3 351.4,169.6 351.5,167.4 351.6,167.0 351.7,171.7 351.8,170.2 351.9,177.5 352.1,170.8 352.2,166.6 352.3,160.4 352.4,171.3 352.5,164.5 352.7,170.9 352.8,172.6 352.9,171.1 353.0,171.6 353.1,170.3 353.2,171.5 353.4,168.5 353.5,170.1 353.6,171.2 353.7,180.3 353.8,172.0 353.9,171.4 354.1,166.6 354.2,170.7 354.3,167.9 354.4,169.4 354.5,170.1 354.7,171.8 354.8,170.7 354.9,169.5 355.0,161.3 355.1,172.3 355.2,166.3 355.4,168.6 355.5,176.0 355.6,167.7 355.7,170.3 355.8,170.0 356.0,173.0 356.1,169.9 356.2,163.2 356.3,171.9 356.4,168.0 356.5,168.6 356.7,157.7 356.8,171.8 356.9,169.6 357.0,163.5 357.1,164.8 357.3,160.9 357.4,170.7 357.5,167.0 357.6,165.5 357.7,161.5 357.8,164.4 358.0,166.5 358.1,164.2 358.2,164.1 358.3,163.4 358.4,170.0 358.6,162.2 358.7,158.6 358.8,163.1 358.9,163.4 359.0,163.9 359.1,163.3 359.3,163.1 359.4,163.2 359.5,164.6 359.6,159.8 359.7,168.5 359.9,167.7 360.0,173.5 360.1,162.1 360.2,168.3 360.3,168.7 360.4,167.8 360.6,158.2 360.7,160.1 360.8,161.7 360.9,167.8 361.0,160.2 361.2,164.2 361.3,159.8 361.4,169.4 361.5,159.7 361.6,163.6 361.7,163.4 361.9,162.0 362.0,166.5 362.1,162.5 362.2,166.9 362.3,161.5 362.5,167.6 362.6,167.5 362.7,160.9 362.8,164.0 362.9,163.9 363.0,160.5 363.2,165.2 363.3,164.7 363.4,160.8 363.5,165.6 363.6,157.7 363.8,162.6 363.9,161.2 364.0,167.4 364.1,160.4 364.2,163.9 364.3,166.0 364.5,165.1 364.6,158.1 364.7,158.0 364.8,162.6 364.9,162.3 365.0,164.5 365.2,164.3 365.3,163.2 365.4,163.5 365.5,165.5 365.6,166.1 365.8,157.7 365.9,168.5 366.0,161.2 366.1,164.7 366.2,158.3 366.3,161.3 366.5,159.3 366.6,165.4 366.7,168.4 366.8,162.5 366.9,162.0 367.1,163.5 367.2,159.9 367.3,160.8 367.4,160.3 367.5,164.5 367.6,162.4 367.8,158.9 367.9,168.0 368.0,163.6 368.1,166.0 368.2,160.9 368.4,163.6 368.5,168.1 368.6,161.8 368.7,161.8 368.8,164.2 368.9,161.6 369.1,163.1 369.2,161.8 369.3,161.2 369.4,165.7 369.5,162.5 369.7,161.0 369.8,163.0 369.9,167.7 370.0,164.7 370.1,166.5 370.2,168.9 370.4,161.1 370.5,163.8 370.6,162.0 370.7,165.3 370.8,166.2 371.0,163.3 371.1,162.7 371.2,162.6 371.3,171.6 371.4,167.2 371.5,168.6 371.7,166.9 371.8,174.6 371.9,165.9 372.0,162.6 372.1,172.5 372.3,168.6 372.4,167.8 372.5,166.3 372.6,168.2 372.7,166.5 372.8,169.1 373.0,172.2 373.1,161.8 373.2,163.1 373.3,163.6 373.4,167.3 373.6,169.4 373.7,164.0 373.8,166.9 373.9,173.1 374.0,164.5 374.1,175.2 374.3,170.3 374.4,173.9 374.5,165.6 374.6,170.4 374.7,166.0 374.8,173.2 375.0,167.5 375.1,170.9 375.2,167.8 375.3,170.4 375.4,166.0 375.6,170.9 375.7,171.8 375.8,170.2 375.9,174.6 376.0,171.4 376.1,172.5 376.3,171.8 376.4,176.6 376.5,168.9 376.6,170.0 376.7,170.2 376.9,176.9 377.0,171.5 377.1,173.1 377.2,171.7 377.3,169.6 377.4,170.8 377.6,172.2 377.7,165.0 377.8,174.8 377.9,169.6 378.0,170.2 378.2,171.9 378.3,170.5 378.4,167.4 378.5,170.6 378.6,174.9 378.7,174.0 378.9,178.4 379.0,169.8 379.1,170.7 379.2,174.1 379.3,173.8 379.5,171.4 379.6,168.8 379.7,166.2 379.8,175.1 379.9,173.0 380.0,172.4 380.2,173.5 380.3,179.7 380.4,171.5 380.5,170.5 380.6,172.0 380.8,172.0 380.9,174.1 381.0,172.2 381.1,168.3 381.2,164.6 381.3,170.9 381.5,168.1 381.6,173.6 381.7,163.7 381.8,170.1 381.9,167.5 382.1,167.0 382.2,173.7 382.3,169.6 382.4,168.5 382.5,170.9 382.6,166.7 382.8,167.7 382.9,166.8 383.0,176.4 383.1,169.2 383.2,169.9 383.4,171.0 383.5,167.4 383.6,167.4 383.7,163.3 383.8,168.9 383.9,168.2 384.1,166.3 384.2,165.8 384.3,156.5 384.4,168.2 384.5,163.2 384.7,163.8 384.8,166.2 384.9,170.2 385.0,163.3 385.1,163.8 385.2,163.3 385.4,174.0 385.5,167.9 385.6,167.6 385.7,172.1 385.8,167.2 385.9,160.9 386.1,165.2 386.2,163.3 386.3,173.5 386.4,162.7 386.5,167.4 386.7,167.1 386.8,165.3 386.9,166.6 387.0,166.2 387.1,170.0 387.2,163.2 387.4,164.8 387.5,163.7 387.6,164.1 387.7,166.9 387.8,166.1 388.0,167.8 388.1,165.9 388.2,171.7 388.3,164.6 388.4,163.8 388.5,169.3 388.7,164.6 388.8,179.2 388.9,178.7 389.0,170.0 389.1,165.6 389.3,169.2 389.4,167.4 389.5,165.1 389.6,163.3 389.7,165.5 389.8,162.0 390.0,164.2 390.1,163.5 390.2,167.3 390.3,168.5 390.4,164.7 390.6,165.3 390.7,163.5 390.8,162.7 390.9,165.2 391.0,167.9 391.1,167.6 391.3,167.9 391.4,165.6 391.5,158.9 391.6,168.8 391.7,169.8 391.9,168.7 392.0,171.2 392.1,169.1 392.2,178.3 392.3,166.9 392.4,170.2 392.6,168.1 392.7,167.7 392.8,165.5 392.9,164.8 393.0,162.7 393.2,167.2 393.3,164.7 393.4,162.3 393.5,163.4 393.6,162.2 393.7,169.6 393.9,164.5 394.0,165.5 394.1,161.8 394.2,162.2 394.3,170.1 394.5,164.3 394.6,165.4 394.7,169.7 394.8,170.3 394.9,166.5 395.0,165.9 395.2,165.1 395.3,166.9 395.4,169.8 395.5,161.0 395.6,162.0 395.7,159.0 395.9,163.9 396.0,169.1 396.1,165.2 396.2,164.3 396.3,163.0 396.5,161.9 396.6,162.3 396.7,162.7 396.8,166.6 396.9,169.9 397.0,164.7 397.2,162.0 397.3,160.9 397.4,164.2 397.5,164.6 397.6,164.0 397.8,166.9 397.9,163.1 398.0,162.3 398.1,169.9 398.2,160.7 398.3,165.4 398.5,160.4 398.6,163.2 398.7,164.9 398.8,167.8 398.9,164.4 399.1,162.7 399.2,161.5 399.3,165.0 399.4,165.4 399.5,161.5 399.6,166.3 399.8,162.2 399.9,158.2 400.0,159.8 400.1,164.7 400.2,171.3 400.4,164.4 400.5,162.0 400.6,160.7 400.7,167.9 400.8,166.6 400.9,158.3 401.1,164.5 401.2,169.3 401.3,164.6 401.4,164.2 401.5,164.8 401.7,165.7 401.8,164.8 401.9,160.0 402.0,158.7 402.1,165.7 402.2,164.3 402.4,158.3 402.5,157.6 402.6,165.5 402.7,169.1 402.8,165.4 403.0,167.3 403.1,163.9 403.2,155.9 403.3,162.8 403.4,166.0 403.5,165.7 403.7,157.6 403.8,166.6 403.9,164.9 404.0,166.0 404.1,163.0 404.3,163.6 404.4,160.7 404.5,164.5 404.6,166.2 404.7,161.1 404.8,164.7 405.0,162.3 405.1,166.6 405.2,163.0 405.3,157.4 405.4,165.4 405.6,167.9 405.7,162.3 405.8,165.2 405.9,163.5 406.0,169.3 406.1,163.6 406.3,168.1 406.4,165.2 406.5,163.2 406.6,166.6 406.7,167.2 406.8,170.5 407.0,166.1 407.1,169.4 407.2,163.4 407.3,170.2 407.4,162.1 407.6,161.5 407.7,164.6 407.8,165.1 407.9,159.0 408.0,164.5 408.1,164.9 408.3,164.7 408.4,162.4 408.5,170.1 408.6,164.8 408.7,160.2 408.9,161.9 409.0,166.0 409.1,165.2 409.2,167.9 409.3,163.7 409.4,163.2 409.6,162.6 409.7,159.8 409.8,165.3 409.9,161.0 410.0,161.6 410.2,166.9 410.3,161.4 410.4,160.2 410.5,171.3 410.6,166.1 410.7,162.9 410.9,161.6 411.0,162.5 411.1,162.2 411.2,162.4 411.3,161.0 411.5,171.9 411.6,161.4 411.7,157.9 411.8,160.5 411.9,162.7 412.0,159.9 412.2,156.0 412.3,166.6 412.4,163.9 412.5,161.2 412.6,161.0 412.8,163.8 412.9,166.0 413.0,165.2 413.1,163.4 413.2,161.1 413.3,163.1 413.5,159.1 413.6,157.2 413.7,162.3 413.8,159.6 413.9,163.9 414.1,160.1 414.2,165.6 414.3,164.0 414.4,166.0 414.5,164.3 414.6,176.7 414.8,161.5 414.9,160.6 415.0,164.2 415.1,156.9 415.2,158.7 415.4,166.5 415.5,157.5 415.6,160.2 415.7,155.7 415.8,165.4 415.9,160.1 416.1,161.7 416.2,158.3 416.3,160.3 416.4,164.1 416.5,162.2 416.6,161.2 416.8,162.4 416.9,161.6 417.0,161.7 417.1,160.3 417.2,161.0 417.4,163.0 417.5,153.7 417.6,164.0 417.7,166.9 417.8,165.3 417.9,167.4 418.1,158.4 418.2,161.8 418.3,159.0 418.4,161.2 418.5,156.6 418.7,157.9 418.8,169.1 418.9,163.1 419.0,164.4 419.1,164.2 419.2,163.3 419.4,162.9 419.5,160.9 419.6,161.6 419.7,164.5 419.8,160.2 420.0,159.9 420.1,160.0 420.2,165.5 420.3,162.7 420.4,160.4 420.5,159.2 420.7,162.4 420.8,152.0 420.9,160.6 421.0,159.7 421.1,159.7 421.3,161.8 421.4,167.3 421.5,169.4 421.6,161.5 421.7,163.1 421.8,159.1 422.0,156.8 422.1,164.3 422.2,170.1 422.3,158.6 422.4,167.7 422.6,164.3 422.7,161.6 422.8,154.9 422.9,164.0 423.0,160.9 423.1,163.2 423.3,158.7 423.4,163.6 423.5,164.1 423.6,159.3 423.7,163.8 423.9,159.6 424.0,159.9 424.1,158.8 424.2,159.9 424.3,159.4 424.4,164.3 424.6,155.5 424.7,158.2 424.8,164.8 424.9,162.6 425.0,162.7 425.2,160.9 425.3,162.4 425.4,160.8 425.5,158.5 425.6,161.3 425.7,161.4 425.9,161.4 426.0,162.9 426.1,156.3 426.2,161.7 426.3,158.8 426.5,166.1 426.6,162.1 426.7,161.0 426.8,166.5 426.9,162.8 427.0,160.7 427.2,163.3 427.3,164.1 427.4,159.8 427.5,157.8 427.6,160.9 427.7,162.8 427.9,161.5 428.0,157.5 428.1,158.9 428.2,158.0 428.3,158.0 428.5,162.1 428.6,160.6 428.7,162.8 428.8,160.2 428.9,164.8 429.0,160.4 429.2,161.8 429.3,159.2 429.4,161.4 429.5,163.1 429.6,162.2 429.8,163.5 429.9,158.5 430.0,164.1 430.1,164.6 430.2,160.7 430.3,159.5 430.5,159.3 430.6,158.5 430.7,160.3 430.8,163.5 430.9,161.0 431.1,159.7 431.2,157.6 431.3,156.7 431.4,166.0 431.5,165.4 431.6,159.9 431.8,158.3 431.9,160.0 432.0,158.3 432.1,159.7 432.2,163.2 432.4,157.4 432.5,160.7 432.6,159.1 432.7,161.1 432.8,157.4 432.9,160.3 433.1,156.6 433.2,158.2 433.3,166.5 433.4,156.6 433.5,156.2 433.7,158.2 433.8,162.0 433.9,156.1 434.0,160.2 434.1,159.4 434.2,157.2 434.4,156.5 434.5,170.9 434.6,160.2 434.7,158.0 434.8,158.5 435.0,158.9 435.1,155.5 435.2,156.6 435.3,159.7 435.4,163.5 435.5,157.8 435.7,156.6 435.8,159.1 435.9,157.3 436.0,157.8 436.1,158.9 436.3,158.1 436.4,158.8 436.5,160.0 436.6,154.4 436.7,160.3 436.8,152.9 437.0,163.3 437.1,169.3 437.2,157.1 437.3,161.5 437.4,158.4 437.5,160.0 437.7,160.8 437.8,156.6 437.9,158.9 438.0,163.2 438.1,158.4 438.3,156.3 438.4,156.4 438.5,154.2 438.6,163.1 438.7,168.0 438.8,155.3 439.0,160.0 439.1,159.5 439.2,153.2 439.3,156.8 439.4,158.8 439.6,163.5 439.7,161.9 439.8,162.4 439.9,165.1 440.0,161.7 440.1,158.1 440.3,160.8 440.4,161.1 440.5,155.9 440.6,158.4 440.7,169.9 440.9,161.0 441.0,163.1 441.1,157.5 441.2,161.5 441.3,158.1 441.4,162.7 441.6,157.3 441.7,156.8 441.8,159.7 441.9,160.1 442.0,160.8 442.2,158.1 442.3,157.7 442.4,157.7 442.5,163.2 442.6,156.2 442.7,159.7 442.9,160.3 443.0,160.8 443.1,163.1 443.2,162.0 443.3,160.6 443.5,163.7 443.6,162.9 443.7,160.7 443.8,160.5 443.9,156.9 444.0,160.3 444.2,150.8 444.3,157.0 444.4,159.2 444.5,155.5 444.6,157.6 444.8,158.6 444.9,160.8 445.0,159.1 445.1,161.0 445.2,164.1 445.3,162.1 445.5,156.9 445.6,155.3 445.7,157.5 445.8,157.6 445.9,163.9 446.1,155.4 446.2,155.4 446.3,158.3 446.4,163.6 446.5,164.3 446.6,157.2 446.8,158.6 446.9,156.2 447.0,154.3 447.1,159.5 447.2,159.8 447.4,158.0 447.5,161.3 447.6,158.8 447.7,162.5 447.8,158.3 447.9,161.8 448.1,166.2 448.2,159.9 448.3,161.2 448.4,160.2 448.5,157.6 448.6,155.8 448.8,160.6 448.9,160.2 449.0,157.4 449.1,156.1 449.2,156.8 449.4,160.3 449.5,158.7 449.6,162.6 449.7,161.3 449.8,161.7 449.9,161.5 450.1,157.3 450.2,165.0 450.3,157.7 450.4,160.5 450.5,161.4 450.7,160.4 450.8,160.1 450.9,154.4 451.0,158.6 451.1,159.7 451.2,163.0 451.4,161.5 451.5,162.8 451.6,160.9 451.7,160.0 451.8,158.3 452.0,159.4 452.1,155.3 452.2,160.1 452.3,160.7 452.4,158.5 452.5,161.3 452.7,160.7 452.8,158.0 452.9,162.1 453.0,158.6 453.1,166.3 453.3,157.3 453.4,157.9 453.5,153.9 453.6,160.7 453.7,163.1 453.8,160.3 454.0,159.1 454.1,165.1 454.2,163.6 454.3,159.4 454.4,159.9 454.6,156.2 454.7,159.0 454.8,164.7 454.9,157.2 455.0,164.2 455.1,160.6 455.3,154.1 455.4,163.9 455.5,156.4 455.6,158.5 455.7,160.0 455.9,163.5 456.0,156.8 456.1,155.5 456.2,156.1 456.3,161.0 456.4,155.1 456.6,159.8 456.7,158.0 456.8,162.6 456.9,163.7 457.0,154.1 457.2,161.8 457.3,162.4 457.4,158.8 457.5,159.2 457.6,160.9 457.7,160.0 457.9,162.0 458.0,164.4 458.1,160.8 458.2,168.0 458.3,158.9 458.5,163.7 458.6,154.0 458.7,157.6 458.8,162.9 458.9,167.1 459.0,159.3 459.2,161.6 459.3,158.5 459.4,161.2 459.5,169.2 459.6,159.5 459.7,162.6 459.9,161.1 460.0,162.9 460.1,161.1 460.2,158.5 460.3,162.1 460.5,164.0 460.6,159.7 460.7,165.3 460.8,163.0 460.9,160.9 461.0,162.0 461.2,160.8 461.3,164.2 461.4,164.3 461.5,164.3 461.6,160.8 461.8,161.5 461.9,161.5 462.0,163.8 462.1,165.9 462.2,160.3 462.3,162.9 462.5,162.0 462.6,163.5 462.7,165.8 462.8,159.8 462.9,156.7 463.1,161.7 463.2,157.9 463.3,166.5 463.4,160.3 463.5,161.4 463.6,162.7 463.8,162.6 463.9,161.0 464.0,162.1 464.1,164.6 464.2,161.3 464.4,166.9 464.5,163.0 464.6,156.0 464.7,164.4 464.8,157.5 464.9,162.9 465.1,167.9 465.2,164.9 465.3,159.1 465.4,159.9 465.5,162.1 465.7,165.8 465.8,158.5 465.9,170.0 466.0,162.8 466.1,161.6 466.2,161.5 466.4,166.3 466.5,161.6 466.6,159.0 466.7,164.2 466.8,164.5 467.0,162.7 467.1,160.1 467.2,158.8 467.3,163.2 467.4,160.1 467.5,165.5 467.7,163.8 467.8,162.4 467.9,162.2 468.0,163.1 468.1,163.9 468.3,161.7 468.4,162.3 468.5,163.7 468.6,161.4 468.7,164.2 468.8,161.2 469.0,159.5 469.1,162.0 469.2,165.8 469.3,165.4 469.4,157.3 469.5,168.2 469.7,160.1 469.8,160.6 469.9,160.5 470.0,157.2 470.1,159.6 470.3,162.7 470.4,161.9 470.5,156.5 470.6,158.0 470.7,167.7 470.8,158.3 471.0,162.7 471.1,158.3 471.2,160.9 471.3,161.3 471.4,163.0 471.6,164.1 471.7,163.8 471.8,160.9 471.9,160.4 472.0,163.0 472.1,163.1 472.3,162.0 472.4,164.9 472.5,161.2 472.6,160.2 472.7,165.8 472.9,161.1 473.0,164.0 473.1,154.6 473.2,159.1 473.3,155.8 473.4,161.6 473.6,163.7 473.7,160.2 473.8,160.0 473.9,152.0 474.0,162.6 474.2,164.0 474.3,160.9 474.4,159.3 474.5,162.7 474.6,163.2 474.7,162.1 474.9,165.9 475.0,159.0 475.1,163.3 475.2,170.9 475.3,163.7 475.5,159.2 475.6,160.4 475.7,158.7 475.8,157.1 475.9,158.5 476.0,155.0 476.2,164.5 476.3,161.6 476.4,162.7 476.5,158.2 476.6,158.7 476.8,156.0 476.9,156.6 477.0,168.1 477.1,165.6 477.2,157.7 477.3,158.8 477.5,173.6 477.6,158.6 477.7,162.0 477.8,171.1 477.9,159.7 478.1,162.9 478.2,159.9 478.3,158.0 478.4,162.7 478.5,160.7 478.6,159.2 478.8,158.5 478.9,162.2 479.0,158.8 479.1,161.0 479.2,158.0 479.4,160.5 479.5,163.6 479.6,157.2 479.7,162.4 479.8,168.8 479.9,165.8 480.1,161.0 480.2,163.3 480.3,160.6 480.4,158.3 480.5,158.8 480.6,156.1 480.8,163.1 480.9,159.1 481.0,161.3 481.1,163.5 481.2,164.4 481.4,163.7 481.5,165.1 481.6,158.3 481.7,166.6 481.8,162.2 481.9,164.3 482.1,162.7 482.2,159.4 482.3,160.9 482.4,157.2 482.5,163.6 482.7,156.9 482.8,175.8 482.9,164.3 483.0,163.4 483.1,157.4 483.2,162.2 483.4,160.7 483.5,160.9 483.6,165.9 483.7,162.4 483.8,159.6 484.0,158.9 484.1,162.5 484.2,162.3 484.3,158.8 484.4,157.4 484.5,160.3 484.7,160.6 484.8,163.9 484.9,160.2 485.0,163.6 485.1,165.0 485.3,157.7 485.4,160.3 485.5,165.9 485.6,164.6 485.7,161.8 485.8,169.7 486.0,159.9 486.1,159.9 486.2,157.6 486.3,167.1 486.4,160.6 486.6,160.9 486.7,155.2 486.8,164.4 486.9,159.2 487.0,163.5 487.1,165.0 487.3,155.5 487.4,161.7 487.5,157.5 487.6,168.9 487.7,155.0 487.9,158.7 488.0,159.9 488.1,163.9 488.2,164.0 488.3,162.8 488.4,161.2 488.6,167.4 488.7,159.9 488.8,162.6 488.9,166.4 489.0,158.6 489.2,159.7 489.3,164.7 489.4,163.0 489.5,158.4 489.6,161.9 489.7,166.9 489.9,161.2 490.0,164.0 490.1,162.2 490.2,160.0 490.3,166.0 490.4,164.3 490.6,165.0 490.7,161.3 490.8,162.0 490.9,162.3 491.0,162.9 491.2,160.8 491.3,160.3 491.4,165.1 491.5,155.5 491.6,160.5 491.7,160.6 491.9,160.2 492.0,158.4 492.1,159.6 492.2,163.6 492.3,158.7 492.5,159.6 492.6,170.5 492.7,158.0 492.8,172.6 492.9,162.4 493.0,158.0 493.2,160.4 493.3,160.5 493.4,164.9 493.5,163.9 493.6,160.7 493.8,161.3 493.9,155.1 494.0,161.0 494.1,157.8 494.2,160.9 494.3,160.9 494.5,162.4 494.6,164.0 494.7,161.6 494.8,162.6 494.9,160.9 495.1,164.0 495.2,163.4 495.3,165.4 495.4,164.8 495.5,159.3 495.6,157.4 495.8,164.1 495.9,164.1 496.0,160.4 496.1,165.0 496.2,161.3 496.4,160.8 496.5,161.9 496.6,157.3 496.7,156.6 496.8,160.0 496.9,157.8 497.1,160.7 497.2,160.7 497.3,154.0 497.4,158.5 497.5,157.5 497.7,154.5 497.8,159.6 497.9,156.9 498.0,155.2 498.1,163.2 498.2,163.1 498.4,159.1 498.5,156.7 498.6,163.7 498.7,163.1 498.8,159.9 499.0,162.2 499.1,160.1 499.2,159.0 499.3,161.3 499.4,158.5 499.5,161.1 499.7,158.9 499.8,158.3 499.9,157.9 500.0,160.5 500.1,161.7 500.3,160.4 500.4,157.0 500.5,160.8 500.6,156.8 500.7,156.2 500.8,158.6 501.0,167.2 501.1,160.8 501.2,155.2 501.3,162.6 501.4,161.2 501.5,158.5 501.7,160.9 501.8,160.1 501.9,159.9 502.0,160.4 502.1,158.6 502.3,155.2 502.4,158.4 502.5,157.9 502.6,158.4 502.7,157.6 502.8,155.8 503.0,154.5 503.1,160.4 503.2,160.7 503.3,159.6 503.4,158.5 503.6,163.7 503.7,160.3 503.8,158.6 503.9,160.7 504.0,158.4 504.1,164.6 504.3,159.3 504.4,160.0 504.5,158.7 504.6,157.4 504.7,166.5 504.9,161.5 505.0,156.3 505.1,157.3 505.2,155.9 505.3,161.0 505.4,158.2 505.6,161.0 505.7,156.7 505.8,160.9 505.9,157.4 506.0,157.7 506.2,160.3 506.3,158.0 506.4,157.5 506.5,161.4 506.6,158.9 506.7,162.5 506.9,165.7 507.0,160.9 507.1,158.4 507.2,165.3 507.3,156.3 507.5,161.0 507.6,172.0 507.7,160.2 507.8,160.8 507.9,157.5 508.0,155.3 508.2,162.5 508.3,160.4 508.4,162.7 508.5,159.8 508.6,161.9 508.8,158.6 508.9,160.0 509.0,159.6 509.1,161.1 509.2,163.7 509.3,160.4 509.5,152.8 509.6,160.0 509.7,160.3 509.8,160.7 509.9,160.8 510.1,164.2 510.2,158.5 510.3,166.0 510.4,158.7 510.5,164.3 510.6,162.2 510.8,171.4 510.9,160.2 511.0,166.3 511.1,160.3 511.2,160.7 511.3,158.1 511.5,157.7 511.6,159.3 511.7,158.6 511.8,162.2 511.9,162.2 512.1,163.3 512.2,159.1 512.3,163.7 512.4,158.7 512.5,160.7 512.6,164.5 512.8,164.4 512.9,164.1 513.0,166.8 513.1,163.0 513.2,160.8 513.4,160.9 513.5,159.5 513.6,162.1 513.7,159.6 513.8,160.0 513.9,159.1 514.1,157.3 514.2,168.0 514.3,165.7 514.4,156.4 514.5,163.4 514.7,160.3 514.8,156.3 514.9,161.2 515.0,162.4 515.1,163.3 515.2,164.7 515.4,159.6 515.5,161.7 515.6,163.5 515.7,163.2 515.8,162.8 516.0,162.1 516.1,165.0 516.2,158.6 516.3,158.0 516.4,166.3 516.5,157.9 516.7,164.7 516.8,155.9 516.9,160.9 517.0,160.7 517.1,162.2 517.3,160.6 517.4,161.7 517.5,161.6 517.6,164.0 517.7,163.9 517.8,166.0 518.0,160.1 518.1,161.8 518.2,168.7 518.3,162.8 518.4,155.7 518.6,162.9 518.7,162.0 518.8,160.8 518.9,160.9 519.0,157.6 519.1,165.0 519.3,163.8 519.4,165.9 519.5,164.9 519.6,164.4 519.7,159.9 519.9,159.4 520.0,159.5 520.1,164.5 520.2,165.9 520.3,165.2 520.4,167.6 520.6,163.9 520.7,158.9 520.8,161.4 520.9,167.8 521.0,160.3 521.2,160.0 521.3,161.5 521.4,165.5 521.5,162.0 521.6,154.7 521.7,160.5 521.9,161.7 522.0,162.2 522.1,168.5 522.2,169.4 522.3,165.5 522.4,163.6 522.6,156.2 522.7,159.9 522.8,163.9 522.9,165.2 523.0,164.0 523.2,161.6 523.3,163.6 523.4,161.3 523.5,161.5 523.6,161.3 523.7,162.0 523.9,161.6 524.0,166.5 524.1,161.8 524.2,169.5 524.3,164.4 524.5,163.5 524.6,164.6 524.7,159.8 524.8,165.0 524.9,161.7 525.0,159.0 525.2,161.2 525.3,158.5 525.4,164.1 525.5,160.6 525.6,164.0 525.8,158.2 525.9,162.3 526.0,160.9 526.1,165.5 526.2,162.1 526.3,163.1 526.5,165.1 526.6,158.8 526.7,160.7"/>
<polyline fill="none" stroke="#FFC000" stroke-width="1.0" stroke-linejoin="round" points="54.5,105.9 54.6,106.2 54.7,105.9 54.9,105.1 55.0,106.2 55.1,105.9 55.2,105.4 55.3,106.0 55.4,105.9 55.6,105.9 55.7,105.7 55.8,106.0 55.9,105.4 56.0,105.7 56.2,105.5 56.3,106.1 56.4,105.8 56.5,105.7 56.6,105.5 56.7,105.8 56.9,105.9 57.0,105.8 57.1,106.7 57.2,106.6 57.3,104.8 57.5,105.2 57.6,106.1 57.7,106.0 57.8,106.4 57.9,106.5 58.0,107.4 58.2,105.9 58.3,106.3 58.4,107.5 58.5,106.9 58.6,106.9 58.8,106.3 58.9,105.8 59.0,106.7 59.1,106.7 59.2,106.1 59.3,106.4 59.5,106.7 59.6,106.3 59.7,106.7 59.8,106.8 59.9,106.8 60.0,106.6 60.2,107.1 60.3,107.3 60.4,107.0 60.5,106.5 60.6,107.3 60.8,106.7 60.9,107.4 61.0,106.4 61.1,107.4 61.2,106.9 61.3,106.3 61.5,106.8 61.6,107.0 61.7,107.1 61.8,106.5 61.9,106.5 62.1,107.1 62.2,106.8 62.3,107.1 62.4,107.4 62.5,106.2 62.6,107.2 62.8,107.7 62.9,106.9 63.0,106.6 63.1,107.4 63.2,107.2 63.4,107.5 63.5,106.9 63.6,106.3 63.7,107.0 63.8,106.8 63.9,107.4 64.1,107.1 64.2,106.2 64.3,106.4 64.4,107.4 64.5,107.3 64.7,106.7 64.8,107.0 64.9,107.2 65.0,107.2 65.1,107.4 65.2,107.0 65.4,106.8 65.5,106.8 65.6,107.4 65.7,105.7 65.8,106.8 66.0,106.9 66.1,106.2 66.2,107.1 66.3,106.6 66.4,107.3 66.5,106.9 66.7,107.3 66.8,107.6 66.9,107.2 67.0,106.6 67.1,106.3 67.3,108.0 67.4,107.1 67.5,106.8 67.6,107.3 67.7,107.2 67.8,107.7 68.0,107.4 68.1,107.4 68.2,107.1 68.3,107.7 68.4,107.0 68.6,107.9 68.7,108.4 68.8,106.9 68.9,106.5 69.0,108.0 69.1,109.0 69.3,107.3 69.4,107.2 69.5,108.2 69.6,107.5 69.7,107.7 69.9,107.8 70.0,108.2 70.1,107.8 70.2,108.1 70.3,107.9 70.4,107.6 70.6,107.9 70.7,107.6 70.8,108.1 70.9,107.5 71.0,107.6 71.1,108.9 71.3,108.1 71.4,108.1 71.5,108.4 71.6,108.0 71.7,108.1 71.9,108.4 72.0,108.3 72.1,107.6 72.2,108.6 72.3,107.9 72.4,107.7 72.6,107.7 72.7,108.0 72.8,109.0 72.9,107.6 73.0,108.3 73.2,107.1 73.3,108.2 73.4,108.6 73.5,108.0 73.6,107.8 73.7,108.3 73.9,108.5 74.0,108.5 74.1,109.1 74.2,108.2 74.3,107.8 74.5,108.0 74.6,108.1 74.7,108.1 74.8,108.1 74.9,108.1 75.0,107.2 75.2,108.5 75.3,107.8 75.4,107.5 75.5,108.4 75.6,108.7 75.8,108.3 75.9,108.1 76.0,107.6 76.1,109.5 76.2,108.5 76.3,107.5 76.5,107.7 76.6,108.1 76.7,107.3 76.8,108.1 76.9,107.8 77.1,108.7 77.2,108.5 77.3,106.7 77.4,108.0 77.5,107.2 77.6,108.5 77.8,108.0 77.9,108.2 78.0,107.3 78.1,108.8 78.2,108.8 78.4,107.3 78.5,107.9 78.6,107.4 78.7,107.7 78.8,107.0 78.9,108.5 79.1,107.1 79.2,107.4 79.3,107.7 79.4,107.1 79.5,107.3 79.7,107.1 79.8,107.3 79.9,106.7 80.0,107.1 80.1,107.1 80.2,107.0 80.4,107.2 80.5,107.0 80.6,107.5 80.7,107.0 80.8,107.0 80.9,106.8 81.1,106.8 81.2,106.4 81.3,107.3 81.4,106.5 81.5,106.7 81.7,107.2 81.8,107.2 81.9,106.8 82.0,106.0 82.1,107.2 82.2,107.1 82.4,106.3 82.5,107.3 82.6,106.6 82.7,106.3 82.8,106.9 83.0,106.8 83.1,106.9 83.2,106.0 83.3,107.7 83.4,106.4 83.5,105.9 83.7,107.0 83.8,106.5 83.9,106.8 84.0,106.4 84.1,106.5 84.3,106.7 84.4,106.1 84.5,106.8 84.6,106.2 84.7,106.0 84.8,106.5 85.0,106.6 85.1,106.3 85.2,105.9 85.3,106.7 85.4,105.5 85.6,105.8 85.7,106.3 85.8,105.6 85.9,106.3 86.0,106.3 86.1,106.7 86.3,105.8 86.4,106.0 86.5,106.5 86.6,105.1 86.7,107.9 86.9,106.0 87.0,106.0 87.1,106.8 87.2,106.3 87.3,105.5 87.4,106.7 87.6,106.9 87.7,106.2 87.8,106.3 87.9,106.7 88.0,106.1 88.2,106.8 88.3,106.7 88.4,106.3 88.5,105.9 88.6,106.5 88.7,106.2 88.9,107.2 89.0,106.8 89.1,107.1 89.2,106.8 89.3,106.9 89.5,106.4 89.6,107.1 89.7,107.7 89.8,106.6 89.9,106.5 90.0,106.7 90.2,106.5 90.3,106.4 90.4,106.8 90.5,106.5 90.6,107.4 90.8,106.6 90.9,106.8 91.0,107.0 91.1,106.4 91.2,107.2 91.3,106.1 91.5,106.0 91.6,106.1 91.7,106.2 91.8,105.5 91.9,106.1 92.0,105.3 92.2,106.8 92.3,106.0 92.4,105.6 92.5,105.5 92.6,105.7 92.8,105.7 92.9,105.3 93.0,105.3 93.1,105.7 93.2,105.5 93.3,106.2 93.5,106.3 93.6,105.7 93.7,106.0 93.8,105.1 93.9,106.1 94.1,105.8 94.2,106.1 94.3,106.7 94.4,104.8 94.5,106.1 94.6,105.4 94.8,106.3 94.9,105.4 95.0,105.9 95.1,106.3 95.2,106.5 95.4,106.3 95.5,105.9 95.6,106.0 95.7,106.8 95.8,106.4 95.9,105.6 96.1,106.8 96.2,106.7 96.3,106.9 96.4,106.3 96.5,106.9 96.7,106.0 96.8,106.8 96.9,106.2 97.0,106.8 97.1,107.0 97.2,106.1 97.4,106.4 97.5,106.4 97.6,107.0 97.7,106.7 97.8,105.7 98.0,106.5 98.1,106.6 98.2,107.3 98.3,105.3 98.4,105.9 98.5,106.7 98.7,105.4 98.8,105.4 98.9,106.2 99.0,106.4 99.1,105.5 99.3,106.1 99.4,105.9 99.5,106.5 99.6,105.7 99.7,106.2 99.8,105.2 100.0,105.5 100.1,105.5 100.2,106.1 100.3,105.8 100.4,105.1 100.6,105.8 100.7,105.9 100.8,105.4 100.9,105.3 101.0,105.4 101.1,104.6 101.3,105.5 101.4,105.5 101.5,105.0 101.6,105.8 101.7,104.7 101.8,105.2 102.0,105.2 102.1,106.4 102.2,104.7 102.3,105.7 102.4,105.9 102.6,105.7 102.7,106.1 102.8,105.0 102.9,104.4 103.0,105.9 103.1,104.9 103.3,105.4 103.4,105.0 103.5,106.1 103.6,106.0 103.7,105.2 103.9,106.0 104.0,105.6 104.1,105.5 104.2,105.6 104.3,105.5 104.4,105.9 104.6,105.7 104.7,105.4 104.8,106.1 104.9,105.3 105.0,105.7 105.2,105.8 105.3,106.3 105.4,105.3 105.5,106.4 105.6,105.6 105.7,105.4 105.9,105.2 106.0,105.8 106.1,105.5 106.2,104.9 106.3,104.9 106.5,105.2 106.6,105.1 106.7,106.0 106.8,106.1 106.9,105.9 107.0,105.6 107.2,105.2 107.3,105.5 107.4,105.9 107.5,106.5 107.6,105.9 107.8,105.3 107.9,105.5 108.0,105.2 108.1,105.0 108.2,105.3 108.3,105.5 108.5,106.3 108.6,105.4 108.7,106.1 108.8,106.3 108.9,105.4 109.1,106.2 109.2,105.7 109.3,105.1 109.4,105.4 109.5,105.3 109.6,105.2 109.8,105.2 109.9,105.3 110.0,105.5 110.1,104.8 110.2,105.2 110.4,104.5 110.5,105.3 110.6,105.5 110.7,105.2 110.8,105.3 110.9,105.4 111.1,104.8 111.2,104.9 111.3,105.3 111.4,105.5 111.5,105.1 111.7,106.2 111.8,104.8 111.9,105.4 112.0,105.5 112.1,104.7 112.2,104.4 112.4,104.2 112.5,104.8 112.6,105.3 112.7,104.8 112.8,104.8 112.9,104.5 113.1,105.0 113.2,103.6 113.3,104.8 113.4,104.7 113.5,104.0 113.7,105.8 113.8,104.0 113.9,104.1 114.0,104.1 114.1,105.2 114.2,104.2 114.4,105.0 114.5,104.9 114.6,104.8 114.7,104.0 114.8,104.3 115.0,105.5 115.1,104.0 115.2,104.2 115.3,104.5 115.4,105.0 115.5,104.7 115.7,104.9 115.8,104.0 115.9,105.0 116.0,104.8 116.1,103.7 116.3,105.3 116.4,105.7 116.5,104.1 116.6,104.5 116.7,105.2 116.8,103.7 117.0,103.5 117.1,103.8 117.2,104.1 117.3,104.1 117.4,104.7 117.6,104.5 117.7,103.8 117.8,104.7 117.9,105.3 118.0,105.0 118.1,104.9 118.3,104.4 118.4,104.9 118.5,103.9 118.6,104.7 118.7,104.3 118.9,104.9 119.0,104.6 119.1,103.8 119.2,104.4 119.3,104.9 119.4,103.7 119.6,104.0 119.7,103.8 119.8,103.4 119.9,104.6 120.0,104.8 120.2,104.5 120.3,104.1 120.4,103.9 120.5,104.0 120.6,103.4 120.7,104.2 120.9,104.2 121.0,104.1 121.1,103.3 121.2,103.5 121.3,103.4 121.5,104.3 121.6,103.4 121.7,102.4 121.8,103.5 121.9,104.2 122.0,103.5 122.2,103.6 122.3,103.1 122.4,102.1 122.5,102.2 122.6,102.4 122.7,103.0 122.9,103.2 123.0,103.4 123.1,102.8 123.2,103.5 123.3,102.9 123.5,102.7 123.6,103.4 123.7,102.6 123.8,101.7 123.9,102.5 124.0,103.1 124.2,101.5 124.3,102.8 124.4,102.8 124.5,102.3 124.6,102.2 124.8,102.7 124.9,102.6 125.0,103.5 125.1,103.0 125.2,102.0 125.3,102.3 125.5,103.0 125.6,103.6 125.7,102.7 125.8,102.6 125.9,103.4 126.1,102.3 126.2,102.1 126.3,101.5 126.4,101.9 126.5,103.1 126.6,101.3 126.8,101.9 126.9,101.1 127.0,101.8 127.1,102.1 127.2,101.5 127.4,101.9 127.5,101.8 127.6,101.6 127.7,102.2 127.8,101.6 127.9,101.0 128.1,100.8 128.2,100.6 128.3,101.2 128.4,100.8 128.5,102.3 128.7,101.8 128.8,100.7 128.9,100.6 129.0,101.6 129.1,99.7 129.2,100.4 129.4,101.1 129.5,100.1 129.6,100.3 129.7,100.3 129.8,100.8 130.0,100.5 130.1,100.6 130.2,100.6 130.3,100.3 130.4,100.8 130.5,99.9 130.7,99.5 130.8,99.3 130.9,99.3 131.0,99.8 131.1,100.6 131.3,100.2 131.4,99.8 131.5,99.5 131.6,99.8 131.7,99.8 131.8,99.7 132.0,99.3 132.1,99.7 132.2,100.5 132.3,98.8 132.4,99.8 132.6,98.8 132.7,100.0 132.8,99.5 132.9,98.8 133.0,99.9 133.1,100.7 133.3,99.8 133.4,100.3 133.5,99.6 133.6,98.6 133.7,99.8 133.8,99.3 134.0,98.8 134.1,99.8 134.2,99.5 134.3,99.1 134.4,99.7 134.6,98.8 134.7,99.5 134.8,98.7 134.9,99.4 135.0,98.5 135.1,99.7 135.3,99.1 135.4,99.6 135.5,98.4 135.6,98.5 135.7,99.2 135.9,97.3 136.0,98.1 136.1,99.1 136.2,98.8 136.3,99.0 136.4,98.3 136.6,98.7 136.7,98.1 136.8,97.7 136.9,97.5 137.0,98.1 137.2,98.0 137.3,97.9 137.4,96.5 137.5,97.2 137.6,97.9 137.7,98.3 137.9,97.8 138.0,97.6 138.1,96.8 138.2,99.0 138.3,97.3 138.5,98.7 138.6,98.6 138.7,97.9 138.8,97.4 138.9,97.7 139.0,97.0 139.2,97.7 139.3,97.5 139.4,97.7 139.5,97.9 139.6,98.2 139.8,97.1 139.9,97.8 140.0,96.8 140.1,96.7 140.2,96.8 140.3,96.6 140.5,97.5 140.6,97.4 140.7,97.5 140.8,96.8 140.9,96.9 141.1,96.4 141.2,96.1 141.3,96.8 141.4,96.7 141.5,96.0 141.6,96.7 141.8,95.5 141.9,96.2 142.0,96.0 142.1,96.0 142.2,95.7 142.4,96.7 142.5,96.4 142.6,96.7 142.7,96.2 142.8,95.4 142.9,95.8 143.1,95.4 143.2,96.2 143.3,96.6 143.4,96.1 143.5,95.6 143.7,95.7 143.8,96.0 143.9,95.1 144.0,95.9 144.1,96.0 144.2,95.6 144.4,95.6 144.5,95.9 144.6,95.5 144.7,95.5 144.8,96.3 144.9,96.0 145.1,96.7 145.2,95.4 145.3,95.0 145.4,96.3 145.5,96.3 145.7,95.5 145.8,95.1 145.9,95.8 146.0,94.9 146.1,95.6 146.2,94.7 146.4,95.6 146.5,94.7 146.6,95.6 146.7,96.4 146.8,95.5 147.0,96.0 147.1,95.3 147.2,95.1 147.3,94.8 147.4,96.0 147.5,95.4 147.7,96.2 147.8,94.8 147.9,95.2 148.0,95.3 148.1,96.0 148.3,96.1 148.4,94.8 148.5,94.6 148.6,94.2 148.7,95.7 148.8,94.9 149.0,94.6 149.1,94.9 149.2,93.6 149.3,94.0 149.4,95.3 149.6,95.0 149.7,94.8 149.8,94.2 149.9,95.0 150.0,95.6 150.1,94.0 150.3,94.6 150.4,94.4 150.5,94.8 150.6,94.6 150.7,94.5 150.9,94.1 151.0,94.5 151.1,94.2 151.2,94.4 151.3,94.4 151.4,94.8 151.6,94.2 151.7,94.3 151.8,95.0 151.9,94.3 152.0,94.3 152.2,94.9 152.3,94.6 152.4,94.5 152.5,94.5 152.6,93.8 152.7,94.6 152.9,95.1 153.0,94.7 153.1,93.6 153.2,94.6 153.3,94.0 153.5,94.3 153.6,94.5 153.7,93.9 153.8,95.2 153.9,94.5 154.0,94.9 154.2,94.8 154.3,95.2 154.4,95.1 154.5,93.8 154.6,94.6 154.7,93.5 154.9,94.3 155.0,94.9 155.1,95.0 155.2,95.2 155.3,94.3 155.5,94.7 155.6,94.5 155.7,95.1 155.8,95.2 155.9,94.3 156.0,96.3 156.2,94.4 156.3,94.2 156.4,94.7 156.5,94.7 156.6,94.6 156.8,94.0 156.9,95.1 157.0,94.3 157.1,95.0 157.2,95.0 157.3,93.6 157.5,93.7 157.6,93.7 157.7,94.3 157.8,94.2 157.9,94.3 158.1,93.7 158.2,94.3 158.3,94.8 158.4,93.4 158.5,93.9 158.6,94.1 158.8,93.9 158.9,93.9 159.0,94.8 159.1,94.6 159.2,94.3 159.4,93.5 159.5,95.0 159.6,94.0 159.7,93.5 159.8,93.6 159.9,93.5 160.1,94.8 160.2,93.8 160.3,93.8 160.4,92.6 160.5,94.0 160.7,93.1 160.8,93.1 160.9,93.9 161.0,93.1 161.1,94.0 161.2,94.1 161.4,92.6 161.5,93.4 161.6,92.7 161.7,93.4 161.8,93.9 162.0,92.7 162.1,94.3 162.2,93.2 162.3,92.8 162.4,93.3 162.5,93.7 162.7,92.6 162.8,93.3 162.9,92.6 163.0,93.9 163.1,93.3 163.3,93.0 163.4,93.7 163.5,92.5 163.6,93.0 163.7,94.1 163.8,93.1 164.0,93.8 164.1,93.2 164.2,92.7 164.3,92.9 164.4,93.1 164.6,92.8 164.7,92.6 164.8,92.6 164.9,92.3 165.0,93.1 165.1,93.2 165.3,93.4 165.4,92.1 165.5,93.4 165.6,93.0 165.7,92.3 165.8,93.0 166.0,93.4 166.1,93.2 166.2,93.3 166.3,93.4 166.4,93.4 166.6,92.9 166.7,91.9 166.8,92.6 166.9,93.1 167.0,92.7 167.1,93.3 167.3,93.3 167.4,93.0 167.5,93.9 167.6,92.5 167.7,93.4 167.9,92.7 168.0,92.6 168.1,93.2 168.2,92.6 168.3,93.4 168.4,92.4 168.6,93.0 168.7,92.5 168.8,92.9 168.9,92.8 169.0,92.4 169.2,93.3 169.3,92.4 169.4,92.5 169.5,93.4 169.6,93.5 169.7,93.4 169.9,93.2 170.0,94.2 170.1,92.4 170.2,92.7 170.3,92.6 170.5,93.5 170.6,93.2 170.7,93.7 170.8,93.6 170.9,93.0 171.0,92.7 171.2,92.6 171.3,94.2 171.4,93.6 171.5,93.4 171.6,92.9 171.8,93.0 171.9,92.9 172.0,92.9 172.1,91.8 172.2,93.0 172.3,92.8 172.5,93.1 172.6,93.1 172.7,93.4 172.8,92.9 172.9,93.3 173.1,91.6 173.2,92.3 173.3,93.7 173.4,92.2 173.5,92.7 173.6,93.2 173.8,92.3 173.9,93.1 174.0,92.0 174.1,91.8 174.2,92.1 174.4,91.9 174.5,92.7 174.6,92.5 174.7,92.8 174.8,92.2 174.9,93.9 175.1,92.6 175.2,92.6 175.3,92.9 175.4,92.5 175.5,92.3 175.6,92.7 175.8,93.1 175.9,92.9 176.0,93.1 176.1,92.3 176.2,92.2 176.4,93.6 176.5,92.5 176.6,92.8 176.7,93.0 176.8,93.3 176.9,91.9 177.1,92.3 177.2,92.3 177.3,92.4 177.4,91.3 177.5,92.5 177.7,91.0 177.8,92.6 177.9,92.7 178.0,92.7 178.1,91.8 178.2,92.9 178.4,92.0 178.5,91.8 178.6,91.9 178.7,91.9 178.8,92.5 179.0,92.8 179.1,91.3 179.2,92.1 179.3,92.8 179.4,92.5 179.5,92.6 179.7,91.6 179.8,92.9 179.9,91.6 180.0,92.5 180.1,93.1 180.3,93.3 180.4,92.7 180.5,92.9 180.6,92.1 180.7,92.2 180.8,93.0 181.0,92.4 181.1,92.4 181.2,91.7 181.3,92.5 181.4,92.8 181.6,92.1 181.7,92.2 181.8,93.2 181.9,92.5 182.0,92.3 182.1,91.9 182.3,92.1 182.4,92.3 182.5,93.1 182.6,92.1 182.7,93.3 182.9,91.9 183.0,92.1 183.1,92.7 183.2,92.1 183.3,91.8 183.4,92.1 183.6,92.4 183.7,91.3 183.8,92.0 183.9,92.0 184.0,91.8 184.2,92.3 184.3,91.6 184.4,91.7 184.5,91.8 184.6,92.1 184.7,91.6 184.9,92.4 185.0,91.2 185.1,92.2 185.2,91.1 185.3,91.4 185.5,91.7 185.6,92.5 185.7,91.9 185.8,91.2 185.9,92.0 186.0,91.2 186.2,90.9 186.3,91.4 186.4,91.2 186.5,91.6 186.6,90.8 186.7,91.3 186.9,91.4 187.0,91.2 187.1,91.0 187.2,90.7 187.3,91.4 187.5,91.0 187.6,91.2 187.7,90.8 187.8,91.0 187.9,90.4 188.0,91.0 188.2,91.3 188.3,91.0 188.4,91.4 188.5,91.1 188.6,91.6 188.8,90.9 188.9,90.1 189.0,91.2 189.1,90.9 189.2,90.5 189.3,91.4 189.5,91.2 189.6,91.3 189.7,90.9 189.8,91.2 189.9,91.3 190.1,92.1 190.2,91.0 190.3,91.4 190.4,91.7 190.5,90.7 190.6,90.9 190.8,92.8 190.9,90.9 191.0,92.2 191.1,91.6 191.2,91.7 191.4,91.2 191.5,91.8 191.6,92.7 191.7,91.7 191.8,92.7 191.9,92.7 192.1,93.6 192.2,92.4 192.3,93.3 192.4,93.2 192.5,92.6 192.7,92.0 192.8,93.6 192.9,92.2 193.0,92.7 193.1,93.4 193.2,93.5 193.4,92.5 193.5,93.0 193.6,92.8 193.7,93.6 193.8,94.2 194.0,92.1 194.1,93.5 194.2,91.6 194.3,93.0 194.4,92.5 194.5,94.0 194.7,93.1 194.8,92.7 194.9,92.8 195.0,92.8 195.1,93.2 195.3,93.0 195.4,93.4 195.5,93.9 195.6,93.5 195.7,92.6 195.8,92.4 196.0,92.9 196.1,93.8 196.2,93.2 196.3,93.0 196.4,93.5 196.5,92.8 196.7,93.0 196.8,93.9 196.9,93.5 197.0,93.5 197.1,94.0 197.3,93.6 197.4,93.6 197.5,93.8 197.6,94.4 197.7,94.2 197.8,93.7 198.0,94.2 198.1,94.7 198.2,95.4 198.3,93.9 198.4,94.7 198.6,94.4 198.7,95.0 198.8,94.8 198.9,95.4 199.0,94.9 199.1,94.4 199.3,94.4 199.4,94.9 199.5,94.9 199.6,96.0 199.7,95.6 199.9,94.2 200.0,95.0 200.1,94.1 200.2,94.0 200.3,95.2 200.4,95.1 200.6,94.3 200.7,95.7 200.8,94.4 200.9,94.3 201.0,95.2 201.2,95.0 201.3,94.8 201.4,94.9 201.5,95.0 201.6,94.9 201.7,94.8 201.9,94.0 202.0,94.3 202.1,95.3 202.2,94.6 202.3,95.3 202.5,95.6 202.6,94.8 202.7,95.1 202.8,96.0 202.9,95.3 203.0,95.9 203.2,95.8 203.3,95.4 203.4,94.9 203.5,94.6 203.6,94.4 203.8,95.2 203.9,95.2 204.0,94.9 204.1,95.4 204.2,94.6 204.3,95.4 204.5,94.9 204.6,94.8 204.7,94.8 204.8,94.8 204.9,96.0 205.1,93.9 205.2,94.8 205.3,95.3 205.4,95.0 205.5,94.5 205.6,95.5 205.8,94.1 205.9,93.9 206.0,94.9 206.1,93.8 206.2,93.4 206.4,95.0 206.5,94.9 206.6,94.9 206.7,94.3 206.8,94.6 206.9,94.0 207.1,95.3 207.2,94.8 207.3,94.8 207.4,93.5 207.5,94.8 207.6,95.2 207.8,95.0 207.9,94.8 208.0,94.4 208.1,94.2 208.2,94.7 208.4,94.5 208.5,94.4 208.6,94.2 208.7,95.1 208.8,93.7 208.9,94.3 209.1,94.0 209.2,94.8 209.3,95.0 209.4,94.9 209.5,94.6 209.7,93.6 209.8,95.3 209.9,94.6 210.0,94.3 210.1,94.3 210.2,94.2 210.4,94.6 210.5,94.5 210.6,94.2 210.7,93.2 210.8,94.5 211.0,94.7 211.1,94.8 211.2,94.5 211.3,94.8 211.4,95.1 211.5,94.4 211.7,95.4 211.8,93.8 211.9,94.1 212.0,94.4 212.1,93.6 212.3,94.4 212.4,95.5 212.5,95.6 212.6,95.0 212.7,95.9 212.8,95.1 213.0,94.8 213.1,95.2 213.2,95.0 213.3,95.4 213.4,94.3 213.6,95.6 213.7,94.8 213.8,95.5 213.9,94.3 214.0,94.8 214.1,95.1 214.3,95.5 214.4,94.4 214.5,95.8 214.6,95.2 214.7,94.7 214.9,95.5 215.0,94.9 215.1,95.5 215.2,96.0 215.3,95.2 215.4,94.6 215.6,94.6 215.7,95.1 215.8,94.9 215.9,94.4 216.0,94.4 216.2,95.1 216.3,95.9 216.4,93.4 216.5,95.1 216.6,94.6 216.7,95.1 216.9,95.1 217.0,94.7 217.1,94.2 217.2,94.0 217.3,93.7 217.4,95.3 217.6,94.5 217.7,94.4 217.8,94.5 217.9,93.9 218.0,94.8 218.2,95.3 218.3,95.2 218.4,93.8 218.5,95.3 218.6,94.2 218.7,93.6 218.9,93.9 219.0,94.1 219.1,94.5 219.2,94.0 219.3,93.8 219.5,94.4 219.6,95.5 219.7,94.2 219.8,94.8 219.9,94.6 220.0,95.9 220.2,93.6 220.3,95.2 220.4,94.0 220.5,94.4 220.6,94.7 220.8,96.3 220.9,94.4 221.0,93.9 221.1,95.5 221.2,94.4 221.3,94.7 221.5,94.8 221.6,94.9 221.7,94.7 221.8,95.0 221.9,95.0 222.1,95.3 222.2,94.6 222.3,94.5 222.4,94.3 222.5,95.1 222.6,94.8 222.8,95.1 222.9,95.1 223.0,95.6 223.1,94.8 223.2,95.1 223.4,94.1 223.5,94.1 223.6,94.5 223.7,94.0 223.8,94.9 223.9,93.8 224.1,94.5 224.2,93.2 224.3,93.8 224.4,94.1 224.5,94.1 224.7,93.3 224.8,94.2 224.9,94.6 225.0,94.4 225.1,93.7 225.2,93.7 225.4,93.4 225.5,94.2 225.6,94.6 225.7,93.6 225.8,92.9 226.0,93.9 226.1,94.1 226.2,92.3 226.3,93.7 226.4,94.7 226.5,94.0 226.7,93.9 226.8,93.8 226.9,94.1 227.0,93.1 227.1,93.1 227.3,93.7 227.4,93.2 227.5,93.6 227.6,92.5 227.7,93.9 227.8,93.9 228.0,93.5 228.1,93.5 228.2,94.3 228.3,92.9 228.4,93.0 228.5,92.9 228.7,93.2 228.8,92.9 228.9,93.5 229.0,93.1 229.1,92.7 229.3,92.7 229.4,94.1 229.5,93.5 229.6,93.4 229.7,93.5 229.8,93.5 230.0,93.9 230.1,93.8 230.2,93.2 230.3,93.1 230.4,93.0 230.6,92.9 230.7,94.2 230.8,93.1 230.9,92.5 231.0,93.1 231.1,93.1 231.3,93.6 231.4,93.0 231.5,93.7 231.6,93.6 231.7,94.0 231.9,94.4 232.0,94.7 232.1,93.9 232.2,92.6 232.3,92.9 232.4,93.2 232.6,94.1 232.7,93.3 232.8,93.5 232.9,92.8 233.0,93.1 233.2,93.1 233.3,92.5 233.4,93.1 233.5,93.2 233.6,92.5 233.7,93.1 233.9,93.4 234.0,92.6 234.1,92.5 234.2,92.3 234.3,92.2 234.5,92.6 234.6,92.3 234.7,92.3 234.8,92.1 234.9,91.7 235.0,92.0 235.2,92.7 235.3,91.9 235.4,92.2 235.5,93.4 235.6,93.1 235.8,92.2 235.9,92.9 236.0,92.3 236.1,93.4 236.2,92.3 236.3,92.7 236.5,93.4 236.6,92.3 236.7,93.3 236.8,92.3 236.9,92.8 237.1,92.5 237.2,92.6 237.3,92.8 237.4,92.6 237.5,92.2 237.6,93.1 237.8,93.0 237.9,93.3 238.0,93.3 238.1,92.0 238.2,93.3 238.3,93.3 238.5,92.4 238.6,93.2 238.7,93.4 238.8,92.4 238.9,92.0 239.1,92.5 239.2,94.0 239.3,92.8 239.4,92.0 239.5,92.5 239.6,92.2 239.8,92.5 239.9,92.7 240.0,91.4 240.1,92.8 240.2,93.4 240.4,92.6 240.5,92.5 240.6,93.2 240.7,92.0 240.8,92.0 240.9,92.0 241.1,92.6 241.2,92.8 241.3,92.6 241.4,92.9 241.5,93.1 241.7,92.9 241.8,92.3 241.9,92.5 242.0,93.3 242.1,92.2 242.2,92.6 242.4,92.5 242.5,92.7 242.6,92.2 242.7,92.1 242.8,94.1 243.0,93.3 243.1,92.5 243.2,92.9 243.3,93.2 243.4,92.8 243.5,93.3 243.7,92.7 243.8,92.8 243.9,93.0 244.0,92.8 244.1,91.8 244.3,93.1 244.4,93.2 244.5,93.4 244.6,92.7 244.7,93.3 244.8,93.3 245.0,92.3 245.1,92.1 245.2,93.5 245.3,92.8 245.4,93.8 245.6,94.3 245.7,93.0 245.8,92.9 245.9,93.3 246.0,93.6 246.1,92.6 246.3,93.8 246.4,93.6 246.5,93.4 246.6,92.7 246.7,93.4 246.9,93.3 247.0,92.2 247.1,93.8 247.2,92.6 247.3,92.9 247.4,92.4 247.6,92.8 247.7,93.1 247.8,92.0 247.9,91.6 248.0,92.1 248.2,91.6 248.3,91.8 248.4,92.1 248.5,92.1 248.6,92.7 248.7,91.5 248.9,92.1 249.0,91.6 249.1,92.5 249.2,93.0 249.3,91.8 249.4,92.4 249.6,91.3 249.7,90.7 249.8,90.7 249.9,90.5 250.0,90.8 250.2,91.0 250.3,91.7 250.4,91.4 250.5,91.2 250.6,90.7 250.7,90.5 250.9,90.8 251.0,90.8 251.1,90.8 251.2,90.8 251.3,90.5 251.5,89.5 251.6,89.9 251.7,90.0 251.8,91.2 251.9,90.1 252.0,90.6 252.2,91.0 252.3,90.4 252.4,90.0 252.5,90.0 252.6,89.6 252.8,90.2 252.9,90.5 253.0,90.2 253.1,90.3 253.2,90.2 253.3,90.8 253.5,89.4 253.6,89.8 253.7,90.0 253.8,90.2 253.9,88.3 254.1,89.2 254.2,89.3 254.3,88.9 254.4,89.7 254.5,89.4 254.6,89.0 254.8,88.3 254.9,88.4 255.0,88.6 255.1,89.3 255.2,88.5 255.4,88.1 255.5,88.5 255.6,89.0 255.7,90.1 255.8,90.6 255.9,89.2 256.1,89.9 256.2,90.2 256.3,90.2 256.4,89.6 256.5,89.1 256.7,89.5 256.8,88.9 256.9,90.0 257.0,90.4 257.1,89.1 257.2,90.1 257.4,90.4 257.5,91.0 257.6,91.1 257.7,90.9 257.8,90.3 258.0,90.5 258.1,91.4 258.2,90.6 258.3,90.9 258.4,91.8 258.5,91.2 258.7,90.5 258.8,91.2 258.9,91.7 259.0,91.4 259.1,92.2 259.2,92.3 259.4,91.4 259.5,91.6 259.6,91.9 259.7,91.4 259.8,92.2 260.0,92.0 260.1,92.6 260.2,91.9 260.3,91.8 260.4,93.3 260.5,91.9 260.7,92.1 260.8,92.1 260.9,92.4 261.0,92.1 261.1,92.6 261.3,92.3 261.4,92.5 261.5,92.9 261.6,93.1 261.7,93.0 261.8,92.3 262.0,92.9 262.1,92.6 262.2,92.6 262.3,91.8 262.4,92.9 262.6,92.5 262.7,93.4 262.8,92.9 262.9,92.0 263.0,91.9 263.1,93.1 263.3,92.1 263.4,92.9 263.5,92.4 263.6,93.6 263.7,92.6 263.9,93.3 264.0,93.3 264.1,92.4 264.2,92.5 264.3,93.4 264.4,92.7 264.6,92.3 264.7,93.3 264.8,94.1 264.9,92.8 265.0,93.5 265.2,92.8 265.3,93.6 265.4,92.8 265.5,93.6 265.6,93.2 265.7,92.9 265.9,93.1 266.0,92.7 266.1,92.4 266.2,92.5 266.3,93.0 266.5,92.5 266.6,93.2 266.7,93.3 266.8,93.2 266.9,92.7 267.0,93.0 267.2,92.9 267.3,93.6 267.4,92.5 267.5,92.7 267.6,92.7 267.8,92.7 267.9,92.4 268.0,92.4 268.1,93.2 268.2,92.4 268.3,93.1 268.5,93.6 268.6,93.2 268.7,91.7 268.8,92.9 268.9,92.8 269.1,92.8 269.2,91.7 269.3,92.8 269.4,91.9 269.5,93.1 269.6,92.9 269.8,93.7 269.9,92.2 270.0,91.6 270.1,92.9 270.2,92.8 270.3,92.1 270.5,93.0 270.6,92.7 270.7,91.7 270.8,92.2 270.9,92.1 271.1,92.3 271.2,92.5 271.3,92.0 271.4,92.3 271.5,92.7 271.6,92.4 271.8,92.3 271.9,92.3 272.0,92.4 272.1,91.5 272.2,92.5 272.4,91.9 272.5,92.4 272.6,91.6 272.7,92.8 272.8,92.5 272.9,91.7 273.1,92.4 273.2,91.9 273.3,93.2 273.4,92.5 273.5,91.8 273.7,92.3 273.8,92.2 273.9,92.8 274.0,92.3 274.1,92.4 274.2,91.6 274.4,92.5 274.5,93.2 274.6,92.4 274.7,92.1 274.8,92.2 275.0,91.6 275.1,92.2 275.2,91.6 275.3,92.1 275.4,91.9 275.5,91.7 275.7,92.4 275.8,91.4 275.9,92.1 276.0,91.5 276.1,93.1 276.3,93.1 276.4,92.6 276.5,93.1 276.6,92.4 276.7,92.4 276.8,91.9 277.0,91.6 277.1,92.1 277.2,91.8 277.3,91.8 277.4,92.4 277.6,91.9 277.7,91.2 277.8,91.8 277.9,91.5 278.0,91.7 278.1,91.3 278.3,92.4 278.4,92.8 278.5,91.2 278.6,92.1 278.7,92.1 278.9,91.2 279.0,91.8 279.1,92.4 279.2,92.2 279.3,92.5 279.4,91.1 279.6,91.4 279.7,91.9 279.8,91.9 279.9,91.8 280.0,91.6 280.1,91.6 280.3,91.5 280.4,92.0 280.5,90.4 280.6,92.6 280.7,91.5 280.9,91.0 281.0,92.0 281.1,91.0 281.2,91.9 281.3,91.5 281.4,92.0 281.6,92.1 281.7,92.3 281.8,91.4 281.9,91.4 282.0,91.5 282.2,90.8 282.3,91.8 282.4,91.5 282.5,90.7 282.6,91.9 282.7,92.0 282.9,90.6 283.0,91.5 283.1,91.8 283.2,91.5 283.3,90.6 283.5,90.4 283.6,91.0 283.7,90.8 283.8,91.0 283.9,90.9 284.0,91.2 284.2,90.7 284.3,90.9 284.4,92.4 284.5,90.9 284.6,91.3 284.8,91.1 284.9,91.1 285.0,90.5 285.1,91.2 285.2,90.9 285.3,91.4 285.5,92.0 285.6,91.1 285.7,91.4 285.8,90.5 285.9,91.0 286.1,91.8 286.2,90.9 286.3,90.6 286.4,91.1 286.5,90.9 286.6,90.8 286.8,90.7 286.9,91.9 287.0,90.4 287.1,90.7 287.2,90.5 287.4,91.4 287.5,90.6 287.6,91.4 287.7,90.8 287.8,90.6 287.9,89.9 288.1,91.2 288.2,90.8 288.3,90.7 288.4,90.4 288.5,90.2 288.7,89.7 288.8,90.7 288.9,90.3 289.0,90.0 289.1,89.8 289.2,90.1 289.4,89.9 289.5,90.7 289.6,90.3 289.7,89.5 289.8,89.2 290.0,89.6 290.1,89.2 290.2,89.7 290.3,89.8 290.4,89.9 290.5,89.8 290.7,89.4 290.8,89.8 290.9,89.0 291.0,89.4 291.1,89.9 291.2,89.6 291.4,88.8 291.5,88.9 291.6,88.6 291.7,90.3 291.8,88.6 292.0,89.4 292.1,90.3 292.2,89.9 292.3,90.0 292.4,89.0 292.5,89.6 292.7,90.7 292.8,89.1 292.9,89.3 293.0,88.9 293.1,89.0 293.3,89.2 293.4,89.6 293.5,88.4 293.6,88.1 293.7,88.7 293.8,88.7 294.0,89.3 294.1,88.8 294.2,88.1 294.3,88.6 294.4,88.8 294.6,88.3 294.7,87.9 294.8,88.3 294.9,87.7 295.0,86.8 295.1,88.3 295.3,86.9 295.4,87.3 295.5,87.2 295.6,87.1 295.7,87.1 295.9,86.4 296.0,87.3 296.1,87.0 296.2,86.9 296.3,87.4 296.4,87.3 296.6,87.4 296.7,87.6 296.8,86.8 296.9,85.8 297.0,86.6 297.2,86.5 297.3,86.4 297.4,86.1 297.5,85.9 297.6,86.7 297.7,86.8 297.9,85.7 298.0,86.5 298.1,86.2 298.2,86.1 298.3,86.6 298.5,86.2 298.6,86.0 298.7,86.4 298.8,85.4 298.9,86.2 299.0,86.3 299.2,85.9 299.3,86.8 299.4,86.9 299.5,86.5 299.6,86.8 299.8,87.3 299.9,87.5 300.0,86.6 300.1,87.2 300.2,87.6 300.3,87.1 300.5,86.8 300.6,86.8 300.7,87.1 300.8,86.8 300.9,88.3 301.1,87.0 301.2,87.5 301.3,87.4 301.4,87.6 301.5,87.1 301.6,86.6 301.8,88.1 301.9,87.2 302.0,87.3 302.1,87.3 302.2,87.8 302.3,87.6 302.5,87.8 302.6,87.6 302.7,87.2 302.8,87.2 302.9,86.7 303.1,86.1 303.2,86.9 303.3,86.5 303.4,88.3 303.5,87.8 303.6,87.6 303.8,86.7 303.9,88.0 304.0,86.2 304.1,86.4 304.2,86.7 304.4,86.6 304.5,87.1 304.6,87.2 304.7,88.1 304.8,87.7 304.9,87.8 305.1,87.4 305.2,87.2 305.3,86.9 305.4,86.6 305.5,86.9 305.7,87.2 305.8,87.8 305.9,86.6 306.0,86.8 306.1,87.7 306.2,87.1 306.4,87.8 306.5,87.5 306.6,87.4 306.7,87.1 306.8,87.8 307.0,87.5 307.1,87.7 307.2,87.7 307.3,88.2 307.4,88.2 307.5,87.3 307.7,88.1 307.8,88.5 307.9,88.8 308.0,88.7 308.1,88.5 308.3,87.8 308.4,88.1 308.5,88.9 308.6,88.2 308.7,89.1 308.8,89.2 309.0,88.1 309.1,88.8 309.2,88.6 309.3,89.6 309.4,89.1 309.6,88.4 309.7,88.9 309.8,88.2 309.9,88.6 310.0,88.8 310.1,88.8 310.3,88.8 310.4,88.2 310.5,87.8 310.6,88.5 310.7,88.3 310.9,88.4 311.0,89.8 311.1,89.3 311.2,88.6 311.3,88.0 311.4,88.1 311.6,88.9 311.7,89.3 311.8,88.6 311.9,88.9 312.0,88.9 312.1,89.4 312.3,87.9 312.4,89.0 312.5,89.1 312.6,89.4 312.7,89.2 312.9,88.4 313.0,88.7 313.1,88.3 313.2,89.1 313.3,89.2 313.4,89.3 313.6,88.6 313.7,88.5 313.8,89.8 313.9,89.2 314.0,90.0 314.2,89.3 314.3,88.3 314.4,89.4 314.5,89.6 314.6,88.8 314.7,88.0 314.9,89.3 315.0,88.9 315.1,89.0 315.2,87.5 315.3,89.1 315.5,87.4 315.6,88.4 315.7,89.2 315.8,87.8 315.9,87.8 316.0,88.5 316.2,89.5 316.3,89.5 316.4,88.4 316.5,89.2 316.6,89.0 316.8,88.8 316.9,88.9 317.0,88.3 317.1,89.1 317.2,89.2 317.3,90.1 317.5,89.2 317.6,87.5 317.7,88.2 317.8,89.0 317.9,88.8 318.1,87.8 318.2,88.6 318.3,88.5 318.4,88.6 318.5,88.5 318.6,89.0 318.8,89.3 318.9,88.8 319.0,87.9 319.1,88.0 319.2,88.1 319.4,88.4 319.5,88.2 319.6,88.2 319.7,87.8 319.8,88.8 319.9,88.7 320.1,88.7 320.2,88.2 320.3,88.4 320.4,87.7 320.5,87.6 320.7,87.8 320.8,88.3 320.9,87.9 321.0,87.4 321.1,88.0 321.2,88.1 321.4,87.9 321.5,87.5 321.6,87.8 321.7,87.5 321.8,87.5 322.0,87.6 322.1,88.0 322.2,88.5 322.3,88.3 322.4,87.8 322.5,87.2 322.7,87.2 322.8,87.1 322.9,87.8 323.0,85.8 323.1,87.2 323.2,86.0 323.4,86.9 323.5,87.5 323.6,86.3 323.7,85.6 323.8,87.3 324.0,87.3 324.1,86.7 324.2,87.0 324.3,85.9 324.4,86.8 324.5,86.9 324.7,86.3 324.8,86.0 324.9,86.4 325.0,86.3 325.1,85.2 325.3,86.2 325.4,85.8 325.5,85.4 325.6,85.9 325.7,85.7 325.8,85.6 326.0,84.9 326.1,85.6 326.2,84.6 326.3,85.0 326.4,84.2 326.6,84.2 326.7,85.2 326.8,85.0 326.9,85.0 327.0,85.3 327.1,85.2 327.3,84.6 327.4,85.1 327.5,85.0 327.6,84.8 327.7,85.0 327.9,85.0 328.0,84.9 328.1,85.1 328.2,85.4 328.3,86.3 328.4,85.0 328.6,85.7 328.7,84.7 328.8,86.3 328.9,85.4 329.0,85.7 329.2,86.3 329.3,86.2 329.4,85.0 329.5,86.1 329.6,85.8 329.7,86.2 329.9,86.0 330.0,86.3 330.1,86.2 330.2,86.0 330.3,86.7 330.5,85.3 330.6,85.9 330.7,85.7 330.8,86.1 330.9,86.0 331.0,86.1 331.2,85.9 331.3,86.0 331.4,85.4 331.5,86.2 331.6,86.3 331.8,85.9 331.9,85.8 332.0,85.8 332.1,87.0 332.2,86.2 332.3,86.3 332.5,85.9 332.6,85.8 332.7,85.6 332.8,86.7 332.9,85.1 333.0,86.0 333.2,85.8 333.3,85.7 333.4,85.0 333.5,85.1 333.6,86.1 333.8,85.3 333.9,86.0 334.0,85.9 334.1,85.8 334.2,85.8 334.3,84.8 334.5,85.1 334.6,85.7 334.7,84.7 334.8,86.1 334.9,85.0 335.1,85.2 335.2,84.7 335.3,85.4 335.4,84.8 335.5,85.0 335.6,84.6 335.8,85.7 335.9,84.3 336.0,85.4 336.1,85.3 336.2,85.4 336.4,84.7 336.5,85.7 336.6,85.7 336.7,85.3 336.8,85.4 336.9,85.2 337.1,85.6 337.2,84.9 337.3,85.6 337.4,85.5 337.5,84.6 337.7,84.0 337.8,85.3 337.9,85.3 338.0,86.0 338.1,85.4 338.2,85.2 338.4,84.8 338.5,85.4 338.6,85.2 338.7,84.9 338.8,85.4 339.0,86.1 339.1,85.6 339.2,85.0 339.3,85.7 339.4,85.1 339.5,84.8 339.7,85.9 339.8,85.4 339.9,86.3 340.0,85.9 340.1,85.3 340.3,85.9 340.4,86.4 340.5,85.7 340.6,85.3 340.7,85.5 340.8,85.4 341.0,85.3 341.1,85.2 341.2,86.1 341.3,86.4 341.4,85.7 341.6,86.3 341.7,86.3 341.8,86.7 341.9,85.8 342.0,85.7 342.1,86.0 342.3,85.9 342.4,85.9 342.5,86.4 342.6,85.5 342.7,85.8 342.9,85.2 343.0,85.6 343.1,85.3 343.2,85.2 343.3,85.4 343.4,85.3 343.6,85.7 343.7,85.9 343.8,84.7 343.9,85.9 344.0,84.3 344.1,85.5 344.3,85.7 344.4,85.0 344.5,85.2 344.6,84.9 344.7,85.7 344.9,83.7 345.0,84.8 345.1,84.3 345.2,85.3 345.3,85.9 345.4,85.8 345.6,85.5 345.7,85.3 345.8,84.8 345.9,85.8 346.0,85.5 346.2,84.7 346.3,84.5 346.4,84.8 346.5,85.7 346.6,85.7 346.7,85.9 346.9,84.7 347.0,84.9 347.1,85.8 347.2,85.2 347.3,85.5 347.5,84.4 347.6,84.9 347.7,85.1 347.8,84.9 347.9,84.9 348.0,84.3 348.2,86.0 348.3,85.2 348.4,84.4 348.5,85.7 348.6,85.2 348.8,85.6 348.9,85.1 349.0,84.9 349.1,84.9 349.2,85.5 349.3,85.7 349.5,85.6 349.6,85.7 349.7,86.0 349.8,85.6 349.9,86.0 350.1,86.0 350.2,85.7 350.3,85.5 350.4,85.3 350.5,85.0 350.6,84.8 350.8,86.2 350.9,85.6 351.0,85.3 351.1,86.4 351.2,86.0 351.4,85.6 351.5,86.0 351.6,85.4 351.7,85.6 351.8,86.3 351.9,85.9 352.1,85.2 352.2,85.6 352.3,85.8 352.4,85.1 352.5,84.9 352.7,86.0 352.8,84.8 352.9,84.3 353.0,84.9 353.1,85.9 353.2,85.1 353.4,85.2 353.5,83.6 353.6,84.3 353.7,85.1 353.8,84.3 353.9,85.1 354.1,84.6 354.2,84.5 354.3,85.1 354.4,84.0 354.5,84.0 354.7,84.2 354.8,84.3 354.9,83.3 355.0,84.7 355.1,84.2 355.2,84.0 355.4,84.4 355.5,83.9 355.6,84.7 355.7,84.1 355.8,84.5 356.0,83.7 356.1,84.0 356.2,84.3 356.3,83.7 356.4,83.8 356.5,84.1 356.7,84.7 356.8,84.6 356.9,84.6 357.0,84.3 357.1,84.6 357.3,85.0 357.4,84.3 357.5,84.4 357.6,84.5 357.7,83.2 357.8,84.1 358.0,84.3 358.1,84.5 358.2,83.9 358.3,84.6 358.4,83.7 358.6,83.9 358.7,84.9 358.8,83.3 358.9,84.0 359.0,83.9 359.1,83.9 359.3,83.7 359.4,84.3 359.5,83.4 359.6,83.2 359.7,84.1 359.9,83.3 360.0,84.0 360.1,83.8 360.2,83.5 360.3,83.6 360.4,83.7 360.6,84.0 360.7,83.4 360.8,83.6 360.9,83.0 361.0,83.5 361.2,82.7 361.3,83.6 361.4,83.4 361.5,84.6 361.6,84.2 361.7,83.5 361.9,84.1 362.0,83.7 362.1,83.0 362.2,82.4 362.3,84.2 362.5,83.8 362.6,82.7 362.7,84.0 362.8,84.1 362.9,83.4 363.0,84.1 363.2,82.9 363.3,83.6 363.4,83.8 363.5,84.2 363.6,84.0 363.8,83.9 363.9,84.1 364.0,83.5 364.1,84.6 364.2,83.7 364.3,84.2 364.5,83.9 364.6,83.7 364.7,84.2 364.8,84.1 364.9,84.5 365.0,84.4 365.2,83.6 365.3,84.1 365.4,83.9 365.5,83.5 365.6,83.4 365.8,84.0 365.9,83.6 366.0,83.2 366.1,83.9 366.2,84.0 366.3,84.0 366.5,83.3 366.6,83.6 366.7,84.6 366.8,83.5 366.9,83.8 367.1,85.1 367.2,84.1 367.3,83.7 367.4,83.0 367.5,84.1 367.6,83.2 367.8,83.9 367.9,83.5 368.0,83.1 368.1,84.8 368.2,83.9 368.4,84.4 368.5,84.3 368.6,83.6 368.7,84.0 368.8,83.8 368.9,84.5 369.1,84.2 369.2,83.8 369.3,84.8 369.4,84.3 369.5,84.2 369.7,83.6 369.8,84.2 369.9,83.3 370.0,84.2 370.1,83.5 370.2,84.0 370.4,83.8 370.5,84.1 370.6,84.1 370.7,83.9 370.8,83.9 371.0,83.2 371.1,83.0 371.2,84.5 371.3,84.2 371.4,83.1 371.5,84.8 371.7,83.5 371.8,84.1 371.9,84.1 372.0,83.9 372.1,84.1 372.3,83.1 372.4,83.8 372.5,83.7 372.6,83.8 372.7,83.7 372.8,83.5 373.0,83.4 373.1,84.2 373.2,83.3 373.3,83.9 373.4,83.9 373.6,83.6 373.7,83.9 373.8,83.9 373.9,83.3 374.0,83.7 374.1,84.5 374.3,83.0 374.4,83.4 374.5,83.1 374.6,84.5 374.7,82.7 374.8,83.4 375.0,83.9 375.1,83.0 375.2,83.3 375.3,83.0 375.4,82.7 375.6,83.3 375.7,83.6 375.8,83.2 375.9,83.4 376.0,83.7 376.1,83.9 376.3,82.7 376.4,83.6 376.5,83.0 376.6,82.4 376.7,82.9 376.9,83.6 377.0,83.5 377.1,82.7 377.2,84.1 377.3,83.5 377.4,83.2 377.6,83.0 377.7,83.5 377.8,83.1 377.9,83.8 378.0,83.4 378.2,83.5 378.3,83.0 378.4,82.4 378.5,83.4 378.6,82.6 378.7,83.1 378.9,83.1 379.0,82.7 379.1,83.5 379.2,82.3 379.3,83.7 379.5,82.7 379.6,83.4 379.7,83.6 379.8,82.5 379.9,82.5 380.0,83.3 380.2,82.9 380.3,82.8 380.4,81.9 380.5,82.0 380.6,83.0 380.8,83.5 380.9,82.4 381.0,82.3 381.1,82.8 381.2,82.9 381.3,83.0 381.5,82.5 381.6,81.7 381.7,83.4 381.8,82.5 381.9,83.3 382.1,81.7 382.2,82.9 382.3,82.5 382.4,82.2 382.5,83.2 382.6,83.4 382.8,82.4 382.9,83.1 383.0,82.2 383.1,82.4 383.2,82.6 383.4,82.6 383.5,83.1 383.6,82.2 383.7,83.3 383.8,83.3 383.9,82.7 384.1,82.2 384.2,81.6 384.3,82.8 384.4,82.4 384.5,82.8 384.7,82.3 384.8,82.8 384.9,82.8 385.0,82.8 385.1,82.9 385.2,82.9 385.4,83.3 385.5,82.4 385.6,83.2 385.7,82.9 385.8,82.6 385.9,82.3 386.1,83.5 386.2,82.9 386.3,82.6 386.4,82.8 386.5,82.8 386.7,82.6 386.8,82.1 386.9,82.9 387.0,82.7 387.1,82.7 387.2,83.3 387.4,82.1 387.5,82.3 387.6,82.8 387.7,83.1 387.8,83.0 388.0,83.0 388.1,81.6 388.2,82.9 388.3,82.8 388.4,82.9 388.5,82.2 388.7,82.8 388.8,83.0 388.9,83.3 389.0,82.6 389.1,81.8 389.3,82.4 389.4,82.7 389.5,82.6 389.6,83.3 389.7,82.3 389.8,81.8 390.0,82.0 390.1,82.6 390.2,81.9 390.3,81.8 390.4,81.9 390.6,82.9 390.7,82.4 390.8,82.1 390.9,82.7 391.0,82.6 391.1,81.8 391.3,82.6 391.4,82.4 391.5,81.2 391.6,81.7 391.7,82.4 391.9,82.5 392.0,82.1 392.1,81.8 392.2,82.4 392.3,81.4 392.4,82.6 392.6,82.2 392.7,82.3 392.8,82.0 392.9,82.7 393.0,81.2 393.2,81.9 393.3,82.6 393.4,82.0 393.5,83.0 393.6,82.5 393.7,81.9 393.9,82.8 394.0,82.2 394.1,82.6 394.2,82.0 394.3,82.0 394.5,82.6 394.6,82.3 394.7,81.8 394.8,81.8 394.9,82.5 395.0,83.0 395.2,81.7 395.3,82.5 395.4,80.7 395.5,81.4 395.6,82.4 395.7,82.8 395.9,82.1 396.0,82.3 396.1,82.1 396.2,82.5 396.3,81.4 396.5,82.2 396.6,81.7 396.7,81.7 396.8,81.8 396.9,81.7 397.0,81.4 397.2,81.7 397.3,81.3 397.4,82.5 397.5,82.1 397.6,81.5 397.8,82.5 397.9,82.3 398.0,81.9 398.1,81.4 398.2,81.8 398.3,81.9 398.5,82.3 398.6,81.5 398.7,81.3 398.8,82.7 398.9,82.3 399.1,81.7 399.2,81.1 399.3,81.8 399.4,82.1 399.5,81.9 399.6,81.9 399.8,81.6 399.9,82.1 400.0,81.2 400.1,81.3 400.2,81.3 400.4,81.2 400.5,82.5 400.6,80.7 400.7,81.6 400.8,81.1 400.9,81.0 401.1,81.6 401.2,80.8 401.3,81.6 401.4,82.8 401.5,81.6 401.7,81.9 401.8,81.3 401.9,82.0 402.0,81.0 402.1,81.9 402.2,81.7 402.4,82.9 402.5,81.8 402.6,81.6 402.7,81.5 402.8,81.2 403.0,82.2 403.1,82.6 403.2,81.7 403.3,82.2 403.4,81.7 403.5,82.1 403.7,82.1 403.8,81.2 403.9,81.5 404.0,82.4 404.1,81.0 404.3,82.0 404.4,81.8 404.5,81.5 404.6,82.0 404.7,82.2 404.8,82.3 405.0,80.7 405.1,82.9 405.2,81.9 405.3,82.6 405.4,82.1 405.6,81.9 405.7,82.1 405.8,83.8 405.9,83.0 406.0,82.1 406.1,82.4 406.3,82.8 406.4,82.6 406.5,82.4 406.6,82.3 406.7,81.9 406.8,82.8 407.0,83.0 407.1,83.6 407.2,82.2 407.3,82.8 407.4,82.5 407.6,83.1 407.7,82.5 407.8,82.2 407.9,81.7 408.0,82.9 408.1,82.6 408.3,83.1 408.4,82.3 408.5,83.9 408.6,82.2 408.7,82.8 408.9,82.8 409.0,83.1 409.1,82.5 409.2,82.1 409.3,82.1 409.4,83.0 409.6,82.7 409.7,82.8 409.8,82.3 409.9,82.8 410.0,82.8 410.2,83.1 410.3,82.0 410.4,82.4 410.5,83.7 410.6,82.7 410.7,82.8 410.9,82.7 411.0,82.2 411.1,82.4 411.2,83.2 411.3,82.7 411.5,84.1 411.6,82.3 411.7,82.1 411.8,82.9 411.9,82.5 412.0,83.8 412.2,83.0 412.3,83.4 412.4,82.5 412.5,83.5 412.6,83.5 412.8,83.9 412.9,83.3 413.0,83.5 413.1,83.3 413.2,83.7 413.3,83.0 413.5,83.5 413.6,83.0 413.7,83.6 413.8,83.1 413.9,82.9 414.1,82.9 414.2,84.0 414.3,82.5 414.4,82.5 414.5,83.6 414.6,82.8 414.8,83.1 414.9,83.0 415.0,84.4 415.1,83.0 415.2,83.0 415.4,83.1 415.5,83.5 415.6,83.6 415.7,82.6 415.8,83.6 415.9,84.4 416.1,82.5 416.2,83.7 416.3,83.8 416.4,83.5 416.5,83.3 416.6,82.3 416.8,84.1 416.9,83.3 417.0,83.4 417.1,84.1 417.2,82.4 417.4,83.5 417.5,83.9 417.6,83.9 417.7,83.9 417.8,84.6 417.9,83.8 418.1,84.1 418.2,84.0 418.3,82.9 418.4,83.3 418.5,84.7 418.7,83.5 418.8,83.6 418.9,83.0 419.0,83.5 419.1,83.0 419.2,83.3 419.4,83.9 419.5,83.2 419.6,83.3 419.7,84.3 419.8,83.8 420.0,83.9 420.1,84.1 420.2,83.4 420.3,83.5 420.4,82.6 420.5,84.1 420.7,83.6 420.8,83.7 420.9,83.2 421.0,84.1 421.1,84.1 421.3,83.9 421.4,83.1 421.5,83.5 421.6,83.9 421.7,83.5 421.8,84.2 422.0,84.5 422.1,83.7 422.2,84.0 422.3,83.8 422.4,84.7 422.6,84.6 422.7,85.6 422.8,84.3 422.9,83.9 423.0,84.6 423.1,84.3 423.3,84.6 423.4,85.1 423.5,84.4 423.6,85.0 423.7,83.6 423.9,85.2 424.0,84.8 424.1,84.6 424.2,84.5 424.3,85.5 424.4,84.6 424.6,85.5 424.7,84.6 424.8,84.9 424.9,85.1 425.0,85.9 425.2,85.1 425.3,85.1 425.4,84.9 425.5,84.8 425.6,84.7 425.7,85.9 425.9,85.7 426.0,84.7 426.1,85.1 426.2,84.5 426.3,85.5 426.5,85.4 426.6,85.2 426.7,84.8 426.8,85.6 426.9,85.5 427.0,85.2 427.2,85.7 427.3,84.7 427.4,85.1 427.5,85.0 427.6,85.6 427.7,86.4 427.9,85.7 428.0,86.3 428.1,85.8 428.2,85.6 428.3,86.4 428.5,86.2 428.6,86.7 428.7,86.6 428.8,85.7 428.9,84.8 429.0,86.1 429.2,85.5 429.3,85.4 429.4,85.3 429.5,85.7 429.6,85.9 429.8,86.0 429.9,87.0 430.0,85.4 430.1,86.0 430.2,85.3 430.3,85.4 430.5,85.9 430.6,86.1 430.7,85.2 430.8,86.4 430.9,85.3 431.1,86.3 431.2,85.7 431.3,86.2 431.4,86.0 431.5,85.6 431.6,85.9 431.8,85.0 431.9,85.0 432.0,85.5 432.1,86.3 432.2,85.3 432.4,85.3 432.5,86.4 432.6,85.6 432.7,85.6 432.8,85.1 432.9,85.6 433.1,85.9 433.2,85.5 433.3,85.9 433.4,85.7 433.5,86.0 433.7,85.9 433.8,85.4 433.9,85.8 434.0,86.3 434.1,85.5 434.2,84.7 434.4,85.3 434.5,85.1 434.6,86.4 434.7,85.5 434.8,84.5 435.0,84.9 435.1,85.7 435.2,84.3 435.3,84.6 435.4,84.8 435.5,84.7 435.7,84.4 435.8,84.8 435.9,83.9 436.0,84.3 436.1,84.3 436.3,84.4 436.4,84.3 436.5,84.4 436.6,84.2 436.7,84.2 436.8,84.5 437.0,84.8 437.1,84.8 437.2,83.7 437.3,84.3 437.4,84.6 437.5,84.0 437.7,84.4 437.8,84.0 437.9,84.2 438.0,83.3 438.1,84.2 438.3,83.7 438.4,83.5 438.5,83.7 438.6,84.3 438.7,84.3 438.8,83.9 439.0,84.1 439.1,83.5 439.2,83.0 439.3,82.6 439.4,83.5 439.6,83.4 439.7,83.5 439.8,83.5 439.9,84.0 440.0,82.9 440.1,82.9 440.3,84.3 440.4,83.7 440.5,83.1 440.6,82.2 440.7,82.8 440.9,83.0 441.0,83.1 441.1,83.3 441.2,83.1 441.3,83.7 441.4,82.6 441.6,83.0 441.7,82.8 441.8,83.5 441.9,83.2 442.0,83.5 442.2,83.2 442.3,85.0 442.4,83.5 442.5,82.7 442.6,83.1 442.7,82.9 442.9,83.5 443.0,83.6 443.1,83.3 443.2,83.0 443.3,82.7 443.5,83.8 443.6,83.6 443.7,81.5 443.8,83.0 443.9,82.5 444.0,82.7 444.2,83.7 444.3,82.3 444.4,82.3 444.5,84.0 444.6,82.6 444.8,82.6 444.9,83.3 445.0,82.5 445.1,82.7 445.2,82.8 445.3,83.4 445.5,81.8 445.6,82.2 445.7,82.6 445.8,83.1 445.9,82.3 446.1,82.8 446.2,82.4 446.3,82.4 446.4,83.3 446.5,82.5 446.6,84.1 446.8,82.8 446.9,83.2 447.0,83.0 447.1,81.9 447.2,81.9 447.4,82.9 447.5,82.1 447.6,82.4 447.7,82.5 447.8,82.2 447.9,83.3 448.1,83.1 448.2,82.7 448.3,82.9 448.4,82.2 448.5,83.1 448.6,82.2 448.8,83.4 448.9,82.2 449.0,82.2 449.1,83.1 449.2,82.8 449.4,81.9 449.5,82.7 449.6,82.3 449.7,82.3 449.8,82.6 449.9,82.5 450.1,82.7 450.2,82.4 450.3,82.3 450.4,82.0 450.5,82.8 450.7,81.6 450.8,82.9 450.9,83.0 451.0,83.0 451.1,81.8 451.2,82.9 451.4,82.4 451.5,82.4 451.6,83.5 451.7,81.9 451.8,82.1 452.0,81.2 452.1,80.7 452.2,82.0 452.3,82.1 452.4,82.3 452.5,82.1 452.7,81.0 452.8,82.3 452.9,82.7 453.0,83.0 453.1,81.9 453.3,82.0 453.4,82.2 453.5,82.3 453.6,81.8 453.7,82.4 453.8,83.6 454.0,82.3 454.1,82.0 454.2,82.9 454.3,82.8 454.4,83.4 454.6,82.8 454.7,83.1 454.8,82.8 454.9,82.7 455.0,83.4 455.1,83.3 455.3,83.2 455.4,83.5 455.5,82.9 455.6,83.3 455.7,83.4 455.9,83.9 456.0,82.3 456.1,83.1 456.2,83.5 456.3,83.0 456.4,83.4 456.6,83.7 456.7,83.6 456.8,82.5 456.9,82.8 457.0,82.0 457.2,83.8 457.3,83.6 457.4,84.2 457.5,83.6 457.6,83.0 457.7,84.2 457.9,83.0 458.0,83.7 458.1,83.7 458.2,84.3 458.3,84.4 458.5,83.8 458.6,83.7 458.7,84.1 458.8,83.9 458.9,84.8 459.0,84.5 459.2,85.1 459.3,85.8 459.4,84.1 459.5,84.2 459.6,84.8 459.7,84.7 459.9,84.4 460.0,83.7 460.1,85.8 460.2,84.6 460.3,83.9 460.5,83.3 460.6,85.2 460.7,84.6 460.8,84.4 460.9,83.8 461.0,84.3 461.2,84.1 461.3,83.0 461.4,85.5 461.5,84.4 461.6,83.9 461.8,83.6 461.9,83.7 462.0,85.2 462.1,84.1 462.2,83.2 462.3,84.3 462.5,84.1 462.6,84.1 462.7,83.7 462.8,83.6 462.9,83.8 463.1,83.6 463.2,82.9 463.3,83.1 463.4,83.6 463.5,82.8 463.6,83.5 463.8,83.4 463.9,83.9 464.0,83.5 464.1,83.3 464.2,83.3 464.4,83.6 464.5,83.8 464.6,82.8 464.7,82.5 464.8,82.9 464.9,82.1 465.1,82.8 465.2,83.6 465.3,83.7 465.4,83.9 465.5,83.1 465.7,83.2 465.8,82.8 465.9,82.8 466.0,83.2 466.1,83.4 466.2,83.2 466.4,81.9 466.5,83.2 466.6,82.9 466.7,82.6 466.8,82.9 467.0,83.3 467.1,82.9 467.2,82.5 467.3,84.5 467.4,82.5 467.5,83.0 467.7,83.4 467.8,82.4 467.9,83.1 468.0,82.4 468.1,82.7 468.3,82.4 468.4,83.7 468.5,82.1 468.6,83.0 468.7,82.8 468.8,81.7 469.0,83.6 469.1,82.4 469.2,82.6 469.3,82.8 469.4,82.2 469.5,82.3 469.7,82.6 469.8,82.2 469.9,82.7 470.0,83.2 470.1,82.1 470.3,81.9 470.4,82.6 470.5,82.9 470.6,83.1 470.7,82.2 470.8,81.6 471.0,83.3 471.1,83.3 471.2,83.7 471.3,82.5 471.4,83.3 471.6,83.6 471.7,82.2 471.8,83.7 471.9,84.0 472.0,83.6 472.1,83.6 472.3,83.8 472.4,83.3 472.5,82.8 472.6,83.1 472.7,83.5 472.9,83.2 473.0,84.2 473.1,83.5 473.2,83.7 473.3,82.9 473.4,84.0 473.6,83.5 473.7,84.6 473.8,83.0 473.9,84.0 474.0,83.7 474.2,83.7 474.3,84.7 474.4,84.4 474.5,83.5 474.6,84.6 474.7,83.6 474.9,84.3 475.0,83.0 475.1,83.7 475.2,83.8 475.3,83.8 475.5,83.1 475.6,83.0 475.7,83.9 475.8,84.3 475.9,84.0 476.0,83.8 476.2,83.3 476.3,83.9 476.4,83.8 476.5,83.7 476.6,84.2 476.8,84.2 476.9,84.4 477.0,84.1 477.1,83.7 477.2,84.0 477.3,83.9 477.5,83.2 477.6,83.8 477.7,83.1 477.8,82.9 477.9,83.4 478.1,83.5 478.2,84.1 478.3,83.6 478.4,83.9 478.5,84.4 478.6,83.7 478.8,83.8 478.9,83.2 479.0,83.9 479.1,83.5 479.2,83.4 479.4,82.8 479.5,82.9 479.6,83.0 479.7,83.3 479.8,83.8 479.9,82.5 480.1,83.0 480.2,83.0 480.3,84.3 480.4,83.0 480.5,82.8 480.6,83.4 480.8,82.4 480.9,83.2 481.0,82.0 481.1,83.8 481.2,82.8 481.4,82.5 481.5,82.0 481.6,82.6 481.7,82.6 481.8,82.2 481.9,83.1 482.1,82.3 482.2,82.4 482.3,82.4 482.4,82.9 482.5,82.0 482.7,82.2 482.8,82.2 482.9,82.3 483.0,81.0 483.1,82.4 483.2,81.7 483.4,81.4 483.5,81.6 483.6,80.6 483.7,81.1 483.8,81.6 484.0,82.1 484.1,81.3 484.2,81.5 484.3,81.1 484.4,81.6 484.5,80.9 484.7,81.3 484.8,80.8 484.9,80.5 485.0,80.4 485.1,80.5 485.3,81.4 485.4,82.3 485.5,80.6 485.6,80.3 485.7,80.9 485.8,80.8 486.0,80.2 486.1,81.4 486.2,80.9 486.3,80.9 486.4,80.4 486.6,80.3 486.7,80.6 486.8,79.3 486.9,79.5 487.0,79.8 487.1,78.9 487.3,80.4 487.4,79.1 487.5,79.1 487.6,79.4 487.7,79.9 487.9,79.0 488.0,78.5 488.1,78.3 488.2,78.8 488.3,78.3 488.4,79.6 488.6,79.0 488.7,76.6 488.8,77.6 488.9,78.1 489.0,79.0 489.2,76.7 489.3,77.4 489.4,78.1 489.5,77.0 489.6,77.3 489.7,76.9 489.9,77.5 490.0,76.5 490.1,77.0 490.2,76.2 490.3,77.4 490.4,77.2 490.6,76.8 490.7,76.8 490.8,76.7 490.9,76.5 491.0,76.7 491.2,76.7 491.3,76.5 491.4,76.2 491.5,76.2 491.6,76.1 491.7,76.6 491.9,76.4 492.0,77.2 492.1,76.1 492.2,76.2 492.3,75.8 492.5,76.1 492.6,75.8 492.7,75.5 492.8,76.0 492.9,76.6 493.0,75.4 493.2,75.4 493.3,75.7 493.4,75.7 493.5,76.2 493.6,75.2 493.8,75.4 493.9,75.0 494.0,74.9 494.1,75.0 494.2,74.6 494.3,75.3 494.5,75.5 494.6,74.7 494.7,74.5 494.8,75.5 494.9,74.6 495.1,75.4 495.2,73.1 495.3,74.4 495.4,73.9 495.5,74.1 495.6,74.7 495.8,74.8 495.9,74.1 496.0,74.6 496.1,73.5 496.2,74.1 496.4,73.9 496.5,73.0 496.6,74.3 496.7,73.4 496.8,73.9 496.9,73.3 497.1,73.7 497.2,73.9 497.3,73.5 497.4,73.3 497.5,73.8 497.7,73.5 497.8,73.2 497.9,73.4 498.0,73.3 498.1,73.1 498.2,73.7 498.4,74.1 498.5,72.9 498.6,73.1 498.7,72.6 498.8,72.4 499.0,73.6 499.1,72.6 499.2,73.1 499.3,72.2 499.4,72.5 499.5,73.1 499.7,73.1 499.8,73.0 499.9,73.1 500.0,73.0 500.1,73.4 500.3,73.8 500.4,73.3 500.5,72.9 500.6,72.5 500.7,72.8 500.8,72.9 501.0,73.8 501.1,72.3 501.2,72.7 501.3,72.6 501.4,73.6 501.5,72.8 501.7,72.3 501.8,72.3 501.9,73.5 502.0,72.7 502.1,74.1 502.3,74.2 502.4,73.2 502.5,73.6 502.6,73.9 502.7,73.2 502.8,73.5 503.0,73.8 503.1,74.2 503.2,74.5 503.3,73.5 503.4,74.7 503.6,74.6 503.7,74.6 503.8,74.6 503.9,75.4 504.0,75.8 504.1,74.9 504.3,75.2 504.4,74.5 504.5,75.2 504.6,75.9 504.7,75.6 504.9,75.9 505.0,75.8 505.1,75.9 505.2,76.1 505.3,76.1 505.4,74.7 505.6,75.5 505.7,74.1 505.8,75.5 505.9,75.2 506.0,75.1 506.2,76.1 506.3,75.5 506.4,75.8 506.5,75.5 506.6,75.9 506.7,74.9 506.9,74.8 507.0,74.8 507.1,76.0 507.2,74.5 507.3,74.6 507.5,75.2 507.6,74.9 507.7,74.1 507.8,75.2 507.9,74.4 508.0,74.9 508.2,74.5 508.3,74.5 508.4,73.8 508.5,74.9 508.6,73.8 508.8,74.2 508.9,74.8 509.0,74.1 509.1,74.3 509.2,74.3 509.3,74.4 509.5,74.6 509.6,73.6 509.7,74.1 509.8,75.4 509.9,73.5 510.1,74.2 510.2,74.9 510.3,73.6 510.4,74.2 510.5,74.3 510.6,75.5 510.8,74.3 510.9,75.1 511.0,74.5 511.1,74.9 511.2,74.4 511.3,74.2 511.5,74.8 511.6,74.3 511.7,74.9 511.8,75.0 511.9,75.2 512.1,75.7 512.2,75.6 512.3,74.4 512.4,74.5 512.5,75.7 512.6,74.8 512.8,74.6 512.9,75.3 513.0,74.5 513.1,75.2 513.2,74.6 513.4,75.3 513.5,74.6 513.6,75.0 513.7,75.1 513.8,75.3 513.9,74.1 514.1,74.3 514.2,73.7 514.3,73.5 514.4,74.1 514.5,74.4 514.7,74.9 514.8,74.0 514.9,75.2 515.0,74.3 515.1,74.6 515.2,74.0 515.4,73.4 515.5,74.8 515.6,73.9 515.7,74.5 515.8,73.8 516.0,74.2 516.1,73.8 516.2,73.7 516.3,73.8 516.4,74.2 516.5,73.2 516.7,73.3 516.8,74.3 516.9,73.4 517.0,73.9 517.1,73.1 517.3,73.6 517.4,74.3 517.5,73.8 517.6,73.8 517.7,73.5 517.8,73.8 518.0,72.8 518.1,72.9 518.2,73.9 518.3,72.8 518.4,74.3 518.6,74.0 518.7,73.0 518.8,72.5 518.9,72.4 519.0,73.7 519.1,73.5 519.3,74.2 519.4,73.7 519.5,74.3 519.6,73.9 519.7,73.0 519.9,73.3 520.0,73.0 520.1,73.2 520.2,73.1 520.3,73.2 520.4,74.0 520.6,73.0 520.7,72.7 520.8,72.9 520.9,73.0 521.0,72.9 521.2,73.1 521.3,72.9 521.4,73.7 521.5,73.6 521.6,72.7 521.7,73.5 521.9,73.7 522.0,73.0 522.1,72.5 522.2,73.2 522.3,72.9 522.4,73.1 522.6,72.3 522.7,73.9 522.8,72.7 522.9,73.1 523.0,72.5 523.2,72.8 523.3,71.6 523.4,72.1 523.5,71.5 523.6,73.2 523.7,72.0 523.9,71.9 524.0,73.2 524.1,72.4 524.2,72.5 524.3,73.1 524.5,72.8 524.6,72.7 524.7,72.9 524.8,71.7 524.9,73.3 525.0,73.4 525.2,73.7 525.3,71.8 525.4,72.4 525.5,72.6 525.6,73.8 525.8,73.3 525.9,73.9 526.0,73.3 526.1,72.8 526.2,72.6 526.3,73.0 526.5,74.0 526.6,73.0 526.7,72.6"/>
<polyline fill="none" stroke="#00B0F0" stroke-width="1.3" stroke-linejoin="round" points="54.5,139.0 54.6,138.7 54.7,138.9 54.9,137.6 55.0,140.8 55.1,140.5 55.2,139.6 55.3,140.6 55.4,140.9 55.6,139.9 55.7,141.1 55.8,140.3 55.9,142.0 56.0,140.3 56.2,141.3 56.3,141.0 56.4,143.2 56.5,140.9 56.6,141.6 56.7,141.0 56.9,142.4 57.0,142.2 57.1,142.6 57.2,146.1 57.3,142.1 57.5,144.7 57.6,144.8 57.7,143.0 57.8,142.7 57.9,144.2 58.0,145.0 58.2,144.7 58.3,146.3 58.4,145.7 58.5,145.6 58.6,145.8 58.8,145.6 58.9,146.5 59.0,145.3 59.1,145.9 59.2,146.6 59.3,147.8 59.5,146.2 59.6,146.9 59.7,146.4 59.8,147.3 59.9,146.3 60.0,147.2 60.2,144.7 60.3,146.6 60.4,146.4 60.5,144.5 60.6,146.3 60.8,146.0 60.9,145.0 61.0,145.5 61.1,146.3 61.2,144.6 61.3,144.1 61.5,143.6 61.6,144.6 61.7,144.0 61.8,144.3 61.9,144.6 62.1,145.4 62.2,144.4 62.3,144.4 62.4,144.0 62.5,146.8 62.6,146.8 62.8,147.6 62.9,146.7 63.0,146.4 63.1,149.6 63.2,147.3 63.4,146.7 63.5,147.2 63.6,149.3 63.7,148.5 63.8,148.7 63.9,148.5 64.1,150.1 64.2,150.1 64.3,150.6 64.4,148.7 64.5,149.2 64.7,148.8 64.8,150.4 64.9,151.5 65.0,149.3 65.1,150.9 65.2,149.6 65.4,150.3 65.5,152.0 65.6,150.3 65.7,151.0 65.8,150.4 66.0,150.3 66.1,150.5 66.2,150.5 66.3,150.1 66.4,151.2 66.5,151.8 66.7,152.3 66.8,152.2 66.9,153.7 67.0,152.3 67.1,151.9 67.3,153.7 67.4,151.8 67.5,153.3 67.6,152.8 67.7,153.7 67.8,151.4 68.0,153.4 68.1,152.7 68.2,152.2 68.3,154.1 68.4,153.5 68.6,153.0 68.7,152.5 68.8,153.1 68.9,153.8 69.0,153.8 69.1,153.8 69.3,152.8 69.4,153.1 69.5,153.2 69.6,152.5 69.7,153.1 69.9,153.5 70.0,154.1 70.1,154.6 70.2,153.8 70.3,154.1 70.4,153.9 70.6,155.6 70.7,154.8 70.8,154.3 70.9,153.4 71.0,153.9 71.1,154.3 71.3,153.9 71.4,154.5 71.5,153.2 71.6,156.8 71.7,153.8 71.9,158.9 72.0,154.4 72.1,155.4 72.2,154.2 72.3,155.1 72.4,155.3 72.6,154.8 72.7,155.0 72.8,154.8 72.9,155.3 73.0,155.7 73.2,155.7 73.3,155.2 73.4,154.4 73.5,154.8 73.6,155.3 73.7,154.4 73.9,156.1 74.0,155.5 74.1,155.5 74.2,156.5 74.3,156.3 74.5,156.8 74.6,155.2 74.7,156.3 74.8,156.6 74.9,155.4 75.0,157.4 75.2,156.4 75.3,154.7 75.4,156.4 75.5,155.3 75.6,157.6 75.8,156.8 75.9,155.5 76.0,158.0 76.1,156.4 76.2,156.9 76.3,157.4 76.5,156.9 76.6,156.2 76.7,156.8 76.8,155.0 76.9,156.6 77.1,157.7 77.2,156.5 77.3,156.0 77.4,156.9 77.5,157.9 77.6,156.7 77.8,155.8 77.9,157.6 78.0,155.3 78.1,157.0 78.2,156.3 78.4,157.3 78.5,156.1 78.6,157.9 78.7,157.0 78.8,155.6 78.9,155.5 79.1,156.6 79.2,157.8 79.3,157.0 79.4,157.0 79.5,156.8 79.7,157.6 79.8,157.4 79.9,157.3 80.0,156.7 80.1,158.0 80.2,158.8 80.4,156.3 80.5,158.9 80.6,157.9 80.7,157.0 80.8,156.0 80.9,157.8 81.1,157.7 81.2,156.9 81.3,156.1 81.4,158.1 81.5,156.9 81.7,158.2 81.8,159.3 81.9,158.8 82.0,158.0 82.1,157.0 82.2,157.8 82.4,156.2 82.5,157.4 82.6,156.8 82.7,156.4 82.8,156.2 83.0,158.0 83.1,157.4 83.2,157.4 83.3,157.9 83.4,156.7 83.5,156.5 83.7,156.1 83.8,157.3 83.9,157.9 84.0,157.3 84.1,157.9 84.3,156.6 84.4,157.2 84.5,157.0 84.6,156.7 84.7,158.9 84.8,158.2 85.0,157.1 85.1,157.2 85.2,157.7 85.3,156.8 85.4,158.1 85.6,157.0 85.7,157.7 85.8,157.2 85.9,158.6 86.0,157.1 86.1,157.0 86.3,157.5 86.4,157.7 86.5,158.0 86.6,158.3 86.7,159.3 86.9,158.8 87.0,158.1 87.1,158.8 87.2,157.9 87.3,162.0 87.4,158.8 87.6,157.5 87.7,159.0 87.8,159.7 87.9,156.9 88.0,158.1 88.2,158.3 88.3,157.5 88.4,157.9 88.5,158.1 88.6,159.1 88.7,159.8 88.9,160.7 89.0,158.8 89.1,159.7 89.2,159.0 89.3,159.5 89.5,158.2 89.6,159.7 89.7,158.6 89.8,159.7 89.9,160.4 90.0,159.7 90.2,159.7 90.3,158.8 90.4,160.5 90.5,160.5 90.6,160.6 90.8,160.1 90.9,159.0 91.0,160.8 91.1,160.1 91.2,161.2 91.3,161.1 91.5,160.3 91.6,159.8 91.7,159.3 91.8,161.1 91.9,159.9 92.0,161.3 92.2,161.9 92.3,159.2 92.4,160.5 92.5,160.7 92.6,160.0 92.8,160.7 92.9,160.6 93.0,161.4 93.1,160.2 93.2,161.4 93.3,161.1 93.5,160.4 93.6,159.8 93.7,160.3 93.8,161.2 93.9,160.6 94.1,160.8 94.2,159.9 94.3,162.9 94.4,161.2 94.5,160.7 94.6,162.0 94.8,161.3 94.9,160.0 95.0,159.6 95.1,161.5 95.2,160.7 95.4,161.4 95.5,161.4 95.6,161.9 95.7,161.7 95.8,162.3 95.9,161.0 96.1,161.6 96.2,160.0 96.3,162.4 96.4,163.5 96.5,163.2 96.7,161.0 96.8,163.1 96.9,160.8 97.0,161.1 97.1,160.7 97.2,161.5 97.4,160.8 97.5,161.3 97.6,162.0 97.7,160.3 97.8,162.5 98.0,159.9 98.1,159.8 98.2,162.9 98.3,161.3 98.4,161.7 98.5,160.3 98.7,161.4 98.8,161.7 98.9,162.4 99.0,161.5 99.1,162.0 99.3,160.9 99.4,161.5 99.5,161.4 99.6,162.2 99.7,161.1 99.8,161.7 100.0,162.4 100.1,163.0 100.2,162.0 100.3,162.1 100.4,162.1 100.6,162.6 100.7,162.4 100.8,163.0 100.9,162.1 101.0,161.2 101.1,161.5 101.3,161.2 101.4,161.1 101.5,163.6 101.6,163.3 101.7,161.0 101.8,163.2 102.0,162.1 102.1,161.2 102.2,162.2 102.3,161.9 102.4,161.4 102.6,160.6 102.7,162.0 102.8,162.1 102.9,161.5 103.0,162.3 103.1,162.4 103.3,161.6 103.4,162.0 103.5,161.7 103.6,161.3 103.7,161.7 103.9,164.4 104.0,160.9 104.1,162.1 104.2,162.1 104.3,161.4 104.4,161.6 104.6,160.9 104.7,161.5 104.8,162.3 104.9,162.1 105.0,161.3 105.2,164.0 105.3,161.5 105.4,162.8 105.5,163.0 105.6,161.5 105.7,162.7 105.9,161.4 106.0,162.9 106.1,162.5 106.2,161.2 106.3,162.4 106.5,161.2 106.6,163.6 106.7,161.4 106.8,160.9 106.9,161.9 107.0,160.7 107.2,161.2 107.3,161.0 107.4,162.5 107.5,161.5 107.6,161.4 107.8,162.5 107.9,160.3 108.0,163.0 108.1,160.9 108.2,160.5 108.3,160.7 108.5,160.9 108.6,162.1 108.7,161.4 108.8,161.2 108.9,162.5 109.1,161.8 109.2,161.5 109.3,161.9 109.4,161.1 109.5,162.1 109.6,162.0 109.8,162.1 109.9,160.9 110.0,163.2 110.1,161.9 110.2,163.9 110.4,161.4 110.5,162.4 110.6,161.5 110.7,162.0 110.8,162.4 110.9,161.3 111.1,162.4 111.2,163.0 111.3,162.3 111.4,162.2 111.5,162.5 111.7,162.4 111.8,162.0 111.9,161.9 112.0,161.0 112.1,161.2 112.2,161.3 112.4,162.2 112.5,161.4 112.6,162.0 112.7,162.0 112.8,161.0 112.9,161.0 113.1,161.3 113.2,161.8 113.3,159.7 113.4,160.6 113.5,161.5 113.7,161.1 113.8,160.7 113.9,160.9 114.0,162.5 114.1,160.9 114.2,161.8 114.4,161.8 114.5,160.9 114.6,161.5 114.7,160.9 114.8,160.7 115.0,161.8 115.1,161.9 115.2,160.9 115.3,160.8 115.4,160.4 115.5,162.4 115.7,164.3 115.8,161.1 115.9,160.7 116.0,160.1 116.1,161.4 116.3,161.4 116.4,160.2 116.5,162.6 116.6,161.7 116.7,160.5 116.8,161.7 117.0,162.2 117.1,161.3 117.2,161.8 117.3,162.9 117.4,162.5 117.6,161.4 117.7,162.1 117.8,162.1 117.9,161.0 118.0,161.4 118.1,161.7 118.3,161.7 118.4,161.2 118.5,160.7 118.6,161.1 118.7,160.5 118.9,160.7 119.0,160.1 119.1,161.1 119.2,160.3 119.3,160.6 119.4,160.9 119.6,161.1 119.7,162.2 119.8,161.0 119.9,159.8 120.0,160.9 120.2,160.4 120.3,161.0 120.4,160.3 120.5,160.2 120.6,160.9 120.7,160.3 120.9,159.4 121.0,160.2 121.1,160.6 121.2,161.5 121.3,160.4 121.5,160.3 121.6,161.0 121.7,162.6 121.8,161.7 121.9,161.3 122.0,160.5 122.2,161.5 122.3,161.6 122.4,160.2 122.5,161.2 122.6,160.6 122.7,160.4 122.9,160.4 123.0,160.3 123.1,160.1 123.2,161.3 123.3,160.3 123.5,160.7 123.6,160.5 123.7,161.4 123.8,159.4 123.9,161.9 124.0,161.3 124.2,160.1 124.3,162.9 124.4,160.2 124.5,159.1 124.6,160.3 124.8,161.2 124.9,159.4 125.0,160.5 125.1,162.8 125.2,158.8 125.3,160.5 125.5,161.1 125.6,159.9 125.7,160.2 125.8,161.8 125.9,160.0 126.1,159.8 126.2,159.8 126.3,159.7 126.4,159.0 126.5,161.1 126.6,160.5 126.8,158.7 126.9,159.4 127.0,160.2 127.1,160.2 127.2,159.2 127.4,159.8 127.5,160.1 127.6,160.1 127.7,160.1 127.8,158.6 127.9,161.3 128.1,160.0 128.2,161.1 128.3,161.8 128.4,160.5 128.5,159.0 128.7,160.4 128.8,159.7 128.9,160.2 129.0,159.8 129.1,161.0 129.2,159.6 129.4,158.9 129.5,159.6 129.6,159.1 129.7,160.0 129.8,159.6 130.0,159.2 130.1,160.9 130.2,159.5 130.3,162.6 130.4,160.8 130.5,159.6 130.7,159.4 130.8,160.8 130.9,160.5 131.0,159.9 131.1,160.1 131.3,159.8 131.4,160.0 131.5,160.3 131.6,159.3 131.7,159.5 131.8,159.8 132.0,159.3 132.1,159.8 132.2,160.1 132.3,159.7 132.4,159.3 132.6,159.1 132.7,160.9 132.8,160.3 132.9,158.9 133.0,159.0 133.1,160.9 133.3,160.6 133.4,159.7 133.5,162.2 133.6,158.5 133.7,159.8 133.8,160.1 134.0,158.4 134.1,159.2 134.2,160.0 134.3,160.2 134.4,159.0 134.6,162.0 134.7,160.5 134.8,159.1 134.9,158.4 135.0,159.3 135.1,159.1 135.3,160.3 135.4,159.4 135.5,160.0 135.6,160.9 135.7,158.9 135.9,162.2 136.0,159.7 136.1,159.7 136.2,159.2 136.3,159.5 136.4,160.8 136.6,158.0 136.7,158.9 136.8,158.8 136.9,158.9 137.0,159.1 137.2,158.8 137.3,161.0 137.4,160.4 137.5,157.5 137.6,159.0 137.7,158.5 137.9,157.3 138.0,159.3 138.1,158.6 138.2,160.2 138.3,158.6 138.5,160.3 138.6,159.9 138.7,159.3 138.8,160.3 138.9,159.0 139.0,159.9 139.2,158.7 139.3,159.2 139.4,158.8 139.5,159.3 139.6,159.6 139.8,159.2 139.9,159.8 140.0,160.8 140.1,157.4 140.2,159.0 140.3,159.7 140.5,158.5 140.6,157.9 140.7,158.9 140.8,158.6 140.9,158.4 141.1,158.6 141.2,158.4 141.3,157.2 141.4,159.5 141.5,159.0 141.6,158.1 141.8,159.0 141.9,158.3 142.0,157.4 142.1,159.5 142.2,157.6 142.4,158.6 142.5,158.9 142.6,159.7 142.7,159.6 142.8,159.1 142.9,159.1 143.1,158.6 143.2,161.0 143.3,161.7 143.4,159.3 143.5,158.5 143.7,159.7 143.8,158.8 143.9,159.5 144.0,158.9 144.1,159.5 144.2,159.3 144.4,159.8 144.5,161.0 144.6,159.5 144.7,157.5 144.8,158.0 144.9,159.3 145.1,159.2 145.2,160.7 145.3,162.5 145.4,159.1 145.5,159.9 145.7,159.9 145.8,159.0 145.9,159.5 146.0,158.4 146.1,158.5 146.2,161.1 146.4,160.2 146.5,160.2 146.6,159.9 146.7,159.7 146.8,161.0 147.0,159.6 147.1,158.7 147.2,159.2 147.3,160.0 147.4,159.9 147.5,158.5 147.7,159.8 147.8,160.2 147.9,160.3 148.0,158.4 148.1,158.5 148.3,159.9 148.4,160.4 148.5,160.0 148.6,159.3 148.7,158.5 148.8,159.5 149.0,159.7 149.1,160.7 149.2,160.0 149.3,161.3 149.4,159.8 149.6,160.0 149.7,162.2 149.8,160.8 149.9,160.7 150.0,161.3 150.1,160.6 150.3,159.6 150.4,160.6 150.5,160.2 150.6,160.6 150.7,160.2 150.9,160.4 151.0,161.2 151.1,160.0 151.2,161.7 151.3,161.0 151.4,160.6 151.6,160.1 151.7,160.1 151.8,159.4 151.9,159.9 152.0,158.6 152.2,160.4 152.3,160.6 152.4,161.6 152.5,162.9 152.6,159.6 152.7,160.8 152.9,160.2 153.0,160.6 153.1,159.3 153.2,160.3 153.3,161.2 153.5,161.0 153.6,159.6 153.7,159.0 153.8,159.6 153.9,160.7 154.0,159.9 154.2,159.9 154.3,160.4 154.4,159.8 154.5,161.4 154.6,161.8 154.7,158.3 154.9,160.9 155.0,159.6 155.1,159.9 155.2,158.4 155.3,158.6 155.5,160.0 155.6,159.3 155.7,160.0 155.8,159.3 155.9,159.0 156.0,158.4 156.2,159.0 156.3,158.5 156.4,159.7 156.5,159.5 156.6,159.4 156.8,157.5 156.9,159.8 157.0,161.0 157.1,158.0 157.2,158.1 157.3,158.9 157.5,159.2 157.6,158.4 157.7,157.5 157.8,158.9 157.9,158.8 158.1,160.4 158.2,157.8 158.3,160.4 158.4,159.9 158.5,158.9 158.6,162.7 158.8,159.1 158.9,159.3 159.0,158.1 159.1,158.6 159.2,157.9 159.4,157.5 159.5,160.0 159.6,158.1 159.7,159.7 159.8,159.9 159.9,158.4 160.1,158.5 160.2,160.2 160.3,157.3 160.4,158.9 160.5,158.4 160.7,158.6 160.8,157.6 160.9,157.3 161.0,158.2 161.1,158.6 161.2,162.3 161.4,159.2 161.5,159.5 161.6,160.9 161.7,159.3 161.8,158.6 162.0,159.0 162.1,159.2 162.2,160.5 162.3,158.8 162.4,158.6 162.5,160.7 162.7,158.2 162.8,158.7 162.9,158.6 163.0,158.2 163.1,159.8 163.3,159.3 163.4,158.5 163.5,159.0 163.6,159.0 163.7,159.7 163.8,158.9 164.0,158.5 164.1,159.7 164.2,158.8 164.3,159.4 164.4,160.3 164.6,159.1 164.7,159.5 164.8,160.9 164.9,159.8 165.0,160.5 165.1,158.9 165.3,159.4 165.4,159.4 165.5,160.3 165.6,159.8 165.7,157.6 165.8,159.4 166.0,159.2 166.1,159.4 166.2,160.1 166.3,158.3 166.4,159.9 166.6,157.9 166.7,159.1 166.8,159.3 166.9,161.3 167.0,158.5 167.1,157.7 167.3,159.4 167.4,158.4 167.5,160.9 167.6,158.3 167.7,159.1 167.9,159.6 168.0,159.3 168.1,159.4 168.2,157.6 168.3,159.7 168.4,158.1 168.6,159.2 168.7,157.7 168.8,157.3 168.9,158.2 169.0,158.4 169.2,161.2 169.3,158.5 169.4,158.7 169.5,158.6 169.6,160.3 169.7,157.5 169.9,158.9 170.0,157.9 170.1,159.5 170.2,157.5 170.3,158.7 170.5,157.0 170.6,156.9 170.7,158.8 170.8,158.5 170.9,158.3 171.0,158.4 171.2,157.3 171.3,158.3 171.4,160.9 171.5,157.7 171.6,158.0 171.8,159.1 171.9,157.8 172.0,157.2 172.1,157.2 172.2,159.6 172.3,156.8 172.5,157.6 172.6,157.8 172.7,156.9 172.8,157.8 172.9,159.4 173.1,158.3 173.2,157.6 173.3,158.8 173.4,158.7 173.5,159.8 173.6,157.9 173.8,158.1 173.9,158.5 174.0,158.4 174.1,159.4 174.2,158.4 174.4,160.3 174.5,158.2 174.6,158.4 174.7,157.5 174.8,157.8 174.9,158.2 175.1,158.9 175.2,159.1 175.3,159.1 175.4,159.7 175.5,159.0 175.6,158.4 175.8,157.3 175.9,156.9 176.0,159.0 176.1,159.9 176.2,159.3 176.4,157.6 176.5,159.4 176.6,164.0 176.7,158.4 176.8,158.2 176.9,156.9 177.1,158.8 177.2,157.1 177.3,158.8 177.4,158.7 177.5,159.1 177.7,159.3 177.8,158.8 177.9,158.5 178.0,159.1 178.1,158.3 178.2,157.8 178.4,158.9 178.5,158.3 178.6,157.9 178.7,157.9 178.8,158.6 179.0,160.7 179.1,158.6 179.2,158.1 179.3,157.2 179.4,157.1 179.5,156.6 179.7,158.1 179.8,158.0 179.9,158.7 180.0,156.9 180.1,158.2 180.3,157.6 180.4,157.9 180.5,159.4 180.6,158.1 180.7,158.0 180.8,158.6 181.0,157.6 181.1,159.0 181.2,158.0 181.3,158.8 181.4,158.6 181.6,158.1 181.7,158.4 181.8,157.3 181.9,157.1 182.0,158.9 182.1,158.1 182.3,158.6 182.4,158.2 182.5,158.6 182.6,158.4 182.7,158.3 182.9,158.2 183.0,158.2 183.1,157.7 183.2,159.4 183.3,156.8 183.4,157.9 183.6,159.3 183.7,158.6 183.8,159.0 183.9,158.1 184.0,156.8 184.2,157.4 184.3,156.6 184.4,158.2 184.5,158.5 184.6,157.2 184.7,158.1 184.9,157.1 185.0,156.7 185.1,157.0 185.2,156.2 185.3,156.8 185.5,157.4 185.6,157.7 185.7,158.1 185.8,156.9 185.9,157.4 186.0,158.5 186.2,157.5 186.3,155.1 186.4,156.6 186.5,158.1 186.6,156.3 186.7,157.3 186.9,157.7 187.0,155.8 187.1,157.1 187.2,157.4 187.3,157.3 187.5,156.2 187.6,157.5 187.7,156.9 187.8,157.9 187.9,157.7 188.0,157.0 188.2,157.6 188.3,158.1 188.4,157.0 188.5,156.4 188.6,157.6 188.8,158.2 188.9,157.7 189.0,157.6 189.1,157.5 189.2,157.3 189.3,159.6 189.5,156.7 189.6,159.2 189.7,157.7 189.8,159.3 189.9,158.6 190.1,158.1 190.2,159.9 190.3,158.0 190.4,158.2 190.5,158.4 190.6,157.4 190.8,157.4 190.9,159.3 191.0,156.8 191.1,158.6 191.2,157.9 191.4,158.0 191.5,157.9 191.6,158.8 191.7,159.1 191.8,156.2 191.9,157.4 192.1,157.4 192.2,158.2 192.3,158.7 192.4,158.5 192.5,157.5 192.7,158.1 192.8,156.7 192.9,157.4 193.0,155.8 193.1,158.4 193.2,158.3 193.4,156.7 193.5,158.6 193.6,155.6 193.7,156.6 193.8,157.0 194.0,156.8 194.1,156.2 194.2,156.4 194.3,156.3 194.4,157.0 194.5,157.2 194.7,156.6 194.8,156.7 194.9,156.8 195.0,155.1 195.1,156.7 195.3,156.5 195.4,157.1 195.5,157.3 195.6,157.1 195.7,156.1 195.8,156.7 196.0,157.7 196.1,155.6 196.2,155.7 196.3,157.3 196.4,157.3 196.5,156.0 196.7,157.2 196.8,156.6 196.9,157.4 197.0,157.1 197.1,156.9 197.3,157.6 197.4,158.5 197.5,156.9 197.6,158.1 197.7,157.8 197.8,157.5 198.0,157.4 198.1,157.0 198.2,156.7 198.3,157.3 198.4,157.1 198.6,158.0 198.7,156.1 198.8,156.8 198.9,156.6 199.0,156.9 199.1,157.7 199.3,156.0 199.4,157.4 199.5,156.4 199.6,157.4 199.7,158.1 199.9,156.4 200.0,157.1 200.1,156.6 200.2,156.3 200.3,157.1 200.4,155.1 200.6,155.8 200.7,156.4 200.8,156.3 200.9,156.1 201.0,157.3 201.2,156.6 201.3,155.5 201.4,155.3 201.5,156.3 201.6,154.7 201.7,155.4 201.9,155.9 202.0,155.8 202.1,155.9 202.2,156.2 202.3,155.3 202.5,155.6 202.6,157.3 202.7,155.0 202.8,155.9 202.9,156.0 203.0,155.4 203.2,157.3 203.3,156.7 203.4,156.4 203.5,154.2 203.6,157.2 203.8,156.7 203.9,155.3 204.0,156.7 204.1,156.0 204.2,156.5 204.3,157.1 204.5,157.5 204.6,155.0 204.7,155.7 204.8,154.8 204.9,155.1 205.1,155.2 205.2,155.2 205.3,156.5 205.4,157.5 205.5,155.6 205.6,156.4 205.8,154.5 205.9,155.2 206.0,155.6 206.1,156.9 206.2,156.2 206.4,156.1 206.5,156.6 206.6,156.2 206.7,156.8 206.8,155.2 206.9,154.6 207.1,155.6 207.2,156.5 207.3,156.1 207.4,156.6 207.5,156.5 207.6,156.4 207.8,156.6 207.9,155.7 208.0,157.5 208.1,155.5 208.2,156.1 208.4,155.3 208.5,156.9 208.6,155.3 208.7,157.4 208.8,155.5 208.9,156.6 209.1,156.4 209.2,155.9 209.3,157.4 209.4,156.3 209.5,157.6 209.7,156.3 209.8,156.1 209.9,155.2 210.0,157.7 210.1,157.3 210.2,157.8 210.4,160.8 210.5,158.5 210.6,158.3 210.7,157.1 210.8,155.3 211.0,156.4 211.1,154.9 211.2,157.7 211.3,157.9 211.4,157.6 211.5,156.5 211.7,156.1 211.8,155.5 211.9,156.9 212.0,155.9 212.1,156.2 212.3,156.0 212.4,156.3 212.5,157.0 212.6,157.5 212.7,156.5 212.8,156.7 213.0,156.0 213.1,155.4 213.2,155.5 213.3,157.8 213.4,156.3 213.6,156.8 213.7,156.4 213.8,155.8 213.9,155.5 214.0,155.8 214.1,155.1 214.3,157.5 214.4,156.3 214.5,155.8 214.6,157.5 214.7,155.8 214.9,156.9 215.0,156.0 215.1,156.3 215.2,155.8 215.3,157.6 215.4,157.1 215.6,155.2 215.7,154.5 215.8,157.0 215.9,156.2 216.0,156.7 216.2,155.8 216.3,157.3 216.4,157.3 216.5,155.2 216.6,156.5 216.7,155.5 216.9,154.8 217.0,155.7 217.1,156.3 217.2,154.9 217.3,155.0 217.4,156.7 217.6,155.9 217.7,156.1 217.8,155.0 217.9,157.1 218.0,155.8 218.2,157.2 218.3,155.8 218.4,156.7 218.5,156.2 218.6,154.5 218.7,154.9 218.9,155.4 219.0,156.3 219.1,155.0 219.2,155.1 219.3,155.7 219.5,155.0 219.6,154.7 219.7,155.5 219.8,155.9 219.9,155.6 220.0,155.0 220.2,156.0 220.3,154.3 220.4,155.9 220.5,156.1 220.6,155.5 220.8,154.1 220.9,156.7 221.0,153.2 221.1,154.6 221.2,154.7 221.3,155.9 221.5,154.3 221.6,155.8 221.7,155.3 221.8,155.3 221.9,156.6 222.1,156.5 222.2,155.8 222.3,155.4 222.4,154.1 222.5,157.6 222.6,156.5 222.8,154.6 222.9,155.7 223.0,156.7 223.1,155.6 223.2,154.8 223.4,157.2 223.5,156.1 223.6,155.9 223.7,156.8 223.8,154.1 223.9,155.6 224.1,159.3 224.2,157.2 224.3,155.2 224.4,155.2 224.5,154.6 224.7,155.0 224.8,155.5 224.9,155.8 225.0,155.5 225.1,157.0 225.2,155.9 225.4,156.0 225.5,156.5 225.6,156.1 225.7,155.2 225.8,154.8 226.0,156.0 226.1,155.4 226.2,156.8 226.3,156.0 226.4,154.6 226.5,155.9 226.7,156.4 226.8,155.5 226.9,155.8 227.0,156.1 227.1,156.9 227.3,155.8 227.4,155.6 227.5,155.2 227.6,154.5 227.7,156.6 227.8,156.4 228.0,154.9 228.1,156.0 228.2,155.8 228.3,155.6 228.4,155.3 228.5,156.6 228.7,154.6 228.8,156.0 228.9,155.4 229.0,155.4 229.1,155.2 229.3,155.5 229.4,156.1 229.5,154.7 229.6,155.4 229.7,154.9 229.8,156.3 230.0,154.2 230.1,156.3 230.2,156.3 230.3,155.0 230.4,154.9 230.6,154.8 230.7,155.5 230.8,154.3 230.9,155.1 231.0,155.6 231.1,154.0 231.3,155.3 231.4,154.7 231.5,155.3 231.6,155.7 231.7,155.3 231.9,155.3 232.0,156.0 232.1,154.4 232.2,154.5 232.3,156.2 232.4,155.0 232.6,156.1 232.7,154.9 232.8,155.0 232.9,154.2 233.0,155.7 233.2,154.9 233.3,155.5 233.4,155.4 233.5,155.4 233.6,155.6 233.7,155.0 233.9,155.0 234.0,154.6 234.1,153.5 234.2,157.1 234.3,157.1 234.5,155.8 234.6,156.6 234.7,155.3 234.8,154.3 234.9,154.2 235.0,155.4 235.2,155.6 235.3,154.7 235.4,155.4 235.5,154.2 235.6,155.1 235.8,154.5 235.9,154.8 236.0,155.5 236.1,154.5 236.2,155.6 236.3,155.5 236.5,154.0 236.6,157.6 236.7,153.6 236.8,156.5 236.9,154.9 237.1,154.9 237.2,155.1 237.3,155.2 237.4,154.3 237.5,155.9 237.6,154.5 237.8,154.2 237.9,155.1 238.0,154.1 238.1,154.4 238.2,154.7 238.3,155.0 238.5,155.2 238.6,153.4 238.7,153.1 238.8,154.4 238.9,154.5 239.1,153.8 239.2,154.8 239.3,155.4 239.4,161.2 239.5,157.4 239.6,154.2 239.8,155.6 239.9,156.7 240.0,155.3 240.1,154.0 240.2,155.6 240.4,155.7 240.5,156.4 240.6,155.4 240.7,156.9 240.8,154.1 240.9,154.7 241.1,156.1 241.2,154.8 241.3,154.8 241.4,154.6 241.5,155.9 241.7,154.7 241.8,156.8 241.9,153.7 242.0,153.8 242.1,156.0 242.2,154.5 242.4,154.3 242.5,155.1 242.6,155.1 242.7,153.3 242.8,154.5 243.0,154.7 243.1,154.9 243.2,154.8 243.3,154.3 243.4,156.0 243.5,154.7 243.7,154.3 243.8,153.9 243.9,154.1 244.0,154.5 244.1,155.6 244.3,154.1 244.4,154.7 244.5,154.4 244.6,155.2 244.7,154.7 244.8,153.5 245.0,155.1 245.1,153.2 245.2,154.8 245.3,153.8 245.4,154.7 245.6,155.1 245.7,153.0 245.8,155.2 245.9,154.5 246.0,153.9 246.1,154.5 246.3,153.9 246.4,154.3 246.5,154.5 246.6,154.7 246.7,154.6 246.9,156.1 247.0,156.8 247.1,155.4 247.2,155.5 247.3,154.5 247.4,154.3 247.6,155.5 247.7,155.5 247.8,154.7 247.9,153.4 248.0,152.9 248.2,155.8 248.3,154.3 248.4,154.5 248.5,154.2 248.6,153.1 248.7,153.9 248.9,153.6 249.0,154.1 249.1,154.7 249.2,155.1 249.3,153.2 249.4,154.7 249.6,154.6 249.7,153.7 249.8,152.6 249.9,153.5 250.0,154.0 250.2,155.4 250.3,155.0 250.4,154.2 250.5,153.5 250.6,155.6 250.7,154.4 250.9,153.8 251.0,156.3 251.1,154.7 251.2,154.9 251.3,153.7 251.5,154.0 251.6,154.1 251.7,153.3 251.8,154.5 251.9,153.9 252.0,153.0 252.2,154.7 252.3,154.2 252.4,154.4 252.5,154.7 252.6,155.0 252.8,154.5 252.9,153.1 253.0,154.9 253.1,154.2 253.2,154.0 253.3,153.0 253.5,156.1 253.6,154.7 253.7,154.7 253.8,155.0 253.9,154.5 254.1,153.6 254.2,155.2 254.3,156.6 254.4,154.9 254.5,156.4 254.6,157.3 254.8,154.4 254.9,154.1 255.0,157.4 255.1,154.5 255.2,154.5 255.4,155.6 255.5,154.7 255.6,153.9 255.7,154.2 255.8,153.6 255.9,153.9 256.1,153.7 256.2,152.6 256.3,153.6 256.4,153.5 256.5,154.9 256.7,154.9 256.8,154.0 256.9,154.8 257.0,153.3 257.1,154.4 257.2,153.5 257.4,155.1 257.5,153.9 257.6,153.8 257.7,154.9 257.8,153.6 258.0,152.6 258.1,153.9 258.2,153.5 258.3,154.0 258.4,154.6 258.5,153.4 258.7,153.8 258.8,154.3 258.9,154.5 259.0,154.1 259.1,154.3 259.2,154.5 259.4,154.7 259.5,154.3 259.6,154.3 259.7,152.9 259.8,152.0 260.0,153.5 260.1,155.8 260.2,154.0 260.3,152.3 260.4,153.6 260.5,154.4 260.7,152.6 260.8,154.5 260.9,153.1 261.0,154.6 261.1,153.9 261.3,156.2 261.4,155.9 261.5,154.1 261.6,152.8 261.7,155.1 261.8,153.9 262.0,154.5 262.1,153.9 262.2,153.1 262.3,153.4 262.4,153.0 262.6,153.1 262.7,154.0 262.8,154.9 262.9,156.1 263.0,154.3 263.1,153.5 263.3,154.3 263.4,154.1 263.5,154.5 263.6,155.4 263.7,155.9 263.9,153.6 264.0,153.6 264.1,154.4 264.2,153.7 264.3,153.0 264.4,153.9 264.6,153.2 264.7,155.1 264.8,153.9 264.9,152.9 265.0,154.1 265.2,154.4 265.3,154.1 265.4,153.6 265.5,154.6 265.6,154.4 265.7,157.2 265.9,154.2 266.0,155.5 266.1,153.7 266.2,155.1 266.3,153.9 266.5,152.7 266.6,153.1 266.7,152.7 266.8,153.6 266.9,157.2 267.0,154.1 267.2,154.4 267.3,153.4 267.4,153.9 267.5,153.2 267.6,154.6 267.8,153.8 267.9,155.5 268.0,153.8 268.1,155.5 268.2,154.3 268.3,154.5 268.5,153.1 268.6,153.5 268.7,154.2 268.8,152.7 268.9,154.9 269.1,154.2 269.2,154.0 269.3,153.9 269.4,154.8 269.5,153.7 269.6,155.0 269.8,154.5 269.9,157.1 270.0,154.3 270.1,153.4 270.2,155.0 270.3,153.2 270.5,154.5 270.6,154.5 270.7,154.8 270.8,153.1 270.9,153.8 271.1,154.0 271.2,153.9 271.3,153.4 271.4,154.4 271.5,153.6 271.6,153.8 271.8,152.3 271.9,153.8 272.0,152.7 272.1,154.3 272.2,154.8 272.4,153.4 272.5,153.9 272.6,153.8 272.7,153.6 272.8,153.9 272.9,153.5 273.1,153.3 273.2,153.1 273.3,154.7 273.4,153.6 273.5,153.5 273.7,154.0 273.8,153.2 273.9,153.2 274.0,153.9 274.1,154.1 274.2,154.8 274.4,152.4 274.5,153.5 274.6,153.4 274.7,153.8 274.8,152.9 275.0,154.6 275.1,153.4 275.2,153.1 275.3,152.8 275.4,153.6 275.5,154.3 275.7,153.7 275.8,154.5 275.9,153.0 276.0,154.2 276.1,153.8 276.3,153.2 276.4,153.5 276.5,153.3 276.6,153.7 276.7,153.4 276.8,154.8 277.0,153.7 277.1,153.5 277.2,153.8 277.3,154.2 277.4,153.7 277.6,155.1 277.7,153.3 277.8,153.4 277.9,155.1 278.0,153.9 278.1,155.1 278.3,154.2 278.4,154.3 278.5,153.8 278.6,154.8 278.7,155.2 278.9,153.4 279.0,154.0 279.1,154.5 279.2,153.3 279.3,152.5 279.4,154.0 279.6,154.2 279.7,153.6 279.8,152.3 279.9,153.8 280.0,154.7 280.1,152.3 280.3,151.6 280.4,153.1 280.5,153.3 280.6,153.8 280.7,153.8 280.9,153.3 281.0,154.3 281.1,153.6 281.2,154.1 281.3,158.3 281.4,153.2 281.6,153.8 281.7,153.6 281.8,155.4 281.9,154.1 282.0,152.9 282.2,153.2 282.3,153.5 282.4,152.1 282.5,156.8 282.6,154.1 282.7,154.2 282.9,152.7 283.0,153.0 283.1,152.9 283.2,154.8 283.3,153.6 283.5,152.5 283.6,153.9 283.7,153.8 283.8,154.1 283.9,153.2 284.0,153.5 284.2,153.7 284.3,153.8 284.4,153.7 284.5,153.5 284.6,153.4 284.8,154.4 284.9,154.5 285.0,153.4 285.1,154.1 285.2,153.5 285.3,151.7 285.5,153.7 285.6,153.8 285.7,153.8 285.8,153.4 285.9,152.8 286.1,152.9 286.2,153.9 286.3,154.0 286.4,152.8 286.5,152.9 286.6,153.5 286.8,151.6 286.9,153.3 287.0,154.1 287.1,151.7 287.2,153.5 287.4,152.3 287.5,155.1 287.6,153.8 287.7,152.0 287.8,152.0 287.9,152.8 288.1,151.9 288.2,153.3 288.3,152.9 288.4,153.4 288.5,151.5 288.7,153.2 288.8,153.0 288.9,151.5 289.0,153.3 289.1,151.7 289.2,153.1 289.4,151.8 289.5,153.2 289.6,153.8 289.7,152.7 289.8,152.6 290.0,153.5 290.1,153.7 290.2,152.6 290.3,153.4 290.4,152.8 290.5,154.3 290.7,155.3 290.8,153.8 290.9,152.5 291.0,153.6 291.1,152.4 291.2,153.2 291.4,153.8 291.5,154.2 291.6,151.8 291.7,152.6 291.8,153.3 292.0,152.1 292.1,153.1 292.2,153.2 292.3,152.5 292.4,152.5 292.5,152.4 292.7,153.2 292.8,155.1 292.9,153.2 293.0,154.9 293.1,152.1 293.3,154.3 293.4,153.6 293.5,152.4 293.6,153.4 293.7,153.8 293.8,153.4 294.0,153.1 294.1,154.4 294.2,153.6 294.3,155.5 294.4,154.9 294.6,153.5 294.7,152.7 294.8,153.2 294.9,153.6 295.0,153.3 295.1,154.5 295.3,153.7 295.4,154.1 295.5,154.0 295.6,153.0 295.7,154.0 295.9,153.8 296.0,152.8 296.1,154.3 296.2,155.3 296.3,151.0 296.4,154.1 296.6,153.3 296.7,153.2 296.8,153.5 296.9,152.9 297.0,154.8 297.2,152.8 297.3,152.9 297.4,154.0 297.5,153.3 297.6,152.9 297.7,152.8 297.9,152.1 298.0,153.7 298.1,152.2 298.2,151.3 298.3,153.7 298.5,153.4 298.6,153.1 298.7,152.5 298.8,153.6 298.9,152.1 299.0,151.3 299.2,152.9 299.3,153.4 299.4,153.3 299.5,154.3 299.6,153.5 299.8,152.8 299.9,152.8 300.0,153.6 300.1,153.8 300.2,155.4 300.3,151.9 300.5,153.2 300.6,152.3 300.7,153.6 300.8,153.3 300.9,154.9 301.1,154.6 301.2,153.2 301.3,154.6 301.4,152.6 301.5,153.5 301.6,155.3 301.8,154.8 301.9,152.7 302.0,153.3 302.1,153.5 302.2,153.4 302.3,153.0 302.5,152.4 302.6,152.5 302.7,153.3 302.8,153.5 302.9,154.5 303.1,156.0 303.2,151.9 303.3,152.9 303.4,154.1 303.5,154.9 303.6,153.9 303.8,153.1 303.9,153.0 304.0,153.9 304.1,153.1 304.2,152.6 304.4,153.3 304.5,153.6 304.6,153.0 304.7,153.0 304.8,153.6 304.9,152.4 305.1,152.2 305.2,153.3 305.3,151.9 305.4,153.1 305.5,152.2 305.7,153.3 305.8,151.8 305.9,153.7 306.0,152.9 306.1,153.1 306.2,152.0 306.4,152.5 306.5,152.9 306.6,151.7 306.7,153.8 306.8,154.3 307.0,154.3 307.1,151.6 307.2,151.1 307.3,152.3 307.4,152.9 307.5,153.0 307.7,151.5 307.8,153.2 307.9,152.4 308.0,151.6 308.1,152.4 308.3,152.8 308.4,152.7 308.5,152.3 308.6,151.9 308.7,151.5 308.8,152.2 309.0,151.3 309.1,152.9 309.2,151.9 309.3,153.4 309.4,151.4 309.6,155.9 309.7,153.5 309.8,152.4 309.9,152.7 310.0,153.2 310.1,152.5 310.3,152.3 310.4,154.0 310.5,152.9 310.6,152.4 310.7,152.4 310.9,153.8 311.0,152.8 311.1,153.2 311.2,154.1 311.3,152.2 311.4,154.9 311.6,152.2 311.7,153.2 311.8,153.7 311.9,151.9 312.0,152.9 312.1,152.9 312.3,154.3 312.4,152.4 312.5,152.5 312.6,153.1 312.7,152.0 312.9,152.9 313.0,153.2 313.1,152.2 313.2,152.7 313.3,152.2 313.4,150.8 313.6,151.7 313.7,151.3 313.8,153.4 313.9,151.9 314.0,153.1 314.2,152.6 314.3,153.9 314.4,153.4 314.5,152.3 314.6,154.3 314.7,153.7 314.9,153.3 315.0,154.3 315.1,152.4 315.2,152.0 315.3,151.4 315.5,152.4 315.6,152.3 315.7,152.3 315.8,153.9 315.9,152.2 316.0,155.9 316.2,153.4 316.3,153.3 316.4,152.3 316.5,153.8 316.6,153.3 316.8,153.1 316.9,153.3 317.0,152.4 317.1,154.4 317.2,152.6 317.3,152.1 317.5,152.2 317.6,152.9 317.7,153.9 317.8,152.5 317.9,153.1 318.1,152.1 318.2,152.9 318.3,151.8 318.4,152.1 318.5,153.7 318.6,152.1 318.8,152.4 318.9,153.3 319.0,152.5 319.1,152.0 319.2,151.6 319.4,152.1 319.5,153.2 319.6,152.3 319.7,152.7 319.8,152.8 319.9,152.9 320.1,153.6 320.2,152.0 320.3,151.5 320.4,151.0 320.5,152.4 320.7,151.8 320.8,152.6 320.9,152.3 321.0,151.6 321.1,152.7 321.2,151.1 321.4,151.2 321.5,151.1 321.6,151.2 321.7,153.3 321.8,151.4 322.0,151.5 322.1,152.9 322.2,151.0 322.3,153.5 322.4,152.3 322.5,153.0 322.7,152.4 322.8,151.9 322.9,151.9 323.0,152.0 323.1,153.1 323.2,151.6 323.4,150.6 323.5,152.4 323.6,151.5 323.7,152.3 323.8,153.4 324.0,152.5 324.1,153.7 324.2,153.1 324.3,152.7 324.4,152.8 324.5,153.1 324.7,152.0 324.8,153.4 324.9,153.8 325.0,152.9 325.1,151.7 325.3,152.2 325.4,153.1 325.5,152.9 325.6,152.7 325.7,153.9 325.8,153.5 326.0,151.9 326.1,153.3 326.2,153.8 326.3,153.5 326.4,153.8 326.6,153.3 326.7,151.8 326.8,152.5 326.9,153.5 327.0,153.8 327.1,154.3 327.3,152.4 327.4,152.6 327.5,155.6 327.6,154.1 327.7,153.2 327.9,153.5 328.0,153.0 328.1,153.5 328.2,155.6 328.3,152.9 328.4,152.4 328.6,152.3 328.7,151.5 328.8,151.5 328.9,151.9 329.0,151.7 329.2,152.3 329.3,152.2 329.4,152.8 329.5,153.2 329.6,152.8 329.7,152.0 329.9,150.8 330.0,153.5 330.1,152.6 330.2,151.6 330.3,152.0 330.5,151.7 330.6,152.9 330.7,152.7 330.8,153.1 330.9,152.2 331.0,154.1 331.2,152.5 331.3,151.6 331.4,152.4 331.5,152.3 331.6,153.6 331.8,152.7 331.9,151.9 332.0,153.1 332.1,153.3 332.2,151.9 332.3,152.1 332.5,152.2 332.6,152.4 332.7,153.7 332.8,153.3 332.9,154.0 333.0,153.3 333.2,153.2 333.3,153.0 333.4,154.5 333.5,151.9 333.6,153.5 333.8,151.1 333.9,152.3 334.0,151.9 334.1,151.1 334.2,152.0 334.3,152.3 334.5,153.1 334.6,151.6 334.7,152.7 334.8,152.5 334.9,152.7 335.1,150.8 335.2,151.8 335.3,152.0 335.4,152.6 335.5,151.6 335.6,152.9 335.8,151.3 335.9,151.3 336.0,151.4 336.1,152.7 336.2,151.3 336.4,150.3 336.5,152.2 336.6,151.7 336.7,152.4 336.8,152.4 336.9,151.8 337.1,152.0 337.2,153.0 337.3,151.9 337.4,151.4 337.5,152.1 337.7,153.7 337.8,153.0 337.9,151.5 338.0,151.5 338.1,152.3 338.2,152.4 338.4,152.9 338.5,152.6 338.6,152.0 338.7,152.2 338.8,151.1 339.0,152.3 339.1,152.1 339.2,153.4 339.3,156.1 339.4,151.4 339.5,151.6 339.7,152.6 339.8,150.5 339.9,151.4 340.0,152.9 340.1,153.8 340.3,152.1 340.4,152.8 340.5,151.8 340.6,152.1 340.7,151.9 340.8,151.9 341.0,152.1 341.1,151.7 341.2,152.1 341.3,150.2 341.4,152.2 341.6,151.7 341.7,151.7 341.8,152.2 341.9,151.8 342.0,152.8 342.1,156.4 342.3,152.7 342.4,152.8 342.5,152.4 342.6,152.1 342.7,151.2 342.9,151.8 343.0,152.9 343.1,154.4 343.2,151.7 343.3,154.2 343.4,152.8 343.6,154.8 343.7,153.2 343.8,151.5 343.9,152.6 344.0,152.5 344.1,152.1 344.3,152.5 344.4,152.3 344.5,150.4 344.6,152.4 344.7,152.7 344.9,152.2 345.0,154.3 345.1,151.3 345.2,151.8 345.3,152.0 345.4,151.6 345.6,152.6 345.7,152.9 345.8,151.3 345.9,153.0 346.0,152.2 346.2,151.3 346.3,152.1 346.4,152.2 346.5,151.8 346.6,150.7 346.7,152.5 346.9,154.6 347.0,151.6 347.1,151.8 347.2,152.5 347.3,151.5 347.5,152.0 347.6,151.7 347.7,151.2 347.8,151.3 347.9,150.8 348.0,151.4 348.2,152.4 348.3,151.8 348.4,151.7 348.5,151.4 348.6,151.3 348.8,150.8 348.9,152.8 349.0,151.1 349.1,150.6 349.2,151.9 349.3,151.8 349.5,151.3 349.6,150.6 349.7,150.7 349.8,153.0 349.9,151.6 350.1,151.2 350.2,153.0 350.3,151.3 350.4,151.0 350.5,152.0 350.6,151.9 350.8,152.9 350.9,150.6 351.0,151.8 351.1,150.4 351.2,156.3 351.4,151.2 351.5,151.3 351.6,151.3 351.7,152.5 351.8,152.7 351.9,151.5 352.1,151.4 352.2,151.7 352.3,151.9 352.4,151.4 352.5,154.0 352.7,151.3 352.8,152.7 352.9,152.9 353.0,151.4 353.1,150.3 353.2,151.1 353.4,151.8 353.5,151.2 353.6,150.5 353.7,153.0 353.8,153.9 353.9,150.0 354.1,151.6 354.2,152.1 354.3,151.1 354.4,151.1 354.5,153.8 354.7,151.7 354.8,152.9 354.9,152.2 355.0,151.7 355.1,152.6 355.2,150.7 355.4,149.8 355.5,151.9 355.6,152.3 355.7,151.8 355.8,151.6 356.0,150.9 356.1,152.2 356.2,151.9 356.3,152.2 356.4,150.8 356.5,151.3 356.7,151.6 356.8,153.3 356.9,154.5 357.0,151.1 357.1,153.7 357.3,151.6 357.4,152.8 357.5,151.1 357.6,153.3 357.7,153.4 357.8,153.8 358.0,151.4 358.1,151.6 358.2,157.2 358.3,153.3 358.4,151.5 358.6,152.8 358.7,151.8 358.8,151.5 358.9,151.1 359.0,152.3 359.1,152.9 359.3,152.1 359.4,150.7 359.5,151.7 359.6,152.8 359.7,152.7 359.9,152.2 360.0,153.0 360.1,151.1 360.2,153.7 360.3,153.6 360.4,152.3 360.6,152.0 360.7,151.4 360.8,149.9 360.9,152.3 361.0,150.8 361.2,150.2 361.3,151.5 361.4,152.6 361.5,151.2 361.6,151.7 361.7,151.1 361.9,151.7 362.0,150.2 362.1,152.8 362.2,150.6 362.3,151.7 362.5,149.9 362.6,152.5 362.7,151.5 362.8,152.6 362.9,150.7 363.0,151.9 363.2,151.1 363.3,151.7 363.4,152.1 363.5,150.9 363.6,151.7 363.8,155.9 363.9,152.5 364.0,152.0 364.1,151.5 364.2,151.5 364.3,152.3 364.5,150.8 364.6,153.0 364.7,151.1 364.8,151.3 364.9,151.3 365.0,151.7 365.2,151.0 365.3,151.4 365.4,150.9 365.5,154.0 365.6,151.4 365.8,151.5 365.9,151.2 366.0,151.4 366.1,151.2 366.2,151.5 366.3,151.1 366.5,150.3 366.6,151.5 366.7,150.5 366.8,155.4 366.9,149.4 367.1,151.2 367.2,151.3 367.3,150.1 367.4,151.2 367.5,151.4 367.6,152.0 367.8,151.2 367.9,150.1 368.0,151.3 368.1,149.4 368.2,150.4 368.4,151.0 368.5,151.2 368.6,150.5 368.7,150.4 368.8,150.7 368.9,150.1 369.1,151.9 369.2,151.3 369.3,150.7 369.4,151.1 369.5,150.0 369.7,150.9 369.8,150.8 369.9,152.9 370.0,151.3 370.1,153.6 370.2,150.6 370.4,151.4 370.5,149.4 370.6,150.9 370.7,149.6 370.8,151.7 371.0,150.9 371.1,151.4 371.2,150.8 371.3,150.5 371.4,150.0 371.5,150.7 371.7,151.6 371.8,151.0 371.9,150.2 372.0,150.3 372.1,150.1 372.3,150.5 372.4,150.9 372.5,151.3 372.6,150.7 372.7,149.6 372.8,151.8 373.0,150.9 373.1,151.9 373.2,152.0 373.3,150.7 373.4,151.0 373.6,151.1 373.7,150.5 373.8,152.1 373.9,152.4 374.0,151.7 374.1,150.7 374.3,151.5 374.4,150.9 374.5,152.5 374.6,150.5 374.7,152.6 374.8,154.1 375.0,151.3 375.1,150.7 375.2,151.4 375.3,151.4 375.4,150.7 375.6,151.7 375.7,153.1 375.8,151.3 375.9,152.0 376.0,151.3 376.1,150.8 376.3,152.2 376.4,151.7 376.5,152.0 376.6,151.6 376.7,151.3 376.9,150.6 377.0,150.9 377.1,152.3 377.2,149.4 377.3,151.3 377.4,152.0 377.6,151.5 377.7,151.9 377.8,150.7 377.9,151.7 378.0,151.7 378.2,150.8 378.3,152.0 378.4,150.7 378.5,149.0 378.6,151.2 378.7,150.7 378.9,151.4 379.0,150.4 379.1,152.0 379.2,149.4 379.3,151.5 379.5,150.6 379.6,152.9 379.7,151.1 379.8,150.8 379.9,153.4 380.0,151.2 380.2,150.0 380.3,150.8 380.4,151.3 380.5,150.9 380.6,149.7 380.8,150.2 380.9,150.8 381.0,151.0 381.1,151.1 381.2,150.1 381.3,151.0 381.5,152.1 381.6,149.5 381.7,152.6 381.8,149.6 381.9,148.9 382.1,148.9 382.2,150.0 382.3,149.8 382.4,150.6 382.5,149.3 382.6,150.2 382.8,149.7 382.9,149.3 383.0,148.3 383.1,149.1 383.2,150.6 383.4,149.0 383.5,149.8 383.6,149.4 383.7,151.0 383.8,149.2 383.9,148.6 384.1,150.6 384.2,149.1 384.3,149.6 384.4,150.7 384.5,150.4 384.7,150.0 384.8,149.9 384.9,149.2 385.0,148.8 385.1,149.4 385.2,150.7 385.4,150.5 385.5,150.5 385.6,149.8 385.7,149.4 385.8,151.0 385.9,150.4 386.1,150.6 386.2,149.6 386.3,149.8 386.4,150.8 386.5,150.9 386.7,149.7 386.8,150.6 386.9,151.8 387.0,151.3 387.1,150.9 387.2,152.0 387.4,151.5 387.5,150.0 387.6,150.8 387.7,150.1 387.8,150.5 388.0,151.2 388.1,152.0 388.2,150.5 388.3,149.6 388.4,150.8 388.5,150.8 388.7,150.8 388.8,151.0 388.9,150.3 389.0,150.8 389.1,149.8 389.3,150.9 389.4,152.7 389.5,149.8 389.6,150.0 389.7,149.2 389.8,150.5 390.0,149.8 390.1,150.1 390.2,150.0 390.3,149.6 390.4,149.9 390.6,148.5 390.7,151.5 390.8,150.3 390.9,150.5 391.0,150.7 391.1,149.7 391.3,150.2 391.4,149.5 391.5,149.5 391.6,151.1 391.7,150.7 391.9,148.6 392.0,150.2 392.1,149.9 392.2,149.3 392.3,150.0 392.4,148.7 392.6,149.4 392.7,148.5 392.8,151.4 392.9,150.3 393.0,150.1 393.2,149.4 393.3,149.1 393.4,149.3 393.5,149.7 393.6,149.5 393.7,149.9 393.9,149.2 394.0,149.4 394.1,150.6 394.2,149.0 394.3,149.6 394.5,148.4 394.6,149.9 394.7,149.5 394.8,149.0 394.9,149.0 395.0,150.2 395.2,149.2 395.3,148.9 395.4,148.1 395.5,148.7 395.6,149.4 395.7,152.7 395.9,149.2 396.0,148.6 396.1,149.5 396.2,148.9 396.3,149.5 396.5,150.6 396.6,147.5 396.7,148.5 396.8,148.8 396.9,148.6 397.0,149.5 397.2,148.6 397.3,150.0 397.4,149.3 397.5,149.1 397.6,148.8 397.8,149.4 397.9,149.2 398.0,149.9 398.1,149.1 398.2,149.6 398.3,149.2 398.5,149.3 398.6,147.8 398.7,148.9 398.8,150.3 398.9,149.2 399.1,148.0 399.2,149.1 399.3,149.5 399.4,147.8 399.5,149.3 399.6,150.4 399.8,151.5 399.9,149.2 400.0,149.7 400.1,148.7 400.2,149.6 400.4,149.5 400.5,148.3 400.6,149.5 400.7,149.8 400.8,148.5 400.9,149.8 401.1,149.2 401.2,148.3 401.3,148.6 401.4,148.7 401.5,149.7 401.7,149.9 401.8,149.0 401.9,148.4 402.0,149.3 402.1,149.0 402.2,149.3 402.4,149.7 402.5,149.8 402.6,148.9 402.7,149.2 402.8,149.6 403.0,149.3 403.1,151.3 403.2,150.8 403.3,149.3 403.4,148.4 403.5,149.3 403.7,150.1 403.8,150.0 403.9,150.0 404.0,150.0 404.1,149.8 404.3,149.4 404.4,151.5 404.5,151.0 404.6,149.8 404.7,148.5 404.8,148.3 405.0,150.6 405.1,149.7 405.2,149.6 405.3,150.2 405.4,151.3 405.6,151.1 405.7,147.4 405.8,149.4 405.9,149.9 406.0,147.7 406.1,147.8 406.3,148.9 406.4,150.3 406.5,149.6 406.6,150.5 406.7,149.1 406.8,150.5 407.0,150.0 407.1,149.2 407.2,148.9 407.3,148.9 407.4,146.3 407.6,149.1 407.7,147.5 407.8,148.2 407.9,149.3 408.0,149.0 408.1,147.4 408.3,149.1 408.4,149.3 408.5,148.9 408.6,149.2 408.7,149.9 408.9,147.5 409.0,148.6 409.1,148.5 409.2,148.8 409.3,148.7 409.4,148.2 409.6,148.7 409.7,148.2 409.8,149.5 409.9,150.4 410.0,148.4 410.2,148.9 410.3,149.4 410.4,150.0 410.5,148.8 410.6,147.3 410.7,149.2 410.9,148.8 411.0,148.2 411.1,148.8 411.2,148.6 411.3,149.3 411.5,148.7 411.6,148.8 411.7,149.4 411.8,149.1 411.9,149.0 412.0,149.8 412.2,149.1 412.3,148.4 412.4,150.2 412.5,149.0 412.6,150.1 412.8,148.2 412.9,150.7 413.0,150.2 413.1,150.7 413.2,149.0 413.3,148.5 413.5,148.5 413.6,149.1 413.7,148.3 413.8,148.4 413.9,148.2 414.1,148.2 414.2,149.1 414.3,147.7 414.4,150.0 414.5,149.4 414.6,148.2 414.8,148.2 414.9,148.9 415.0,149.9 415.1,149.5 415.2,147.5 415.4,148.8 415.5,152.0 415.6,149.6 415.7,150.1 415.8,150.4 415.9,148.5 416.1,149.9 416.2,149.2 416.3,148.8 416.4,149.5 416.5,148.7 416.6,148.3 416.8,149.0 416.9,149.9 417.0,150.2 417.1,148.6 417.2,149.2 417.4,149.2 417.5,147.2 417.6,149.5 417.7,148.4 417.8,148.0 417.9,149.4 418.1,150.0 418.2,148.0 418.3,148.2 418.4,148.1 418.5,149.3 418.7,149.2 418.8,148.1 418.9,147.6 419.0,149.9 419.1,148.3 419.2,148.1 419.4,149.3 419.5,148.4 419.6,149.3 419.7,149.1 419.8,149.2 420.0,149.4 420.1,148.9 420.2,147.4 420.3,147.9 420.4,148.5 420.5,148.2 420.7,149.3 420.8,148.2 420.9,147.2 421.0,148.4 421.1,148.1 421.3,148.4 421.4,147.8 421.5,147.7 421.6,148.3 421.7,149.1 421.8,149.4 422.0,148.8 422.1,147.3 422.2,148.2 422.3,148.5 422.4,150.6 422.6,148.8 422.7,148.2 422.8,148.3 422.9,148.4 423.0,147.5 423.1,148.5 423.3,149.1 423.4,149.0 423.5,148.4 423.6,148.6 423.7,149.4 423.9,149.6 424.0,150.2 424.1,149.1 424.2,148.2 424.3,147.4 424.4,148.2 424.6,148.4 424.7,149.3 424.8,148.0 424.9,150.4 425.0,147.9 425.2,149.0 425.3,147.3 425.4,148.8 425.5,149.2 425.6,148.9 425.7,150.1 425.9,150.6 426.0,147.6 426.1,148.7 426.2,148.9 426.3,148.8 426.5,150.2 426.6,148.7 426.7,149.6 426.8,149.3 426.9,148.6 427.0,148.9 427.2,148.2 427.3,148.7 427.4,148.6 427.5,148.4 427.6,148.1 427.7,149.1 427.9,148.7 428.0,150.8 428.1,149.5 428.2,149.0 428.3,148.0 428.5,149.0 428.6,148.9 428.7,148.5 428.8,148.7 428.9,148.8 429.0,148.5 429.2,148.0 429.3,147.9 429.4,148.1 429.5,147.4 429.6,147.9 429.8,149.2 429.9,147.8 430.0,149.8 430.1,147.3 430.2,149.0 430.3,150.5 430.5,149.6 430.6,149.8 430.7,147.0 430.8,149.0 430.9,148.8 431.1,148.1 431.2,146.4 431.3,148.8 431.4,147.4 431.5,147.8 431.6,148.8 431.8,148.8 431.9,149.2 432.0,147.5 432.1,149.0 432.2,149.0 432.4,147.7 432.5,147.9 432.6,147.9 432.7,149.1 432.8,151.1 432.9,148.0 433.1,147.3 433.2,150.4 433.3,146.4 433.4,148.9 433.5,148.5 433.7,148.9 433.8,147.0 433.9,147.7 434.0,147.0 434.1,147.2 434.2,146.3 434.4,147.5 434.5,147.5 434.6,147.8 434.7,147.8 434.8,147.9 435.0,149.3 435.1,147.4 435.2,147.4 435.3,147.7 435.4,146.9 435.5,145.9 435.7,146.4 435.8,149.9 435.9,147.6 436.0,146.8 436.1,147.9 436.3,148.2 436.4,147.3 436.5,149.6 436.6,147.8 436.7,147.7 436.8,148.1 437.0,146.9 437.1,147.1 437.2,147.9 437.3,147.3 437.4,147.6 437.5,146.7 437.7,146.9 437.8,147.6 437.9,146.8 438.0,146.8 438.1,147.1 438.3,148.5 438.4,148.1 438.5,147.3 438.6,147.4 438.7,146.6 438.8,148.0 439.0,147.4 439.1,147.8 439.2,147.5 439.3,147.7 439.4,148.4 439.6,147.7 439.7,148.8 439.8,147.4 439.9,146.9 440.0,147.7 440.1,146.4 440.3,148.2 440.4,147.5 440.5,146.5 440.6,148.9 440.7,147.9 440.9,148.3 441.0,148.0 441.1,148.5 441.2,147.3 441.3,146.6 441.4,147.8 441.6,147.7 441.7,147.0 441.8,147.8 441.9,146.7 442.0,148.8 442.2,147.8 442.3,150.3 442.4,147.4 442.5,148.1 442.6,147.5 442.7,147.0 442.9,147.7 443.0,147.2 443.1,148.4 443.2,147.1 443.3,147.0 443.5,148.8 443.6,147.0 443.7,147.6 443.8,147.0 443.9,147.5 444.0,149.4 444.2,146.3 444.3,147.5 444.4,147.2 444.5,147.1 444.6,146.5 444.8,146.3 444.9,148.4 445.0,147.3 445.1,146.0 445.2,146.8 445.3,145.9 445.5,148.8 445.6,147.0 445.7,145.4 445.8,147.3 445.9,147.8 446.1,146.8 446.2,146.7 446.3,146.6 446.4,146.3 446.5,145.0 446.6,147.6 446.8,148.3 446.9,146.7 447.0,146.8 447.1,145.9 447.2,146.0 447.4,145.3 447.5,145.4 447.6,146.7 447.7,147.3 447.8,146.2 447.9,148.1 448.1,146.8 448.2,144.7 448.3,146.0 448.4,147.2 448.5,146.4 448.6,147.0 448.8,147.5 448.9,147.2 449.0,145.5 449.1,146.6 449.2,147.8 449.4,146.6 449.5,146.2 449.6,147.0 449.7,145.9 449.8,146.1 449.9,147.2 450.1,145.5 450.2,145.7 450.3,147.8 450.4,145.8 450.5,147.7 450.7,148.6 450.8,146.7 450.9,146.6 451.0,147.5 451.1,146.1 451.2,148.3 451.4,151.8 451.5,146.6 451.6,147.2 451.7,147.6 451.8,147.5 452.0,146.6 452.1,146.5 452.2,147.1 452.3,145.6 452.4,146.9 452.5,146.6 452.7,146.1 452.8,147.4 452.9,146.6 453.0,146.3 453.1,146.4 453.3,147.1 453.4,147.8 453.5,146.2 453.6,144.3 453.7,145.7 453.8,145.6 454.0,145.4 454.1,146.0 454.2,145.2 454.3,145.6 454.4,147.3 454.6,145.1 454.7,146.6 454.8,145.9 454.9,146.9 455.0,146.6 455.1,146.0 455.3,146.7 455.4,146.0 455.5,145.1 455.6,146.2 455.7,146.2 455.9,145.8 456.0,146.0 456.1,145.6 456.2,146.0 456.3,145.6 456.4,146.2 456.6,145.6 456.7,146.9 456.8,146.4 456.9,146.8 457.0,146.4 457.2,145.5 457.3,145.0 457.4,146.4 457.5,146.4 457.6,149.7 457.7,146.2 457.9,146.2 458.0,146.6 458.1,145.1 458.2,146.2 458.3,146.1 458.5,145.2 458.6,145.7 458.7,144.7 458.8,147.6 458.9,145.0 459.0,145.4 459.2,146.0 459.3,146.1 459.4,145.1 459.5,149.0 459.6,147.0 459.7,147.0 459.9,146.5 460.0,145.9 460.1,146.6 460.2,145.0 460.3,146.0 460.5,145.8 460.6,147.1 460.7,145.3 460.8,147.4 460.9,144.7 461.0,144.7 461.2,145.5 461.3,147.0 461.4,146.4 461.5,146.1 461.6,146.0 461.8,146.3 461.9,146.4 462.0,146.0 462.1,147.8 462.2,144.8 462.3,146.7 462.5,145.7 462.6,146.3 462.7,146.3 462.8,146.7 462.9,145.6 463.1,146.6 463.2,146.6 463.3,145.9 463.4,146.0 463.5,146.1 463.6,145.3 463.8,145.7 463.9,145.2 464.0,146.8 464.1,145.4 464.2,145.7 464.4,146.1 464.5,146.3 464.6,145.7 464.7,145.2 464.8,146.2 464.9,146.8 465.1,144.7 465.2,146.5 465.3,145.2 465.4,146.7 465.5,145.5 465.7,145.6 465.8,146.3 465.9,146.7 466.0,147.2 466.1,146.6 466.2,146.1 466.4,144.7 466.5,145.4 466.6,145.7 466.7,145.1 466.8,145.9 467.0,145.3 467.1,146.7 467.2,145.3 467.3,144.5 467.4,145.0 467.5,144.8 467.7,145.7 467.8,146.2 467.9,145.9 468.0,145.9 468.1,144.7 468.3,144.4 468.4,144.7 468.5,145.3 468.6,144.8 468.7,145.2 468.8,145.7 469.0,145.1 469.1,146.2 469.2,144.5 469.3,145.4 469.4,145.0 469.5,145.7 469.7,145.0 469.8,144.6 469.9,144.9 470.0,144.4 470.1,144.2 470.3,145.6 470.4,145.4 470.5,145.9 470.6,146.8 470.7,144.7 470.8,145.6 471.0,144.9 471.1,143.7 471.2,144.9 471.3,146.0 471.4,144.1 471.6,149.8 471.7,144.8 471.8,144.2 471.9,145.3 472.0,144.8 472.1,145.6 472.3,144.9 472.4,144.0 472.5,144.9 472.6,146.2 472.7,144.6 472.9,145.2 473.0,145.1 473.1,143.9 473.2,145.2 473.3,143.3 473.4,144.1 473.6,144.8 473.7,144.0 473.8,144.1 473.9,145.9 474.0,143.9 474.2,145.5 474.3,145.9 474.4,145.6 474.5,143.9 474.6,143.6 474.7,145.4 474.9,146.1 475.0,144.5 475.1,144.5 475.2,144.6 475.3,145.2 475.5,145.5 475.6,145.0 475.7,144.6 475.8,145.6 475.9,144.8 476.0,144.9 476.2,144.8 476.3,144.9 476.4,144.4 476.5,148.4 476.6,144.6 476.8,144.2 476.9,145.3 477.0,147.3 477.1,145.3 477.2,144.5 477.3,145.0 477.5,145.4 477.6,144.9 477.7,145.4 477.8,144.9 477.9,144.8 478.1,146.0 478.2,146.1 478.3,146.2 478.4,145.0 478.5,146.5 478.6,145.7 478.8,144.4 478.9,145.1 479.0,144.6 479.1,145.1 479.2,144.1 479.4,145.4 479.5,146.5 479.6,145.5 479.7,144.0 479.8,145.3 479.9,143.9 480.1,145.3 480.2,145.7 480.3,146.0 480.4,145.0 480.5,145.6 480.6,145.0 480.8,146.6 480.9,146.1 481.0,144.3 481.1,144.2 481.2,146.2 481.4,146.6 481.5,143.9 481.6,148.8 481.7,145.6 481.8,144.8 481.9,144.4 482.1,145.2 482.2,146.2 482.3,145.6 482.4,145.1 482.5,146.2 482.7,144.6 482.8,146.2 482.9,145.7 483.0,145.8 483.1,144.8 483.2,144.9 483.4,145.1 483.5,145.9 483.6,145.2 483.7,144.7 483.8,144.9 484.0,145.3 484.1,145.0 484.2,145.0 484.3,144.2 484.4,144.7 484.5,144.4 484.7,145.9 484.8,145.1 484.9,145.6 485.0,144.3 485.1,145.2 485.3,145.5 485.4,145.6 485.5,144.8 485.6,145.5 485.7,145.5 485.8,147.7 486.0,144.3 486.1,146.0 486.2,145.5 486.3,146.1 486.4,145.7 486.6,145.4 486.7,146.3 486.8,146.2 486.9,145.0 487.0,146.6 487.1,145.1 487.3,146.5 487.4,146.2 487.5,145.6 487.6,147.4 487.7,145.2 487.9,145.5 488.0,145.9 488.1,145.5 488.2,145.1 488.3,148.5 488.4,146.0 488.6,145.2 488.7,145.2 488.8,144.1 488.9,145.9 489.0,145.8 489.2,145.0 489.3,144.6 489.4,145.0 489.5,145.8 489.6,147.4 489.7,145.3 489.9,145.2 490.0,144.7 490.1,144.9 490.2,147.1 490.3,145.0 490.4,147.0 490.6,145.1 490.7,144.4 490.8,149.6 490.9,146.2 491.0,144.7 491.2,145.4 491.3,144.7 491.4,144.9 491.5,147.1 491.6,146.0 491.7,144.5 491.9,144.2 492.0,144.6 492.1,146.8 492.2,144.9 492.3,145.1 492.5,144.5 492.6,145.8 492.7,145.5 492.8,143.6 492.9,144.1 493.0,144.2 493.2,143.9 493.3,144.1 493.4,144.2 493.5,144.2 493.6,145.1 493.8,145.4 493.9,144.6 494.0,146.1 494.1,143.6 494.2,145.5 494.3,146.1 494.5,144.4 494.6,144.9 494.7,146.5 494.8,143.0 494.9,145.4 495.1,144.8 495.2,144.6 495.3,144.2 495.4,145.3 495.5,144.9 495.6,143.6 495.8,144.1 495.9,144.2 496.0,144.7 496.1,144.5 496.2,144.6 496.4,144.4 496.5,144.7 496.6,144.8 496.7,144.7 496.8,144.4 496.9,145.1 497.1,146.2 497.2,143.5 497.3,144.7 497.4,145.1 497.5,144.6 497.7,144.1 497.8,146.1 497.9,144.8 498.0,144.5 498.1,144.1 498.2,145.4 498.4,143.1 498.5,144.0 498.6,144.3 498.7,144.9 498.8,145.9 499.0,145.4 499.1,144.6 499.2,144.9 499.3,144.7 499.4,144.2 499.5,144.4 499.7,144.5 499.8,145.1 499.9,147.3 500.0,144.1 500.1,144.5 500.3,145.0 500.4,145.8 500.5,144.9 500.6,146.4 500.7,145.0 500.8,143.9 501.0,146.1 501.1,144.3 501.2,146.4 501.3,145.4 501.4,145.5 501.5,144.3 501.7,145.5 501.8,145.2 501.9,144.7 502.0,146.3 502.1,145.8 502.3,146.2 502.4,144.5 502.5,144.8 502.6,146.3 502.7,145.7 502.8,145.9 503.0,144.9 503.1,145.5 503.2,145.8 503.3,144.5 503.4,145.8 503.6,146.3 503.7,146.2 503.8,145.0 503.9,145.8 504.0,144.7 504.1,144.5 504.3,146.2 504.4,144.6 504.5,145.4 504.6,145.0 504.7,145.7 504.9,145.2 505.0,144.8 505.1,144.4 505.2,145.3 505.3,146.3 505.4,146.0 505.6,145.6 505.7,145.4 505.8,146.4 505.9,146.0 506.0,146.3 506.2,146.9 506.3,146.5 506.4,148.5 506.5,146.2 506.6,145.7 506.7,146.0 506.9,146.8 507.0,145.2 507.1,146.9 507.2,145.8 507.3,144.9 507.5,146.9 507.6,148.9 507.7,146.5 507.8,145.2 507.9,148.2 508.0,146.8 508.2,146.9 508.3,145.9 508.4,146.4 508.5,145.9 508.6,146.2 508.8,145.4 508.9,145.7 509.0,145.9 509.1,146.3 509.2,146.9 509.3,146.7 509.5,145.1 509.6,147.0 509.7,145.3 509.8,147.0 509.9,146.2 510.1,146.4 510.2,146.1 510.3,145.7 510.4,148.0 510.5,144.8 510.6,145.8 510.8,147.4 510.9,148.2 511.0,146.5 511.1,147.6 511.2,146.2 511.3,147.5 511.5,146.3 511.6,146.7 511.7,147.0 511.8,145.2 511.9,148.2 512.1,145.9 512.2,147.8 512.3,146.9 512.4,145.6 512.5,146.2 512.6,146.3 512.8,146.3 512.9,147.4 513.0,145.8 513.1,148.4 513.2,144.7 513.4,148.1 513.5,147.0 513.6,146.8 513.7,146.0 513.8,146.0 513.9,145.9 514.1,146.8 514.2,148.0 514.3,145.2 514.4,147.3 514.5,146.5 514.7,145.8 514.8,147.4 514.9,147.9 515.0,147.7 515.1,146.3 515.2,145.5 515.4,146.3 515.5,147.4 515.6,146.3 515.7,147.0 515.8,148.4 516.0,149.0 516.1,147.5 516.2,146.8 516.3,146.5 516.4,148.8 516.5,146.5 516.7,147.5 516.8,148.0 516.9,147.1 517.0,148.6 517.1,147.2 517.3,148.0 517.4,148.0 517.5,147.4 517.6,147.1 517.7,146.8 517.8,148.7 518.0,148.4 518.1,147.5 518.2,148.2 518.3,148.9 518.4,146.3 518.6,147.7 518.7,146.4 518.8,146.7 518.9,148.0 519.0,146.0 519.1,147.1 519.3,146.9 519.4,146.3 519.5,146.3 519.6,147.5 519.7,147.0 519.9,147.3 520.0,146.2 520.1,147.3 520.2,146.4 520.3,146.8 520.4,148.0 520.6,146.9 520.7,147.1 520.8,149.8 520.9,147.9 521.0,149.2 521.2,147.4 521.3,150.8 521.4,146.8 521.5,148.1 521.6,147.9 521.7,148.2 521.9,147.3 522.0,147.5 522.1,148.4 522.2,147.2 522.3,149.0 522.4,147.8 522.6,150.3 522.7,147.8 522.8,147.1 522.9,149.1 523.0,148.7 523.2,148.2 523.3,148.7 523.4,149.4 523.5,148.7 523.6,148.4 523.7,147.6 523.9,149.0 524.0,147.6 524.1,149.8 524.2,148.2 524.3,149.1 524.5,148.1 524.6,149.9 524.7,150.0 524.8,148.6 524.9,147.8 525.0,146.8 525.2,147.6 525.3,150.6 525.4,149.7 525.5,146.9 525.6,148.4 525.8,149.1 525.9,147.4 526.0,149.6 526.1,148.3 526.2,148.4 526.3,148.2 526.5,150.0 526.6,149.2 526.7,148.7"/>
<g font-size="15"><line x1="68.4" y1="31.0" x2="98.10000000000001" y2="31.0" stroke="#7030A0" stroke-width="2" stroke-opacity="0.62"/><text x="101.10000000000001" y="35.3" >SHT35</text><line x1="165.4" y1="31.0" x2="195.1" y2="31.0" stroke="#00B050" stroke-width="2" stroke-opacity="0.62"/><text x="198.10000000000002" y="35.3" >SHT21</text><line x1="68.4" y1="54.3" x2="98.10000000000001" y2="54.3" stroke="#000000" stroke-width="1.1" stroke-opacity="0.9"/><text x="101.10000000000001" y="58.9" >DHT22</text><line x1="165.4" y1="54.6" x2="195.1" y2="54.6" stroke="#FFC000" stroke-width="2" stroke-opacity="0.62"/><text x="198.10000000000002" y="58.9" >BMP280</text><line x1="68.4" y1="78.2" x2="98.10000000000001" y2="78.2" stroke="#00B0F0" stroke-width="2" stroke-opacity="0.62"/><text x="101.10000000000001" y="82.5" >BMP180</text></g>
<text x="290.6" y="352" font-size="15" text-anchor="middle">Number of measurements</text>
<text transform="translate(18.3,160.8) rotate(-90)" font-size="15" text-anchor="middle">Standard Deviation</text>
</svg>
</body></html>
